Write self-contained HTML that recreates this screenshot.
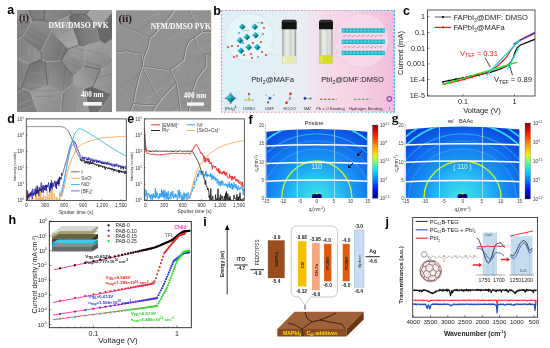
<!DOCTYPE html>
<html><head><meta charset="utf-8"><style>
html,body{margin:0;padding:0;background:#fff;width:550px;height:348px;overflow:hidden}
svg{display:block}
</style></head><body>
<svg width="550" height="348" viewBox="0 0 550 348">
<filter id="semblur" x="-5%" y="-5%" width="110%" height="110%"><feGaussianBlur stdDeviation="0.5"/></filter>
<clipPath id="c1"><rect x="17" y="10" width="94.3" height="101.8"/></clipPath>
<g clip-path="url(#c1)"><g filter="url(#semblur)">
<rect x="14.0" y="7.0" width="100.3" height="107.8" fill="rgb(134,134,134)" stroke="none" stroke-width="1" />
<linearGradient id="c1g0" gradientTransform="rotate(85 .5 .5)"><stop offset="0" stop-color="rgb(172,172,172)"/><stop offset="1" stop-color="rgb(144,144,144)"/></linearGradient>
<polygon points="33.3,20.0 -275.8,-696.3 -848.0,-124.1 31.9,20.9" fill="url(#c1g0)" stroke="rgb(100,100,100)" stroke-width="0.8" />
<line x1="-848.0" y1="-124.1" x2="31.9" y2="20.9" stroke="rgb(190,190,190)" stroke-width="0.9" opacity="0.8"/>
<line x1="31.9" y1="20.9" x2="33.3" y2="20.0" stroke="rgb(190,190,190)" stroke-width="0.9" opacity="0.8"/>
<clipPath id="c1k0"><polygon points="33.3,20.0 -275.8,-696.3 -848.0,-124.1 31.9,20.9"/></clipPath><g clip-path="url(#c1k0)">
<line x1="37.3" y1="1.7" x2="38.4" y2="17.5" stroke="rgb(180,180,180)" stroke-width="0.7" opacity="0.45"/>
<line x1="33.2" y1="0.0" x2="34.5" y2="19.7" stroke="rgb(180,180,180)" stroke-width="0.7" opacity="0.45"/>
<line x1="29.4" y1="3.3" x2="30.3" y2="17.0" stroke="rgb(100,100,100)" stroke-width="0.7" opacity="0.45"/>
<line x1="25.5" y1="3.5" x2="26.4" y2="17.3" stroke="rgb(100,100,100)" stroke-width="0.7" opacity="0.45"/>
<line x1="17.5" y1="3.8" x2="18.5" y2="18.0" stroke="rgb(180,180,180)" stroke-width="0.7" opacity="0.45"/>
<line x1="13.4" y1="2.5" x2="14.6" y2="19.9" stroke="rgb(180,180,180)" stroke-width="0.7" opacity="0.45"/>
<line x1="9.3" y1="0.4" x2="10.8" y2="22.5" stroke="rgb(180,180,180)" stroke-width="0.7" opacity="0.45"/>
<line x1="-2.3" y1="6.2" x2="-1.5" y2="18.3" stroke="rgb(100,100,100)" stroke-width="0.7" opacity="0.45"/>
</g>
<linearGradient id="c1g1" gradientTransform="rotate(107 .5 .5)"><stop offset="0" stop-color="rgb(149,149,149)"/><stop offset="1" stop-color="rgb(121,121,121)"/></linearGradient>
<polygon points="33.3,20.0 -275.8,-696.3 -19.5,-959.8 53.5,-81.7 44.0,20.4" fill="url(#c1g1)" stroke="rgb(100,100,100)" stroke-width="0.8" />
<line x1="-19.5" y1="-959.8" x2="53.5" y2="-81.7" stroke="rgb(190,190,190)" stroke-width="0.9" opacity="0.8"/>
<clipPath id="c1k1"><polygon points="33.3,20.0 -275.8,-696.3 -19.5,-959.8 53.5,-81.7 44.0,20.4"/></clipPath><g clip-path="url(#c1k1)">
<line x1="51.8" y1="6.0" x2="46.3" y2="14.4" stroke="rgb(100,100,100)" stroke-width="0.7" opacity="0.45"/>
<line x1="48.8" y1="-0.4" x2="39.2" y2="14.3" stroke="rgb(180,180,180)" stroke-width="0.7" opacity="0.45"/>
<line x1="40.9" y1="-10.2" x2="27.1" y2="11.2" stroke="rgb(180,180,180)" stroke-width="0.7" opacity="0.45"/>
<line x1="29.5" y1="-14.5" x2="18.5" y2="2.5" stroke="rgb(180,180,180)" stroke-width="0.7" opacity="0.45"/>
</g>
<linearGradient id="c1g2" gradientTransform="rotate(65 .5 .5)"><stop offset="0" stop-color="rgb(156,156,156)"/><stop offset="1" stop-color="rgb(128,128,128)"/></linearGradient>
<polygon points="50.8,24.0 44.0,20.4 53.5,-81.7 71.0,14.2 69.4,16.0" fill="url(#c1g2)" stroke="rgb(100,100,100)" stroke-width="0.8" />
<line x1="69.4" y1="16.0" x2="50.8" y2="24.0" stroke="rgb(190,190,190)" stroke-width="0.9" opacity="0.8"/>
<clipPath id="c1k2"><polygon points="50.8,24.0 44.0,20.4 53.5,-81.7 71.0,14.2 69.4,16.0"/></clipPath><g clip-path="url(#c1k2)">
<line x1="71.9" y1="17.4" x2="53.9" y2="26.5" stroke="rgb(100,100,100)" stroke-width="0.7" opacity="0.45"/>
<line x1="71.7" y1="13.0" x2="50.5" y2="23.8" stroke="rgb(100,100,100)" stroke-width="0.7" opacity="0.45"/>
<line x1="56.4" y1="-6.2" x2="44.0" y2="0.1" stroke="rgb(180,180,180)" stroke-width="0.7" opacity="0.45"/>
<line x1="60.6" y1="-12.8" x2="36.2" y2="-0.5" stroke="rgb(100,100,100)" stroke-width="0.7" opacity="0.45"/>
<line x1="55.0" y1="-14.5" x2="38.2" y2="-5.9" stroke="rgb(180,180,180)" stroke-width="0.7" opacity="0.45"/>
</g>
<linearGradient id="c1g3" gradientTransform="rotate(19 .5 .5)"><stop offset="0" stop-color="rgb(140,140,140)"/><stop offset="1" stop-color="rgb(112,112,112)"/></linearGradient>
<polygon points="71.0,14.2 53.5,-81.7 -19.5,-959.8 17.0,-999.1 529.2,-515.5 86.0,14.3" fill="url(#c1g3)" stroke="rgb(100,100,100)" stroke-width="0.8" />
<line x1="53.5" y1="-81.7" x2="-19.5" y2="-959.8" stroke="rgb(190,190,190)" stroke-width="0.9" opacity="0.8"/>
<clipPath id="c1k3"><polygon points="71.0,14.2 53.5,-81.7 -19.5,-959.8 17.0,-999.1 529.2,-515.5 86.0,14.3"/></clipPath><g clip-path="url(#c1k3)">
<line x1="104.7" y1="-6.5" x2="101.7" y2="10.8" stroke="rgb(180,180,180)" stroke-width="0.7" opacity="0.45"/>
<line x1="100.6" y1="-6.4" x2="97.8" y2="9.3" stroke="rgb(100,100,100)" stroke-width="0.7" opacity="0.45"/>
<line x1="93.1" y1="-11.2" x2="89.2" y2="11.3" stroke="rgb(180,180,180)" stroke-width="0.7" opacity="0.45"/>
<line x1="80.3" y1="-9.4" x2="77.8" y2="5.3" stroke="rgb(180,180,180)" stroke-width="0.7" opacity="0.45"/>
<line x1="72.6" y1="-12.8" x2="69.3" y2="5.9" stroke="rgb(180,180,180)" stroke-width="0.7" opacity="0.45"/>
<line x1="68.9" y1="-15.4" x2="65.0" y2="7.1" stroke="rgb(180,180,180)" stroke-width="0.7" opacity="0.45"/>
</g>
<linearGradient id="c1g4" gradientTransform="rotate(303 .5 .5)"><stop offset="0" stop-color="rgb(162,162,162)"/><stop offset="1" stop-color="rgb(134,134,134)"/></linearGradient>
<polygon points="98.0,28.3 86.0,14.3 529.2,-515.5 559.6,-487.8" fill="url(#c1g4)" stroke="rgb(100,100,100)" stroke-width="0.8" />
<line x1="559.6" y1="-487.8" x2="98.0" y2="28.3" stroke="rgb(190,190,190)" stroke-width="0.9" opacity="0.8"/>
<clipPath id="c1k4"><polygon points="98.0,28.3 86.0,14.3 529.2,-515.5 559.6,-487.8"/></clipPath><g clip-path="url(#c1k4)">
<line x1="116.7" y1="2.9" x2="117.8" y2="23.3" stroke="rgb(180,180,180)" stroke-width="0.7" opacity="0.45"/>
<line x1="112.2" y1="5.0" x2="113.2" y2="21.8" stroke="rgb(180,180,180)" stroke-width="0.7" opacity="0.45"/>
<line x1="103.3" y1="8.2" x2="104.0" y2="19.6" stroke="rgb(180,180,180)" stroke-width="0.7" opacity="0.45"/>
<line x1="98.5" y1="3.5" x2="99.7" y2="24.8" stroke="rgb(180,180,180)" stroke-width="0.7" opacity="0.45"/>
<line x1="85.3" y1="9.4" x2="85.9" y2="20.4" stroke="rgb(180,180,180)" stroke-width="0.7" opacity="0.45"/>
</g>
<linearGradient id="c1g5" gradientTransform="rotate(122 .5 .5)"><stop offset="0" stop-color="rgb(141,141,141)"/><stop offset="1" stop-color="rgb(113,113,113)"/></linearGradient>
<polygon points="22.5,37.3 -3.4,48.3 -928.5,66.7 -984.4,10.0 -848.0,-124.1 31.9,20.9" fill="url(#c1g5)" stroke="rgb(100,100,100)" stroke-width="0.8" />
<line x1="22.5" y1="37.3" x2="-3.4" y2="48.3" stroke="rgb(190,190,190)" stroke-width="0.9" opacity="0.8"/>
<line x1="-984.4" y1="10.0" x2="-848.0" y2="-124.1" stroke="rgb(190,190,190)" stroke-width="0.9" opacity="0.8"/>
<line x1="-848.0" y1="-124.1" x2="31.9" y2="20.9" stroke="rgb(190,190,190)" stroke-width="0.9" opacity="0.8"/>
<clipPath id="c1k5"><polygon points="22.5,37.3 -3.4,48.3 -928.5,66.7 -984.4,10.0 -848.0,-124.1 31.9,20.9"/></clipPath><g clip-path="url(#c1k5)">
<line x1="24.5" y1="36.8" x2="16.0" y2="40.0" stroke="rgb(100,100,100)" stroke-width="0.7" opacity="0.45"/>
<line x1="28.8" y1="28.2" x2="7.0" y2="36.4" stroke="rgb(180,180,180)" stroke-width="0.7" opacity="0.45"/>
<line x1="19.4" y1="24.8" x2="11.8" y2="27.7" stroke="rgb(180,180,180)" stroke-width="0.7" opacity="0.45"/>
<line x1="18.7" y1="4.2" x2="-1.3" y2="11.8" stroke="rgb(180,180,180)" stroke-width="0.7" opacity="0.45"/>
</g>
<linearGradient id="c1g6" gradientTransform="rotate(95 .5 .5)"><stop offset="0" stop-color="rgb(142,142,142)"/><stop offset="1" stop-color="rgb(114,114,114)"/></linearGradient>
<polygon points="51.3,30.7 40.8,51.8 22.5,37.3 31.9,20.9 33.3,20.0 44.0,20.4 50.8,24.0" fill="url(#c1g6)" stroke="rgb(100,100,100)" stroke-width="0.8" />
<line x1="40.8" y1="51.8" x2="22.5" y2="37.3" stroke="rgb(190,190,190)" stroke-width="0.9" opacity="0.8"/>
<line x1="22.5" y1="37.3" x2="31.9" y2="20.9" stroke="rgb(190,190,190)" stroke-width="0.9" opacity="0.8"/>
<clipPath id="c1k6"><polygon points="51.3,30.7 40.8,51.8 22.5,37.3 31.9,20.9 33.3,20.0 44.0,20.4 50.8,24.0"/></clipPath><g clip-path="url(#c1k6)">
<line x1="33.6" y1="13.5" x2="57.6" y2="26.6" stroke="rgb(180,180,180)" stroke-width="0.7" opacity="0.45"/>
<line x1="30.2" y1="28.1" x2="47.0" y2="37.4" stroke="rgb(100,100,100)" stroke-width="0.7" opacity="0.45"/>
<line x1="26.8" y1="31.8" x2="45.8" y2="42.2" stroke="rgb(100,100,100)" stroke-width="0.7" opacity="0.45"/>
<line x1="24.6" y1="36.1" x2="43.3" y2="46.4" stroke="rgb(180,180,180)" stroke-width="0.7" opacity="0.45"/>
<line x1="18.9" y1="44.0" x2="39.7" y2="55.4" stroke="rgb(100,100,100)" stroke-width="0.7" opacity="0.45"/>
<line x1="18.8" y1="49.4" x2="35.2" y2="58.4" stroke="rgb(180,180,180)" stroke-width="0.7" opacity="0.45"/>
</g>
<linearGradient id="c1g7" gradientTransform="rotate(230 .5 .5)"><stop offset="0" stop-color="rgb(167,167,167)"/><stop offset="1" stop-color="rgb(139,139,139)"/></linearGradient>
<polygon points="68.3,48.9 51.3,30.7 50.8,24.0 69.4,16.0 79.6,44.9" fill="url(#c1g7)" stroke="rgb(100,100,100)" stroke-width="0.8" />
<line x1="51.3" y1="30.7" x2="50.8" y2="24.0" stroke="rgb(190,190,190)" stroke-width="0.9" opacity="0.8"/>
<line x1="50.8" y1="24.0" x2="69.4" y2="16.0" stroke="rgb(190,190,190)" stroke-width="0.9" opacity="0.8"/>
<line x1="79.6" y1="44.9" x2="68.3" y2="48.9" stroke="rgb(190,190,190)" stroke-width="0.9" opacity="0.8"/>
<clipPath id="c1k7"><polygon points="68.3,48.9 51.3,30.7 50.8,24.0 69.4,16.0 79.6,44.9"/></clipPath><g clip-path="url(#c1k7)">
<line x1="80.2" y1="51.7" x2="70.8" y2="55.9" stroke="rgb(180,180,180)" stroke-width="0.7" opacity="0.45"/>
<line x1="79.1" y1="45.4" x2="66.9" y2="50.9" stroke="rgb(180,180,180)" stroke-width="0.7" opacity="0.45"/>
<line x1="76.1" y1="33.4" x2="59.9" y2="40.6" stroke="rgb(180,180,180)" stroke-width="0.7" opacity="0.45"/>
<line x1="69.3" y1="29.7" x2="61.8" y2="33.1" stroke="rgb(100,100,100)" stroke-width="0.7" opacity="0.45"/>
<line x1="70.7" y1="22.4" x2="55.4" y2="29.2" stroke="rgb(180,180,180)" stroke-width="0.7" opacity="0.45"/>
<line x1="72.3" y1="14.9" x2="48.8" y2="25.4" stroke="rgb(180,180,180)" stroke-width="0.7" opacity="0.45"/>
</g>
<linearGradient id="c1g8" gradientTransform="rotate(195 .5 .5)"><stop offset="0" stop-color="rgb(135,135,135)"/><stop offset="1" stop-color="rgb(107,107,107)"/></linearGradient>
<polygon points="84.6,46.1 101.1,41.1 98.0,28.3 86.0,14.3 71.0,14.2 69.4,16.0 79.6,44.9" fill="url(#c1g8)" stroke="rgb(100,100,100)" stroke-width="0.8" />
<line x1="84.6" y1="46.1" x2="101.1" y2="41.1" stroke="rgb(190,190,190)" stroke-width="0.9" opacity="0.8"/>
<line x1="71.0" y1="14.2" x2="69.4" y2="16.0" stroke="rgb(190,190,190)" stroke-width="0.9" opacity="0.8"/>
<clipPath id="c1k8"><polygon points="84.6,46.1 101.1,41.1 98.0,28.3 86.0,14.3 71.0,14.2 69.4,16.0 79.6,44.9"/></clipPath><g clip-path="url(#c1k8)">
<line x1="88.2" y1="8.7" x2="101.9" y2="18.7" stroke="rgb(100,100,100)" stroke-width="0.7" opacity="0.45"/>
<line x1="86.2" y1="13.1" x2="98.3" y2="22.0" stroke="rgb(100,100,100)" stroke-width="0.7" opacity="0.45"/>
<line x1="80.6" y1="14.9" x2="98.3" y2="27.8" stroke="rgb(180,180,180)" stroke-width="0.7" opacity="0.45"/>
<line x1="79.9" y1="20.3" x2="93.4" y2="30.1" stroke="rgb(180,180,180)" stroke-width="0.7" opacity="0.45"/>
<line x1="79.4" y1="25.8" x2="88.3" y2="32.3" stroke="rgb(180,180,180)" stroke-width="0.7" opacity="0.45"/>
<line x1="73.2" y1="33.0" x2="83.4" y2="40.5" stroke="rgb(100,100,100)" stroke-width="0.7" opacity="0.45"/>
</g>
<linearGradient id="c1g9" gradientTransform="rotate(175 .5 .5)"><stop offset="0" stop-color="rgb(133,133,133)"/><stop offset="1" stop-color="rgb(105,105,105)"/></linearGradient>
<polygon points="101.1,41.1 98.0,28.3 559.6,-487.8 713.2,-350.5 105.8,43.5" fill="url(#c1g9)" stroke="rgb(100,100,100)" stroke-width="0.8" />
<line x1="98.0" y1="28.3" x2="559.6" y2="-487.8" stroke="rgb(190,190,190)" stroke-width="0.9" opacity="0.8"/>
<clipPath id="c1k9"><polygon points="101.1,41.1 98.0,28.3 559.6,-487.8 713.2,-350.5 105.8,43.5"/></clipPath><g clip-path="url(#c1k9)">
<line x1="131.3" y1="33.6" x2="115.7" y2="44.8" stroke="rgb(100,100,100)" stroke-width="0.7" opacity="0.45"/>
<line x1="126.9" y1="21.5" x2="105.6" y2="36.7" stroke="rgb(100,100,100)" stroke-width="0.7" opacity="0.45"/>
<line x1="113.3" y1="15.8" x2="104.6" y2="22.1" stroke="rgb(180,180,180)" stroke-width="0.7" opacity="0.45"/>
<line x1="109.2" y1="3.5" x2="94.2" y2="14.2" stroke="rgb(100,100,100)" stroke-width="0.7" opacity="0.45"/>
</g>
<linearGradient id="c1g10" gradientTransform="rotate(184 .5 .5)"><stop offset="0" stop-color="rgb(146,146,146)"/><stop offset="1" stop-color="rgb(118,118,118)"/></linearGradient>
<polygon points="40.8,51.8 41.7,59.4 29.8,64.4 -3.4,48.3 22.5,37.3" fill="url(#c1g10)" stroke="rgb(100,100,100)" stroke-width="0.8" />
<line x1="29.8" y1="64.4" x2="-3.4" y2="48.3" stroke="rgb(190,190,190)" stroke-width="0.9" opacity="0.8"/>
<line x1="-3.4" y1="48.3" x2="22.5" y2="37.3" stroke="rgb(190,190,190)" stroke-width="0.9" opacity="0.8"/>
<clipPath id="c1k10"><polygon points="40.8,51.8 41.7,59.4 29.8,64.4 -3.4,48.3 22.5,37.3"/></clipPath><g clip-path="url(#c1k10)">
<line x1="45.6" y1="38.6" x2="46.1" y2="61.2" stroke="rgb(100,100,100)" stroke-width="0.7" opacity="0.45"/>
<line x1="40.3" y1="44.2" x2="40.5" y2="55.9" stroke="rgb(180,180,180)" stroke-width="0.7" opacity="0.45"/>
<line x1="34.7" y1="39.2" x2="35.2" y2="61.1" stroke="rgb(180,180,180)" stroke-width="0.7" opacity="0.45"/>
<line x1="29.4" y1="45.8" x2="29.6" y2="54.7" stroke="rgb(180,180,180)" stroke-width="0.7" opacity="0.45"/>
<line x1="12.8" y1="37.2" x2="13.3" y2="64.0" stroke="rgb(180,180,180)" stroke-width="0.7" opacity="0.45"/>
</g>
<linearGradient id="c1g11" gradientTransform="rotate(16 .5 .5)"><stop offset="0" stop-color="rgb(139,139,139)"/><stop offset="1" stop-color="rgb(111,111,111)"/></linearGradient>
<polygon points="60.9,60.9 45.3,61.5 41.7,59.4 40.8,51.8 51.3,30.7 68.3,48.9" fill="url(#c1g11)" stroke="rgb(100,100,100)" stroke-width="0.8" />
<line x1="45.3" y1="61.5" x2="41.7" y2="59.4" stroke="rgb(190,190,190)" stroke-width="0.9" opacity="0.8"/>
<line x1="40.8" y1="51.8" x2="51.3" y2="30.7" stroke="rgb(190,190,190)" stroke-width="0.9" opacity="0.8"/>
<line x1="51.3" y1="30.7" x2="68.3" y2="48.9" stroke="rgb(190,190,190)" stroke-width="0.9" opacity="0.8"/>
<clipPath id="c1k11"><polygon points="60.9,60.9 45.3,61.5 41.7,59.4 40.8,51.8 51.3,30.7 68.3,48.9"/></clipPath><g clip-path="url(#c1k11)">
<line x1="67.4" y1="38.9" x2="57.7" y2="61.6" stroke="rgb(180,180,180)" stroke-width="0.7" opacity="0.45"/>
<line x1="43.3" y1="35.0" x2="38.3" y2="46.9" stroke="rgb(180,180,180)" stroke-width="0.7" opacity="0.45"/>
</g>
<linearGradient id="c1g12" gradientTransform="rotate(93 .5 .5)"><stop offset="0" stop-color="rgb(156,156,156)"/><stop offset="1" stop-color="rgb(128,128,128)"/></linearGradient>
<polygon points="73.1,76.6 60.9,60.9 68.3,48.9 79.6,44.9 84.6,46.1 84.1,66.4" fill="url(#c1g12)" stroke="rgb(100,100,100)" stroke-width="0.8" />
<line x1="84.6" y1="46.1" x2="84.1" y2="66.4" stroke="rgb(190,190,190)" stroke-width="0.9" opacity="0.8"/>
<line x1="84.1" y1="66.4" x2="73.1" y2="76.6" stroke="rgb(190,190,190)" stroke-width="0.9" opacity="0.8"/>
<clipPath id="c1k12"><polygon points="73.1,76.6 60.9,60.9 68.3,48.9 79.6,44.9 84.6,46.1 84.1,66.4"/></clipPath><g clip-path="url(#c1k12)">
<line x1="77.0" y1="38.8" x2="89.9" y2="44.0" stroke="rgb(100,100,100)" stroke-width="0.7" opacity="0.45"/>
<line x1="75.7" y1="47.4" x2="84.7" y2="51.1" stroke="rgb(100,100,100)" stroke-width="0.7" opacity="0.45"/>
<line x1="69.4" y1="53.9" x2="84.7" y2="60.2" stroke="rgb(180,180,180)" stroke-width="0.7" opacity="0.45"/>
<line x1="71.1" y1="59.2" x2="79.8" y2="62.7" stroke="rgb(100,100,100)" stroke-width="0.7" opacity="0.45"/>
<line x1="66.3" y1="61.8" x2="81.4" y2="68.0" stroke="rgb(100,100,100)" stroke-width="0.7" opacity="0.45"/>
<line x1="63.1" y1="65.1" x2="81.4" y2="72.5" stroke="rgb(180,180,180)" stroke-width="0.7" opacity="0.45"/>
<line x1="60.7" y1="73.2" x2="77.4" y2="80.1" stroke="rgb(100,100,100)" stroke-width="0.7" opacity="0.45"/>
</g>
<linearGradient id="c1g13" gradientTransform="rotate(65 .5 .5)"><stop offset="0" stop-color="rgb(162,162,162)"/><stop offset="1" stop-color="rgb(134,134,134)"/></linearGradient>
<polygon points="84.1,66.4 100.6,69.4 113.6,62.7 105.8,43.5 101.1,41.1 84.6,46.1" fill="url(#c1g13)" stroke="rgb(100,100,100)" stroke-width="0.8" />
<line x1="100.6" y1="69.4" x2="113.6" y2="62.7" stroke="rgb(190,190,190)" stroke-width="0.9" opacity="0.8"/>
<line x1="113.6" y1="62.7" x2="105.8" y2="43.5" stroke="rgb(190,190,190)" stroke-width="0.9" opacity="0.8"/>
<line x1="101.1" y1="41.1" x2="84.6" y2="46.1" stroke="rgb(190,190,190)" stroke-width="0.9" opacity="0.8"/>
<line x1="84.6" y1="46.1" x2="84.1" y2="66.4" stroke="rgb(190,190,190)" stroke-width="0.9" opacity="0.8"/>
<clipPath id="c1k13"><polygon points="84.1,66.4 100.6,69.4 113.6,62.7 105.8,43.5 101.1,41.1 84.6,46.1"/></clipPath><g clip-path="url(#c1k13)">
<line x1="87.4" y1="50.3" x2="102.3" y2="54.5" stroke="rgb(100,100,100)" stroke-width="0.7" opacity="0.45"/>
<line x1="81.4" y1="60.8" x2="102.0" y2="66.6" stroke="rgb(100,100,100)" stroke-width="0.7" opacity="0.45"/>
<line x1="76.8" y1="65.7" x2="103.4" y2="73.1" stroke="rgb(180,180,180)" stroke-width="0.7" opacity="0.45"/>
<line x1="83.9" y1="73.8" x2="93.1" y2="76.3" stroke="rgb(180,180,180)" stroke-width="0.7" opacity="0.45"/>
</g>
<linearGradient id="c1g14" gradientTransform="rotate(264 .5 .5)"><stop offset="0" stop-color="rgb(164,164,164)"/><stop offset="1" stop-color="rgb(136,136,136)"/></linearGradient>
<polygon points="113.6,62.7 143.2,82.7 879.6,244.0 1133.0,10.0 713.2,-350.5 105.8,43.5" fill="url(#c1g14)" stroke="rgb(100,100,100)" stroke-width="0.8" />
<line x1="879.6" y1="244.0" x2="1133.0" y2="10.0" stroke="rgb(190,190,190)" stroke-width="0.9" opacity="0.8"/>
<line x1="1133.0" y1="10.0" x2="713.2" y2="-350.5" stroke="rgb(190,190,190)" stroke-width="0.9" opacity="0.8"/>
<line x1="713.2" y1="-350.5" x2="105.8" y2="43.5" stroke="rgb(190,190,190)" stroke-width="0.9" opacity="0.8"/>
<line x1="105.8" y1="43.5" x2="113.6" y2="62.7" stroke="rgb(190,190,190)" stroke-width="0.9" opacity="0.8"/>
<clipPath id="c1k14"><polygon points="113.6,62.7 143.2,82.7 879.6,244.0 1133.0,10.0 713.2,-350.5 105.8,43.5"/></clipPath><g clip-path="url(#c1k14)">
<line x1="127.9" y1="35.4" x2="137.9" y2="46.5" stroke="rgb(180,180,180)" stroke-width="0.7" opacity="0.45"/>
<line x1="124.3" y1="40.4" x2="132.6" y2="49.6" stroke="rgb(100,100,100)" stroke-width="0.7" opacity="0.45"/>
<line x1="114.5" y1="47.4" x2="124.5" y2="58.5" stroke="rgb(180,180,180)" stroke-width="0.7" opacity="0.45"/>
<line x1="106.9" y1="48.0" x2="123.2" y2="66.0" stroke="rgb(100,100,100)" stroke-width="0.7" opacity="0.45"/>
</g>
<linearGradient id="c1g15" gradientTransform="rotate(23 .5 .5)"><stop offset="0" stop-color="rgb(154,154,154)"/><stop offset="1" stop-color="rgb(126,126,126)"/></linearGradient>
<polygon points="29.8,64.4 -3.4,48.3 -928.5,66.7 -752.7,253.6 21.8,88.1" fill="url(#c1g15)" stroke="rgb(100,100,100)" stroke-width="0.8" />
<line x1="29.8" y1="64.4" x2="-3.4" y2="48.3" stroke="rgb(190,190,190)" stroke-width="0.9" opacity="0.8"/>
<line x1="-3.4" y1="48.3" x2="-928.5" y2="66.7" stroke="rgb(190,190,190)" stroke-width="0.9" opacity="0.8"/>
<line x1="-752.7" y1="253.6" x2="21.8" y2="88.1" stroke="rgb(190,190,190)" stroke-width="0.9" opacity="0.8"/>
<clipPath id="c1k15"><polygon points="29.8,64.4 -3.4,48.3 -928.5,66.7 -752.7,253.6 21.8,88.1"/></clipPath><g clip-path="url(#c1k15)">
<line x1="26.7" y1="60.1" x2="29.2" y2="76.3" stroke="rgb(180,180,180)" stroke-width="0.7" opacity="0.45"/>
<line x1="18.6" y1="61.7" x2="21.0" y2="77.2" stroke="rgb(100,100,100)" stroke-width="0.7" opacity="0.45"/>
<line x1="14.2" y1="60.5" x2="17.2" y2="79.7" stroke="rgb(180,180,180)" stroke-width="0.7" opacity="0.45"/>
<line x1="9.6" y1="57.9" x2="13.6" y2="83.6" stroke="rgb(180,180,180)" stroke-width="0.7" opacity="0.45"/>
<line x1="6.4" y1="63.7" x2="8.8" y2="79.1" stroke="rgb(180,180,180)" stroke-width="0.7" opacity="0.45"/>
</g>
<linearGradient id="c1g16" gradientTransform="rotate(245 .5 .5)"><stop offset="0" stop-color="rgb(140,140,140)"/><stop offset="1" stop-color="rgb(112,112,112)"/></linearGradient>
<polygon points="47.6,85.7 45.3,61.5 41.7,59.4 29.8,64.4 21.8,88.1 30.3,91.7" fill="url(#c1g16)" stroke="rgb(100,100,100)" stroke-width="0.8" />
<line x1="45.3" y1="61.5" x2="41.7" y2="59.4" stroke="rgb(190,190,190)" stroke-width="0.9" opacity="0.8"/>
<line x1="21.8" y1="88.1" x2="30.3" y2="91.7" stroke="rgb(190,190,190)" stroke-width="0.9" opacity="0.8"/>
<clipPath id="c1k16"><polygon points="47.6,85.7 45.3,61.5 41.7,59.4 29.8,64.4 21.8,88.1 30.3,91.7"/></clipPath><g clip-path="url(#c1k16)">
<line x1="34.2" y1="56.5" x2="44.8" y2="57.8" stroke="rgb(180,180,180)" stroke-width="0.7" opacity="0.45"/>
<line x1="29.2" y1="60.0" x2="48.8" y2="62.4" stroke="rgb(100,100,100)" stroke-width="0.7" opacity="0.45"/>
<line x1="31.6" y1="72.5" x2="43.4" y2="74.0" stroke="rgb(180,180,180)" stroke-width="0.7" opacity="0.45"/>
<line x1="26.6" y1="84.2" x2="45.5" y2="86.5" stroke="rgb(180,180,180)" stroke-width="0.7" opacity="0.45"/>
<line x1="28.8" y1="88.6" x2="42.3" y2="90.2" stroke="rgb(100,100,100)" stroke-width="0.7" opacity="0.45"/>
<line x1="26.1" y1="92.3" x2="43.9" y2="94.5" stroke="rgb(180,180,180)" stroke-width="0.7" opacity="0.45"/>
</g>
<linearGradient id="c1g17" gradientTransform="rotate(315 .5 .5)"><stop offset="0" stop-color="rgb(146,146,146)"/><stop offset="1" stop-color="rgb(118,118,118)"/></linearGradient>
<polygon points="62.0,92.7 47.6,85.7 45.3,61.5 60.9,60.9 73.1,76.6 73.1,83.8" fill="url(#c1g17)" stroke="rgb(100,100,100)" stroke-width="0.8" />
<line x1="45.3" y1="61.5" x2="60.9" y2="60.9" stroke="rgb(190,190,190)" stroke-width="0.9" opacity="0.8"/>
<line x1="73.1" y1="83.8" x2="62.0" y2="92.7" stroke="rgb(190,190,190)" stroke-width="0.9" opacity="0.8"/>
<clipPath id="c1k17"><polygon points="62.0,92.7 47.6,85.7 45.3,61.5 60.9,60.9 73.1,76.6 73.1,83.8"/></clipPath><g clip-path="url(#c1k17)">
<line x1="73.0" y1="66.5" x2="71.4" y2="86.4" stroke="rgb(180,180,180)" stroke-width="0.7" opacity="0.45"/>
<line x1="65.3" y1="62.5" x2="63.2" y2="89.2" stroke="rgb(100,100,100)" stroke-width="0.7" opacity="0.45"/>
<line x1="48.8" y1="69.4" x2="48.0" y2="79.7" stroke="rgb(100,100,100)" stroke-width="0.7" opacity="0.45"/>
</g>
<linearGradient id="c1g18" gradientTransform="rotate(337 .5 .5)"><stop offset="0" stop-color="rgb(163,163,163)"/><stop offset="1" stop-color="rgb(135,135,135)"/></linearGradient>
<polygon points="85.0,89.1 73.1,83.8 73.1,76.6 84.1,66.4 100.6,69.4 92.8,86.7" fill="url(#c1g18)" stroke="rgb(100,100,100)" stroke-width="0.8" />
<line x1="73.1" y1="83.8" x2="73.1" y2="76.6" stroke="rgb(190,190,190)" stroke-width="0.9" opacity="0.8"/>
<line x1="73.1" y1="76.6" x2="84.1" y2="66.4" stroke="rgb(190,190,190)" stroke-width="0.9" opacity="0.8"/>
<line x1="92.8" y1="86.7" x2="85.0" y2="89.1" stroke="rgb(190,190,190)" stroke-width="0.9" opacity="0.8"/>
<clipPath id="c1k18"><polygon points="85.0,89.1 73.1,83.8 73.1,76.6 84.1,66.4 100.6,69.4 92.8,86.7"/></clipPath><g clip-path="url(#c1k18)">
<line x1="103.2" y1="82.2" x2="94.2" y2="89.5" stroke="rgb(180,180,180)" stroke-width="0.7" opacity="0.45"/>
<line x1="104.2" y1="73.5" x2="85.5" y2="88.7" stroke="rgb(180,180,180)" stroke-width="0.7" opacity="0.45"/>
<line x1="86.9" y1="64.0" x2="79.7" y2="69.9" stroke="rgb(180,180,180)" stroke-width="0.7" opacity="0.45"/>
<line x1="83.6" y1="58.9" x2="75.3" y2="65.6" stroke="rgb(180,180,180)" stroke-width="0.7" opacity="0.45"/>
</g>
<linearGradient id="c1g19" gradientTransform="rotate(1 .5 .5)"><stop offset="0" stop-color="rgb(154,154,154)"/><stop offset="1" stop-color="rgb(126,126,126)"/></linearGradient>
<polygon points="111.8,93.8 143.2,82.7 113.6,62.7 100.6,69.4 92.8,86.7" fill="url(#c1g19)" stroke="rgb(100,100,100)" stroke-width="0.8" />
<line x1="143.2" y1="82.7" x2="113.6" y2="62.7" stroke="rgb(190,190,190)" stroke-width="0.9" opacity="0.8"/>
<line x1="113.6" y1="62.7" x2="100.6" y2="69.4" stroke="rgb(190,190,190)" stroke-width="0.9" opacity="0.8"/>
<clipPath id="c1k19"><polygon points="111.8,93.8 143.2,82.7 113.6,62.7 100.6,69.4 92.8,86.7"/></clipPath><g clip-path="url(#c1k19)">
<line x1="118.0" y1="98.4" x2="97.6" y2="103.0" stroke="rgb(180,180,180)" stroke-width="0.7" opacity="0.45"/>
<line x1="114.9" y1="80.0" x2="92.5" y2="85.1" stroke="rgb(180,180,180)" stroke-width="0.7" opacity="0.45"/>
<line x1="112.5" y1="74.2" x2="92.2" y2="78.8" stroke="rgb(100,100,100)" stroke-width="0.7" opacity="0.45"/>
<line x1="113.2" y1="67.7" x2="88.7" y2="73.3" stroke="rgb(180,180,180)" stroke-width="0.7" opacity="0.45"/>
<line x1="108.4" y1="62.4" x2="90.7" y2="66.5" stroke="rgb(180,180,180)" stroke-width="0.7" opacity="0.45"/>
</g>
<linearGradient id="c1g20" gradientTransform="rotate(233 .5 .5)"><stop offset="0" stop-color="rgb(143,143,143)"/><stop offset="1" stop-color="rgb(115,115,115)"/></linearGradient>
<polygon points="55.9,160.4 30.3,91.7 21.8,88.1 -752.7,253.6 17.0,1111.9 45.2,1080.9 64.9,264.5" fill="url(#c1g20)" stroke="rgb(100,100,100)" stroke-width="0.8" />
<line x1="55.9" y1="160.4" x2="30.3" y2="91.7" stroke="rgb(190,190,190)" stroke-width="0.9" opacity="0.8"/>
<line x1="30.3" y1="91.7" x2="21.8" y2="88.1" stroke="rgb(190,190,190)" stroke-width="0.9" opacity="0.8"/>
<line x1="-752.7" y1="253.6" x2="17.0" y2="1111.9" stroke="rgb(190,190,190)" stroke-width="0.9" opacity="0.8"/>
<line x1="17.0" y1="1111.9" x2="45.2" y2="1080.9" stroke="rgb(190,190,190)" stroke-width="0.9" opacity="0.8"/>
<line x1="45.2" y1="1080.9" x2="64.9" y2="264.5" stroke="rgb(190,190,190)" stroke-width="0.9" opacity="0.8"/>
<clipPath id="c1k20"><polygon points="55.9,160.4 30.3,91.7 21.8,88.1 -752.7,253.6 17.0,1111.9 45.2,1080.9 64.9,264.5"/></clipPath><g clip-path="url(#c1k20)">
<line x1="36.0" y1="123.5" x2="27.6" y2="127.0" stroke="rgb(100,100,100)" stroke-width="0.7" opacity="0.45"/>
<line x1="39.6" y1="115.6" x2="19.5" y2="123.9" stroke="rgb(180,180,180)" stroke-width="0.7" opacity="0.45"/>
<line x1="37.5" y1="103.5" x2="12.4" y2="113.8" stroke="rgb(180,180,180)" stroke-width="0.7" opacity="0.45"/>
<line x1="32.4" y1="99.1" x2="12.9" y2="107.1" stroke="rgb(180,180,180)" stroke-width="0.7" opacity="0.45"/>
<line x1="24.4" y1="89.4" x2="11.8" y2="94.6" stroke="rgb(180,180,180)" stroke-width="0.7" opacity="0.45"/>
</g>
<linearGradient id="c1g21" gradientTransform="rotate(59 .5 .5)"><stop offset="0" stop-color="rgb(157,157,157)"/><stop offset="1" stop-color="rgb(129,129,129)"/></linearGradient>
<polygon points="62.0,92.7 47.6,85.7 30.3,91.7 55.9,160.4" fill="url(#c1g21)" stroke="rgb(100,100,100)" stroke-width="0.8" />
<line x1="62.0" y1="92.7" x2="47.6" y2="85.7" stroke="rgb(190,190,190)" stroke-width="0.9" opacity="0.8"/>
<line x1="47.6" y1="85.7" x2="30.3" y2="91.7" stroke="rgb(190,190,190)" stroke-width="0.9" opacity="0.8"/>
<line x1="30.3" y1="91.7" x2="55.9" y2="160.4" stroke="rgb(190,190,190)" stroke-width="0.9" opacity="0.8"/>
<line x1="55.9" y1="160.4" x2="62.0" y2="92.7" stroke="rgb(190,190,190)" stroke-width="0.9" opacity="0.8"/>
<clipPath id="c1k21"><polygon points="62.0,92.7 47.6,85.7 30.3,91.7 55.9,160.4"/></clipPath><g clip-path="url(#c1k21)">
<line x1="53.3" y1="96.2" x2="36.1" y2="96.6" stroke="rgb(100,100,100)" stroke-width="0.7" opacity="0.45"/>
<line x1="57.0" y1="90.4" x2="32.0" y2="91.1" stroke="rgb(100,100,100)" stroke-width="0.7" opacity="0.45"/>
<line x1="54.1" y1="79.1" x2="34.4" y2="79.6" stroke="rgb(180,180,180)" stroke-width="0.7" opacity="0.45"/>
</g>
<linearGradient id="c1g22" gradientTransform="rotate(169 .5 .5)"><stop offset="0" stop-color="rgb(156,156,156)"/><stop offset="1" stop-color="rgb(128,128,128)"/></linearGradient>
<polygon points="92.4,121.9 64.9,264.5 55.9,160.4 62.0,92.7 73.1,83.8 85.0,89.1" fill="url(#c1g22)" stroke="rgb(100,100,100)" stroke-width="0.8" />
<line x1="92.4" y1="121.9" x2="64.9" y2="264.5" stroke="rgb(190,190,190)" stroke-width="0.9" opacity="0.8"/>
<line x1="55.9" y1="160.4" x2="62.0" y2="92.7" stroke="rgb(190,190,190)" stroke-width="0.9" opacity="0.8"/>
<line x1="62.0" y1="92.7" x2="73.1" y2="83.8" stroke="rgb(190,190,190)" stroke-width="0.9" opacity="0.8"/>
<line x1="73.1" y1="83.8" x2="85.0" y2="89.1" stroke="rgb(190,190,190)" stroke-width="0.9" opacity="0.8"/>
<line x1="85.0" y1="89.1" x2="92.4" y2="121.9" stroke="rgb(190,190,190)" stroke-width="0.9" opacity="0.8"/>
<clipPath id="c1k22"><polygon points="92.4,121.9 64.9,264.5 55.9,160.4 62.0,92.7 73.1,83.8 85.0,89.1"/></clipPath><g clip-path="url(#c1k22)">
<line x1="98.3" y1="99.9" x2="97.0" y2="109.5" stroke="rgb(180,180,180)" stroke-width="0.7" opacity="0.45"/>
<line x1="91.4" y1="92.6" x2="88.5" y2="114.7" stroke="rgb(180,180,180)" stroke-width="0.7" opacity="0.45"/>
<line x1="86.9" y1="97.1" x2="85.3" y2="109.3" stroke="rgb(180,180,180)" stroke-width="0.7" opacity="0.45"/>
<line x1="79.7" y1="92.6" x2="77.2" y2="111.8" stroke="rgb(180,180,180)" stroke-width="0.7" opacity="0.45"/>
<line x1="64.0" y1="93.2" x2="62.1" y2="107.2" stroke="rgb(100,100,100)" stroke-width="0.7" opacity="0.45"/>
<line x1="59.8" y1="95.6" x2="58.7" y2="103.8" stroke="rgb(180,180,180)" stroke-width="0.7" opacity="0.45"/>
</g>
<linearGradient id="c1g23" gradientTransform="rotate(241 .5 .5)"><stop offset="0" stop-color="rgb(126,126,126)"/><stop offset="1" stop-color="rgb(98,98,98)"/></linearGradient>
<polygon points="92.4,121.9 85.0,89.1 92.8,86.7 111.8,93.8" fill="url(#c1g23)" stroke="rgb(100,100,100)" stroke-width="0.8" />
<line x1="92.8" y1="86.7" x2="111.8" y2="93.8" stroke="rgb(190,190,190)" stroke-width="0.9" opacity="0.8"/>
<clipPath id="c1k23"><polygon points="92.4,121.9 85.0,89.1 92.8,86.7 111.8,93.8"/></clipPath><g clip-path="url(#c1k23)">
<line x1="91.4" y1="95.3" x2="103.1" y2="96.0" stroke="rgb(100,100,100)" stroke-width="0.7" opacity="0.45"/>
<line x1="89.6" y1="101.2" x2="104.2" y2="102.0" stroke="rgb(100,100,100)" stroke-width="0.7" opacity="0.45"/>
</g>
<linearGradient id="c1g24" gradientTransform="rotate(74 .5 .5)"><stop offset="0" stop-color="rgb(133,133,133)"/><stop offset="1" stop-color="rgb(105,105,105)"/></linearGradient>
<polygon points="92.4,121.9 64.9,264.5 45.2,1080.9 879.6,244.0 143.2,82.7 111.8,93.8" fill="url(#c1g24)" stroke="rgb(100,100,100)" stroke-width="0.8" />
<line x1="92.4" y1="121.9" x2="64.9" y2="264.5" stroke="rgb(190,190,190)" stroke-width="0.9" opacity="0.8"/>
<line x1="64.9" y1="264.5" x2="45.2" y2="1080.9" stroke="rgb(190,190,190)" stroke-width="0.9" opacity="0.8"/>
<line x1="879.6" y1="244.0" x2="143.2" y2="82.7" stroke="rgb(190,190,190)" stroke-width="0.9" opacity="0.8"/>
<line x1="111.8" y1="93.8" x2="92.4" y2="121.9" stroke="rgb(190,190,190)" stroke-width="0.9" opacity="0.8"/>
<clipPath id="c1k24"><polygon points="92.4,121.9 64.9,264.5 45.2,1080.9 879.6,244.0 143.2,82.7 111.8,93.8"/></clipPath><g clip-path="url(#c1k24)">
<line x1="132.4" y1="117.7" x2="123.4" y2="127.3" stroke="rgb(180,180,180)" stroke-width="0.7" opacity="0.45"/>
<line x1="129.2" y1="113.7" x2="119.2" y2="124.5" stroke="rgb(180,180,180)" stroke-width="0.7" opacity="0.45"/>
<line x1="121.7" y1="99.5" x2="104.5" y2="118.1" stroke="rgb(100,100,100)" stroke-width="0.7" opacity="0.45"/>
<line x1="110.6" y1="96.7" x2="100.9" y2="107.3" stroke="rgb(100,100,100)" stroke-width="0.7" opacity="0.45"/>
</g>
</g></g>
<clipPath id="c2"><rect x="116" y="10.2" width="95.2" height="101.3"/></clipPath><g clip-path="url(#c2)"><g filter="url(#semblur)">
<rect x="113.0" y="7.0" width="101.0" height="108.0" fill="rgb(146,146,146)" stroke="none" stroke-width="1" />
<path d="M186.7,76.6 Q192.2,69.8 193.7,67.0" fill="none" stroke="rgb(118,118,118)" stroke-width="0.7" opacity="0.5"/>
<path d="M194.9,59.3 Q211.2,51.2 223.5,47.1" fill="none" stroke="rgb(118,118,118)" stroke-width="0.7" opacity="0.5"/>
<path d="M132.0,85.3 Q136.7,76.6 137.4,71.8" fill="none" stroke="rgb(118,118,118)" stroke-width="0.7" opacity="0.5"/>
<path d="M168.6,39.6 Q184.4,30.6 196.2,25.6" fill="none" stroke="rgb(178,178,178)" stroke-width="0.7" opacity="0.5"/>
<path d="M154.1,80.1 Q159.9,74.9 161.8,73.7" fill="none" stroke="rgb(178,178,178)" stroke-width="0.7" opacity="0.5"/>
<path d="M154.4,94.9 Q162.9,85.6 167.3,80.4" fill="none" stroke="rgb(178,178,178)" stroke-width="0.7" opacity="0.5"/>
<path d="M184.5,37.6 Q192.5,27.1 196.6,20.6" fill="none" stroke="rgb(178,178,178)" stroke-width="0.7" opacity="0.5"/>
<path d="M141.6,36.0 Q154.5,28.7 163.3,25.4" fill="none" stroke="rgb(178,178,178)" stroke-width="0.7" opacity="0.5"/>
<path d="M111.9,41.2 Q119.4,27.6 122.8,18.1" fill="none" stroke="rgb(178,178,178)" stroke-width="0.7" opacity="0.5"/>
<path d="M143.9,99.5 Q156.2,91.4 164.4,87.3" fill="none" stroke="rgb(178,178,178)" stroke-width="0.7" opacity="0.5"/>
<path d="M173.9,113.9 Q179.3,107.2 180.8,104.5" fill="none" stroke="rgb(178,178,178)" stroke-width="0.7" opacity="0.5"/>
<path d="M141.2,105.4 Q148.1,101.8 151.0,102.2" fill="none" stroke="rgb(178,178,178)" stroke-width="0.7" opacity="0.5"/>
<path d="M139.7,108.9 Q150.2,98.0 156.7,91.1" fill="none" stroke="rgb(178,178,178)" stroke-width="0.7" opacity="0.5"/>
<path d="M124.0,58.9 Q134.6,46.8 141.2,38.7" fill="none" stroke="rgb(178,178,178)" stroke-width="0.7" opacity="0.5"/>
<path d="M136.5,33.2 Q144.6,26.3 148.6,23.4" fill="none" stroke="rgb(118,118,118)" stroke-width="0.7" opacity="0.5"/>
<path d="M188.3,97.5 Q202.8,90.0 213.4,86.6" fill="none" stroke="rgb(178,178,178)" stroke-width="0.7" opacity="0.5"/>
<path d="M117.1,89.3 Q130.8,79.5 140.6,73.6" fill="none" stroke="rgb(118,118,118)" stroke-width="0.7" opacity="0.5"/>
<path d="M170.7,84.0 Q178.8,69.3 183.0,58.5" fill="none" stroke="rgb(178,178,178)" stroke-width="0.7" opacity="0.5"/>
<path d="M197.3,61.8 Q211.5,52.0 221.8,46.2" fill="none" stroke="rgb(118,118,118)" stroke-width="0.7" opacity="0.5"/>
<path d="M181.8,85.9 Q191.4,81.4 197.1,81.0" fill="none" stroke="rgb(118,118,118)" stroke-width="0.7" opacity="0.5"/>
<path d="M207.4,43.8 Q212.8,36.6 214.3,33.4" fill="none" stroke="rgb(118,118,118)" stroke-width="0.7" opacity="0.5"/>
<path d="M139.8,22.9 Q151.9,15.9 160.0,12.9" fill="none" stroke="rgb(178,178,178)" stroke-width="0.7" opacity="0.5"/>
<path d="M175.2,52.3 Q183.3,43.5 187.4,38.8" fill="none" stroke="rgb(118,118,118)" stroke-width="0.7" opacity="0.5"/>
<path d="M112.8,74.2 Q118.6,68.1 120.4,65.9" fill="none" stroke="rgb(118,118,118)" stroke-width="0.7" opacity="0.5"/>
<path d="M167.6,111.3 Q178.3,104.9 184.9,102.6" fill="none" stroke="rgb(118,118,118)" stroke-width="0.7" opacity="0.5"/>
<path d="M195.0,87.5 Q207.7,77.9 216.5,72.3" fill="none" stroke="rgb(178,178,178)" stroke-width="0.7" opacity="0.5"/>
<path d="M164.6,83.7 Q168.8,77.1 168.9,74.5" fill="none" stroke="rgb(118,118,118)" stroke-width="0.7" opacity="0.5"/>
<path d="M193.1,53.7 Q204.9,46.2 212.7,42.7" fill="none" stroke="rgb(178,178,178)" stroke-width="0.7" opacity="0.5"/>
<polyline points="116.8,52.4 127.7,51.5 142.3,54.2 142.9,66.6" fill="none" stroke="rgb(192,192,192)" stroke-width="1.1" stroke-linejoin="round" />
<polyline points="116.0,51.8 126.9,50.9 141.5,53.6 142.1,66.0" fill="none" stroke="rgb(100,100,100)" stroke-width="0.75" stroke-linejoin="round" />
<polyline points="120.4,25.1 138.6,32.4 150.4,37.9 148.6,47.0 144.1,58.6 142.9,66.6" fill="none" stroke="rgb(192,192,192)" stroke-width="1.1" stroke-linejoin="round" />
<polyline points="119.6,24.5 137.8,31.8 149.6,37.3 147.8,46.4 143.3,58.0 142.1,66.0" fill="none" stroke="rgb(100,100,100)" stroke-width="0.75" stroke-linejoin="round" />
<polyline points="150.4,37.9 153.2,36.1 169.5,17.9 174.8,10.6" fill="none" stroke="rgb(192,192,192)" stroke-width="1.1" stroke-linejoin="round" />
<polyline points="149.6,37.3 152.4,35.5 168.7,17.3 174.0,10.0" fill="none" stroke="rgb(100,100,100)" stroke-width="0.75" stroke-linejoin="round" />
<polyline points="189.5,41.5 195.0,37.9 202.3,32.4 216.8,32.4" fill="none" stroke="rgb(192,192,192)" stroke-width="1.1" stroke-linejoin="round" />
<polyline points="188.7,40.9 194.2,37.3 201.5,31.8 216.0,31.8" fill="none" stroke="rgb(100,100,100)" stroke-width="0.75" stroke-linejoin="round" />
<polyline points="189.5,41.5 185.9,50.6 184.1,60.6 170.9,70.6" fill="none" stroke="rgb(192,192,192)" stroke-width="1.1" stroke-linejoin="round" />
<polyline points="188.7,40.9 185.1,50.0 183.3,60.0 170.1,70.0" fill="none" stroke="rgb(100,100,100)" stroke-width="0.75" stroke-linejoin="round" />
<polyline points="195.0,37.9 198.6,47.0 205.9,54.2 216.8,57.9" fill="none" stroke="rgb(192,192,192)" stroke-width="1.1" stroke-linejoin="round" />
<polyline points="194.2,37.3 197.8,46.4 205.1,53.6 216.0,57.3" fill="none" stroke="rgb(100,100,100)" stroke-width="0.75" stroke-linejoin="round" />
<polyline points="202.3,32.4 193.2,17.9 189.5,10.6" fill="none" stroke="rgb(192,192,192)" stroke-width="1.1" stroke-linejoin="round" />
<polyline points="201.5,31.8 192.4,17.3 188.7,10.0" fill="none" stroke="rgb(100,100,100)" stroke-width="0.75" stroke-linejoin="round" />
<polyline points="142.9,66.6 170.9,70.6" fill="none" stroke="rgb(192,192,192)" stroke-width="1.1" stroke-linejoin="round" />
<polyline points="142.1,66.0 170.1,70.0" fill="none" stroke="rgb(100,100,100)" stroke-width="0.75" stroke-linejoin="round" />
<polyline points="142.9,66.6 139.2,78.5 136.2,90.5 134.0,103.9 130.2,112.6" fill="none" stroke="rgb(192,192,192)" stroke-width="1.1" stroke-linejoin="round" />
<polyline points="142.1,66.0 138.4,77.9 135.4,89.9 133.2,103.3 129.4,112.0" fill="none" stroke="rgb(100,100,100)" stroke-width="0.75" stroke-linejoin="round" />
<polyline points="143.7,69.6 157.1,94.9 161.6,99.4 176.8,83.0 170.9,70.6" fill="none" stroke="rgb(192,192,192)" stroke-width="1.1" stroke-linejoin="round" />
<polyline points="142.9,69.0 156.3,94.3 160.8,98.8 176.0,82.4 170.1,70.0" fill="none" stroke="rgb(100,100,100)" stroke-width="0.75" stroke-linejoin="round" />
<polyline points="176.8,83.0 178.8,95.6 181.2,112.6" fill="none" stroke="rgb(192,192,192)" stroke-width="1.1" stroke-linejoin="round" />
<polyline points="176.0,82.4 178.0,95.0 180.4,112.0" fill="none" stroke="rgb(100,100,100)" stroke-width="0.75" stroke-linejoin="round" />
<polyline points="205.9,54.2 206.6,66.6 197.6,78.5 193.1,90.5 191.7,99.4 188.8,112.6" fill="none" stroke="rgb(192,192,192)" stroke-width="1.1" stroke-linejoin="round" />
<polyline points="205.1,53.6 205.8,66.0 196.8,77.9 192.3,89.9 190.9,98.8 188.0,112.0" fill="none" stroke="rgb(100,100,100)" stroke-width="0.75" stroke-linejoin="round" />
<polyline points="116.8,86.0 125.8,96.4 134.0,103.9 143.7,105.4 157.1,105.4 161.6,99.4" fill="none" stroke="rgb(192,192,192)" stroke-width="1.1" stroke-linejoin="round" />
<polyline points="116.0,85.4 125.0,95.8 133.2,103.3 142.9,104.8 156.3,104.8 160.8,98.8" fill="none" stroke="rgb(100,100,100)" stroke-width="0.75" stroke-linejoin="round" />
<polyline points="157.1,105.4 152.6,112.6" fill="none" stroke="rgb(192,192,192)" stroke-width="1.1" stroke-linejoin="round" />
<polyline points="156.3,104.8 151.8,112.0" fill="none" stroke="rgb(100,100,100)" stroke-width="0.75" stroke-linejoin="round" />
</g></g>
<text x="7.3" y="14.4" font-size="12.5" fill="#000" text-anchor="start" font-weight="bold" font-family='"Liberation Sans", sans-serif' >a</text>
<text x="19.0" y="20.8" font-size="10.5" fill="#2a1818" text-anchor="start" font-weight="bold" font-family='"Liberation Serif", serif' >(i)</text>
<text x="108.6" y="28.3" font-size="7.6" fill="#fff" text-anchor="end" font-weight="bold" font-family='"Liberation Serif", serif' >DMF/DMSO PVK</text>
<text x="92.3" y="96.6" font-size="7.2" fill="#fff" text-anchor="middle" font-weight="bold" font-family='"Liberation Serif", serif' >400 nm</text>
<rect x="83.2" y="102.0" width="18.7" height="3.7" fill="#f4f4f4" stroke="none" stroke-width="1" />
<text x="118.4" y="22.2" font-size="11.2" fill="#2a1818" text-anchor="start" font-weight="bold" font-family='"Liberation Serif", serif' >(ii)</text>
<text x="210.8" y="28.9" font-size="7.6" fill="#fff" text-anchor="end" font-weight="bold" font-family='"Liberation Serif", serif' >NFM/DMSO PVK</text>
<text x="195.0" y="98.3" font-size="7.2" fill="#fff" text-anchor="middle" font-weight="bold" font-family='"Liberation Serif", serif' >400 nm</text>
<rect x="187.0" y="102.4" width="17.0" height="3.4" fill="#f4f4f4" stroke="none" stroke-width="1" />
<defs><linearGradient id="gb" x1="221" x2="394.5" y1="0" y2="0" gradientUnits="userSpaceOnUse"><stop offset="0" stop-color="#dcf0f8"/><stop offset="0.3" stop-color="#e2f0f6"/><stop offset="0.47" stop-color="#eaecf3"/><stop offset="0.6" stop-color="#f4dcea"/><stop offset="0.8" stop-color="#f6d0e4"/><stop offset="1" stop-color="#f2bcda"/></linearGradient><linearGradient id="gbb" x1="221" x2="394.5" y1="0" y2="0" gradientUnits="userSpaceOnUse"><stop offset="0" stop-color="#e890c8"/><stop offset="0.55" stop-color="#e8a0c8"/><stop offset="0.7" stop-color="#88c8e0"/><stop offset="1" stop-color="#30c0e8"/></linearGradient></defs>
<rect x="221.0" y="10.0" width="173.5" height="102.0" fill="url(#gb)" stroke="none" stroke-width="1" />
<path d="M221.5,10.5 H394.3 V112.2 H221.5 Z" fill="none" stroke="url(#gbb)" stroke-width="1.1" stroke-dasharray="2,1.6"/>
<path d="M221.5,10.5 V112.2" fill="none" stroke="#e890c8" stroke-width="1.1" stroke-dasharray="2,1.6"/>
<path d="M394.3,10.5 V112.2" fill="none" stroke="#30c0e8" stroke-width="1.1" stroke-dasharray="2,1.6"/>
<text x="213.3" y="14.5" font-size="12.5" fill="#000" text-anchor="start" font-weight="bold" font-family='"Liberation Sans", sans-serif' >b</text>
<path d="M271.25,47.5 A24,24 0 1 0 267.9,52.8 L279,56 Z" fill="#e6f5fa" stroke="#c5dde5" stroke-width="0.5"/>
<path d="M337.0,51.8 A27,27 0 1 1 340.8,57.8 L333,57 Z" fill="#f6d8ea" stroke="#e2c4d4" stroke-width="0.5"/>
<defs><linearGradient id="glass" x1="0" x2="1" y1="0" y2="0"><stop offset="0" stop-color="#9a9c98"/><stop offset="0.15" stop-color="#d4d6d2"/><stop offset="0.35" stop-color="#eceee8"/><stop offset="0.6" stop-color="#d2d4d0"/><stop offset="0.82" stop-color="#e2e4e0"/><stop offset="1" stop-color="#8a8c88"/></linearGradient></defs>
<rect x="282.2" y="28.5" width="14.0" height="35.2" fill="url(#glass)" stroke="none" stroke-width="1" rx="1.2"/>
<rect x="282.2" y="56.0" width="14.0" height="7.7" fill="#e6eab4" stroke="none" stroke-width="1" rx="1.2"/>
<rect x="283.2" y="57.0" width="2.0" height="5.7" fill="#ffffff" stroke="none" stroke-width="1" opacity="0.35"/>
<path d="M281.7,29.2 V22.5 Q281.7,19.8 284.2,19.8 H294.2 Q296.7,19.8 296.7,22.5 V29.2 Z" fill="#141414"/>
<rect x="282.7" y="20.6" width="13.0" height="1.3" fill="#404040" stroke="none" stroke-width="1" />
<rect x="319.5" y="28.5" width="13.0" height="35.2" fill="url(#glass)" stroke="none" stroke-width="1" rx="1.2"/>
<rect x="319.5" y="55.1" width="13.0" height="8.6" fill="#d4de22" stroke="none" stroke-width="1" rx="1.2"/>
<rect x="320.5" y="56.1" width="2.0" height="6.6" fill="#ffffff" stroke="none" stroke-width="1" opacity="0.35"/>
<path d="M319,29.2 V22.5 Q319,19.8 321.5,19.8 H330.5 Q333,19.8 333,22.5 V29.2 Z" fill="#141414"/>
<rect x="320.0" y="20.6" width="12.0" height="1.3" fill="#404040" stroke="none" stroke-width="1" />
<text x="272.6" y="81.7" font-size="7.7" fill="#222" text-anchor="middle" font-weight="normal" font-family='"Liberation Sans", sans-serif' >PbI<tspan font-size="5.2" dy="2">2</tspan><tspan dy="-2">@MAFa</tspan></text>
<text x="352.5" y="81.7" font-size="7.5" fill="#222" text-anchor="middle" font-weight="normal" font-family='"Liberation Sans", sans-serif' >PbI<tspan font-size="5.2" dy="2">2</tspan><tspan dy="-2">@DMF:DMSO</tspan></text>
<polygon points="242.3,23.4 245.6,26.7 242.3,30.0 239.0,26.7" fill="#1898a8" stroke="none" stroke-width="1" />
<polygon points="242.3,23.4 242.3,26.7 239.0,26.7" fill="#38c8d8" stroke="none" stroke-width="1" />
<polygon points="242.3,26.7 245.6,26.7 242.3,30.0" fill="#0c7080" stroke="none" stroke-width="1" />
<polygon points="254.8,23.4 258.1,26.7 254.8,30.0 251.5,26.7" fill="#1898a8" stroke="none" stroke-width="1" />
<polygon points="254.8,23.4 254.8,26.7 251.5,26.7" fill="#38c8d8" stroke="none" stroke-width="1" />
<polygon points="254.8,26.7 258.1,26.7 254.8,30.0" fill="#0c7080" stroke="none" stroke-width="1" />
<polygon points="247.0,33.7 250.3,37.0 247.0,40.3 243.7,37.0" fill="#1898a8" stroke="none" stroke-width="1" />
<polygon points="247.0,33.7 247.0,37.0 243.7,37.0" fill="#38c8d8" stroke="none" stroke-width="1" />
<polygon points="247.0,37.0 250.3,37.0 247.0,40.3" fill="#0c7080" stroke="none" stroke-width="1" />
<polygon points="255.6,32.0 258.9,35.3 255.6,38.6 252.3,35.3" fill="#1898a8" stroke="none" stroke-width="1" />
<polygon points="255.6,32.0 255.6,35.3 252.3,35.3" fill="#38c8d8" stroke="none" stroke-width="1" />
<polygon points="255.6,35.3 258.9,35.3 255.6,38.6" fill="#0c7080" stroke="none" stroke-width="1" />
<polygon points="240.1,37.1 243.4,40.4 240.1,43.7 236.8,40.4" fill="#1898a8" stroke="none" stroke-width="1" />
<polygon points="240.1,37.1 240.1,40.4 236.8,40.4" fill="#38c8d8" stroke="none" stroke-width="1" />
<polygon points="240.1,40.4 243.4,40.4 240.1,43.7" fill="#0c7080" stroke="none" stroke-width="1" />
<polygon points="248.7,44.0 252.0,47.3 248.7,50.6 245.4,47.3" fill="#1898a8" stroke="none" stroke-width="1" />
<polygon points="248.7,44.0 248.7,47.3 245.4,47.3" fill="#38c8d8" stroke="none" stroke-width="1" />
<polygon points="248.7,47.3 252.0,47.3 248.7,50.6" fill="#0c7080" stroke="none" stroke-width="1" />
<polygon points="257.3,44.0 260.6,47.3 257.3,50.6 254.0,47.3" fill="#1898a8" stroke="none" stroke-width="1" />
<polygon points="257.3,44.0 257.3,47.3 254.0,47.3" fill="#38c8d8" stroke="none" stroke-width="1" />
<polygon points="257.3,47.3 260.6,47.3 257.3,50.6" fill="#0c7080" stroke="none" stroke-width="1" />
<polygon points="241.0,47.5 244.3,50.8 241.0,54.1 237.7,50.8" fill="#1898a8" stroke="none" stroke-width="1" />
<polygon points="241.0,47.5 241.0,50.8 237.7,50.8" fill="#38c8d8" stroke="none" stroke-width="1" />
<polygon points="241.0,50.8 244.3,50.8 241.0,54.1" fill="#0c7080" stroke="none" stroke-width="1" />
<line x1="243.0" y1="31.0" x2="249.0" y2="30.0" stroke="#40a040" stroke-width="0.7" stroke-dasharray="1,0.8"/>
<line x1="257.0" y1="23.0" x2="263.0" y2="22.0" stroke="#40a040" stroke-width="0.7" stroke-dasharray="1,0.8"/>
<line x1="260.0" y1="38.0" x2="263.0" y2="33.0" stroke="#40a040" stroke-width="0.7" stroke-dasharray="1,0.8"/>
<circle cx="228" cy="47" r="0.9" fill="#e82020"/>
<circle cx="232" cy="46" r="0.9" fill="#e82020"/>
<circle cx="234" cy="57" r="0.9" fill="#e82020"/>
<circle cx="237" cy="56" r="0.9" fill="#e82020"/>
<circle cx="252" cy="58" r="0.9" fill="#e82020"/>
<circle cx="251" cy="54" r="0.9" fill="#e82020"/>
<circle cx="262" cy="52" r="0.9" fill="#e82020"/>
<circle cx="266" cy="55" r="0.9" fill="#e82020"/>
<circle cx="262" cy="23" r="0.9" fill="#e82020"/>
<circle cx="264" cy="28" r="0.9" fill="#e82020"/>
<circle cx="253" cy="43" r="0.9" fill="#e82020"/>
<circle cx="238" cy="46" r="0.9" fill="#e82020"/>
<circle cx="244" cy="55" r="0.9" fill="#e82020"/>
<circle cx="261" cy="42" r="0.9" fill="#e82020"/>
<circle cx="239" cy="33" r="0.8" fill="#3050b0"/>
<circle cx="263" cy="34" r="0.8" fill="#3050b0"/>
<circle cx="243" cy="43" r="0.8" fill="#3050b0"/>
<circle cx="258" cy="57" r="0.8" fill="#3050b0"/>
<rect x="341.7" y="28.4" width="43.1" height="4.3" fill="#20a8b8" stroke="none" stroke-width="1" />
<polygon points="343.5,28.4 345.3,30.5 343.5,32.6 341.7,30.5" fill="#48d0e0" stroke="none" stroke-width="1" />
<polygon points="347.1,28.4 348.9,30.5 347.1,32.6 345.3,30.5" fill="#48d0e0" stroke="none" stroke-width="1" />
<polygon points="350.7,28.4 352.5,30.5 350.7,32.6 348.9,30.5" fill="#48d0e0" stroke="none" stroke-width="1" />
<polygon points="354.3,28.4 356.1,30.5 354.3,32.6 352.5,30.5" fill="#48d0e0" stroke="none" stroke-width="1" />
<polygon points="357.9,28.4 359.7,30.5 357.9,32.6 356.1,30.5" fill="#48d0e0" stroke="none" stroke-width="1" />
<polygon points="361.5,28.4 363.3,30.5 361.5,32.6 359.7,30.5" fill="#48d0e0" stroke="none" stroke-width="1" />
<polygon points="365.1,28.4 366.9,30.5 365.1,32.6 363.3,30.5" fill="#48d0e0" stroke="none" stroke-width="1" />
<polygon points="368.7,28.4 370.5,30.5 368.7,32.6 366.9,30.5" fill="#48d0e0" stroke="none" stroke-width="1" />
<polygon points="372.3,28.4 374.1,30.5 372.3,32.6 370.5,30.5" fill="#48d0e0" stroke="none" stroke-width="1" />
<polygon points="375.9,28.4 377.7,30.5 375.9,32.6 374.1,30.5" fill="#48d0e0" stroke="none" stroke-width="1" />
<polygon points="379.5,28.4 381.3,30.5 379.5,32.6 377.7,30.5" fill="#48d0e0" stroke="none" stroke-width="1" />
<polygon points="383.1,28.4 384.9,30.5 383.1,32.6 381.3,30.5" fill="#48d0e0" stroke="none" stroke-width="1" />
<rect x="341.7" y="39.6" width="43.1" height="4.3" fill="#20a8b8" stroke="none" stroke-width="1" />
<polygon points="343.5,39.6 345.3,41.7 343.5,43.8 341.7,41.7" fill="#48d0e0" stroke="none" stroke-width="1" />
<polygon points="347.1,39.6 348.9,41.7 347.1,43.8 345.3,41.7" fill="#48d0e0" stroke="none" stroke-width="1" />
<polygon points="350.7,39.6 352.5,41.7 350.7,43.8 348.9,41.7" fill="#48d0e0" stroke="none" stroke-width="1" />
<polygon points="354.3,39.6 356.1,41.7 354.3,43.8 352.5,41.7" fill="#48d0e0" stroke="none" stroke-width="1" />
<polygon points="357.9,39.6 359.7,41.7 357.9,43.8 356.1,41.7" fill="#48d0e0" stroke="none" stroke-width="1" />
<polygon points="361.5,39.6 363.3,41.7 361.5,43.8 359.7,41.7" fill="#48d0e0" stroke="none" stroke-width="1" />
<polygon points="365.1,39.6 366.9,41.7 365.1,43.8 363.3,41.7" fill="#48d0e0" stroke="none" stroke-width="1" />
<polygon points="368.7,39.6 370.5,41.7 368.7,43.8 366.9,41.7" fill="#48d0e0" stroke="none" stroke-width="1" />
<polygon points="372.3,39.6 374.1,41.7 372.3,43.8 370.5,41.7" fill="#48d0e0" stroke="none" stroke-width="1" />
<polygon points="375.9,39.6 377.7,41.7 375.9,43.8 374.1,41.7" fill="#48d0e0" stroke="none" stroke-width="1" />
<polygon points="379.5,39.6 381.3,41.7 379.5,43.8 377.7,41.7" fill="#48d0e0" stroke="none" stroke-width="1" />
<polygon points="383.1,39.6 384.9,41.7 383.1,43.8 381.3,41.7" fill="#48d0e0" stroke="none" stroke-width="1" />
<rect x="341.7" y="50.8" width="43.1" height="4.3" fill="#20a8b8" stroke="none" stroke-width="1" />
<polygon points="343.5,50.8 345.3,52.9 343.5,55.0 341.7,52.9" fill="#48d0e0" stroke="none" stroke-width="1" />
<polygon points="347.1,50.8 348.9,52.9 347.1,55.0 345.3,52.9" fill="#48d0e0" stroke="none" stroke-width="1" />
<polygon points="350.7,50.8 352.5,52.9 350.7,55.0 348.9,52.9" fill="#48d0e0" stroke="none" stroke-width="1" />
<polygon points="354.3,50.8 356.1,52.9 354.3,55.0 352.5,52.9" fill="#48d0e0" stroke="none" stroke-width="1" />
<polygon points="357.9,50.8 359.7,52.9 357.9,55.0 356.1,52.9" fill="#48d0e0" stroke="none" stroke-width="1" />
<polygon points="361.5,50.8 363.3,52.9 361.5,55.0 359.7,52.9" fill="#48d0e0" stroke="none" stroke-width="1" />
<polygon points="365.1,50.8 366.9,52.9 365.1,55.0 363.3,52.9" fill="#48d0e0" stroke="none" stroke-width="1" />
<polygon points="368.7,50.8 370.5,52.9 368.7,55.0 366.9,52.9" fill="#48d0e0" stroke="none" stroke-width="1" />
<polygon points="372.3,50.8 374.1,52.9 372.3,55.0 370.5,52.9" fill="#48d0e0" stroke="none" stroke-width="1" />
<polygon points="375.9,50.8 377.7,52.9 375.9,55.0 374.1,52.9" fill="#48d0e0" stroke="none" stroke-width="1" />
<polygon points="379.5,50.8 381.3,52.9 379.5,55.0 377.7,52.9" fill="#48d0e0" stroke="none" stroke-width="1" />
<polygon points="383.1,50.8 384.9,52.9 383.1,55.0 381.3,52.9" fill="#48d0e0" stroke="none" stroke-width="1" />
<circle cx="344.0" cy="36.2" r="0.7" fill="#e88070"/>
<circle cx="345.8" cy="35.400000000000006" r="0.6" fill="#a080c0"/>
<circle cx="348.5" cy="36.2" r="0.7" fill="#e88070"/>
<circle cx="350.3" cy="35.400000000000006" r="0.6" fill="#a080c0"/>
<circle cx="353.0" cy="36.2" r="0.7" fill="#e88070"/>
<circle cx="354.8" cy="35.400000000000006" r="0.6" fill="#a080c0"/>
<circle cx="357.5" cy="36.2" r="0.7" fill="#e88070"/>
<circle cx="359.3" cy="35.400000000000006" r="0.6" fill="#a080c0"/>
<circle cx="362.0" cy="36.2" r="0.7" fill="#e88070"/>
<circle cx="363.8" cy="35.400000000000006" r="0.6" fill="#a080c0"/>
<circle cx="366.5" cy="36.2" r="0.7" fill="#e88070"/>
<circle cx="368.3" cy="35.400000000000006" r="0.6" fill="#a080c0"/>
<circle cx="371.0" cy="36.2" r="0.7" fill="#e88070"/>
<circle cx="372.8" cy="35.400000000000006" r="0.6" fill="#a080c0"/>
<circle cx="375.5" cy="36.2" r="0.7" fill="#e88070"/>
<circle cx="377.3" cy="35.400000000000006" r="0.6" fill="#a080c0"/>
<circle cx="380.0" cy="36.2" r="0.7" fill="#e88070"/>
<circle cx="381.8" cy="35.400000000000006" r="0.6" fill="#a080c0"/>
<circle cx="344.0" cy="47.4" r="0.7" fill="#e88070"/>
<circle cx="345.8" cy="46.6" r="0.6" fill="#a080c0"/>
<circle cx="348.5" cy="47.4" r="0.7" fill="#e88070"/>
<circle cx="350.3" cy="46.6" r="0.6" fill="#a080c0"/>
<circle cx="353.0" cy="47.4" r="0.7" fill="#e88070"/>
<circle cx="354.8" cy="46.6" r="0.6" fill="#a080c0"/>
<circle cx="357.5" cy="47.4" r="0.7" fill="#e88070"/>
<circle cx="359.3" cy="46.6" r="0.6" fill="#a080c0"/>
<circle cx="362.0" cy="47.4" r="0.7" fill="#e88070"/>
<circle cx="363.8" cy="46.6" r="0.6" fill="#a080c0"/>
<circle cx="366.5" cy="47.4" r="0.7" fill="#e88070"/>
<circle cx="368.3" cy="46.6" r="0.6" fill="#a080c0"/>
<circle cx="371.0" cy="47.4" r="0.7" fill="#e88070"/>
<circle cx="372.8" cy="46.6" r="0.6" fill="#a080c0"/>
<circle cx="375.5" cy="47.4" r="0.7" fill="#e88070"/>
<circle cx="377.3" cy="46.6" r="0.6" fill="#a080c0"/>
<circle cx="380.0" cy="47.4" r="0.7" fill="#e88070"/>
<circle cx="381.8" cy="46.6" r="0.6" fill="#a080c0"/>
<polygon points="230.6,93.2 235.6,98.2 230.6,103.2 225.6,98.2" fill="#1898a8" stroke="none" stroke-width="1" />
<polygon points="230.6,93.2 230.6,98.2 225.6,98.2" fill="#38c8d8" stroke="none" stroke-width="1" />
<polygon points="230.6,98.2 235.6,98.2 230.6,103.2" fill="#0c7080" stroke="none" stroke-width="1" />
<circle cx="230.6" cy="93.2" r="0.9" fill="#e060c0"/>
<circle cx="235.6" cy="98.2" r="0.9" fill="#e060c0"/>
<circle cx="230.6" cy="103.2" r="0.9" fill="#e060c0"/>
<circle cx="225.6" cy="98.2" r="0.9" fill="#e060c0"/>
<text x="231.0" y="109.5" font-size="4.0" fill="#333" text-anchor="middle" font-weight="normal" font-family='"Liberation Sans", sans-serif' >[PbI<tspan font-size="2.8" dy="1">6</tspan><tspan dy="-1">]</tspan><tspan font-size="2.8" dy="-1.5">4-</tspan></text>
<line x1="245.0" y1="100.0" x2="253.0" y2="100.0" stroke="#aaa" stroke-width="0.6" />
<line x1="249.0" y1="99.0" x2="249.0" y2="94.0" stroke="#aaa" stroke-width="0.6" />
<circle cx="249" cy="99.2" r="1.5" fill="#e0c020"/><circle cx="249" cy="94" r="1.1" fill="#e02020"/><circle cx="245" cy="100" r="0.8" fill="#999"/><circle cx="253" cy="100" r="0.8" fill="#999"/>
<text x="249.3" y="109.5" font-size="4.0" fill="#333" text-anchor="middle" font-weight="normal" font-family='"Liberation Sans", sans-serif' >DMSO</text>
<line x1="266.0" y1="95.0" x2="270.0" y2="98.0" stroke="#aaa" stroke-width="0.6" />
<line x1="274.0" y1="95.0" x2="270.0" y2="98.0" stroke="#aaa" stroke-width="0.6" />
<line x1="270.0" y1="98.0" x2="268.0" y2="102.0" stroke="#aaa" stroke-width="0.6" />
<circle cx="270" cy="98.2" r="1.3" fill="#2040c0"/><circle cx="268" cy="102.5" r="1.1" fill="#e02020"/><circle cx="266" cy="95" r="0.7" fill="#999"/><circle cx="274" cy="95" r="0.7" fill="#999"/>
<text x="269.5" y="109.5" font-size="4.0" fill="#333" text-anchor="middle" font-weight="normal" font-family='"Liberation Sans", sans-serif' >DMF</text>
<line x1="290.0" y1="94.0" x2="290.0" y2="98.5" stroke="#aaa" stroke-width="0.6" />
<line x1="290.0" y1="98.5" x2="286.5" y2="102.5" stroke="#aaa" stroke-width="0.6" />
<circle cx="290" cy="98.5" r="1.2" fill="#999"/><circle cx="290.5" cy="93.8" r="1.3" fill="#e02020"/><circle cx="286.5" cy="102.8" r="1.3" fill="#e02020"/>
<text x="290.0" y="109.5" font-size="4.0" fill="#333" text-anchor="middle" font-weight="normal" font-family='"Liberation Sans", sans-serif' >HCOO<tspan font-size="2.8" dy="-1.5">-</tspan></text>
<line x1="305.0" y1="98.5" x2="311.0" y2="98.5" stroke="#aaa" stroke-width="0.8" />
<circle cx="305" cy="98.5" r="1.4" fill="#2040c0"/><circle cx="310.5" cy="98.5" r="1.2" fill="#888"/>
<text x="307.8" y="109.5" font-size="4.0" fill="#333" text-anchor="middle" font-weight="normal" font-family='"Liberation Sans", sans-serif' >MA<tspan font-size="2.8" dy="-1.5">+</tspan></text>
<line x1="320.0" y1="99.3" x2="336.6" y2="99.3" stroke="#ff2828" stroke-width="1.1" stroke-dasharray="2.4,1.6"/>
<text x="330.5" y="109.5" font-size="4.0" fill="#333" text-anchor="middle" font-weight="normal" font-family='"Liberation Sans", sans-serif' >Pb = O Bonding</text>
<line x1="354.1" y1="99.3" x2="370.7" y2="99.3" stroke="#30a040" stroke-width="1.1" stroke-dasharray="2.4,1.6"/>
<text x="365.8" y="109.5" font-size="4.0" fill="#333" text-anchor="middle" font-weight="normal" font-family='"Liberation Sans", sans-serif' >Hydrogen Bonding</text>
<circle cx="389.4" cy="98.8" r="2.2" fill="none" stroke="#9848c0" stroke-width="1.3"/>
<text x="389.2" y="109.5" font-size="4.0" fill="#333" text-anchor="middle" font-weight="normal" font-family='"Liberation Sans", sans-serif' >I</text>
<rect x="427.5" y="10.0" width="107.5" height="86.0" fill="none" stroke="#444" stroke-width="0.9" />
<text x="403.0" y="15.0" font-size="12.5" fill="#000" text-anchor="start" font-weight="bold" font-family='"Liberation Sans", sans-serif' >c</text>
<text x="425.0" y="19.3" font-size="7.2" fill="#222" text-anchor="end" font-weight="normal" font-family='"Liberation Sans", sans-serif' >1</text>
<line x1="427.5" y1="16.8" x2="429.5" y2="16.8" stroke="#444" stroke-width="0.7" />
<text x="425.0" y="35.0" font-size="7.2" fill="#222" text-anchor="end" font-weight="normal" font-family='"Liberation Sans", sans-serif' >0.1</text>
<line x1="427.5" y1="32.5" x2="429.5" y2="32.5" stroke="#444" stroke-width="0.7" />
<text x="425.0" y="50.7" font-size="7.2" fill="#222" text-anchor="end" font-weight="normal" font-family='"Liberation Sans", sans-serif' >0.01</text>
<line x1="427.5" y1="48.2" x2="429.5" y2="48.2" stroke="#444" stroke-width="0.7" />
<text x="425.0" y="66.4" font-size="7.2" fill="#222" text-anchor="end" font-weight="normal" font-family='"Liberation Sans", sans-serif' >0.001</text>
<line x1="427.5" y1="63.9" x2="429.5" y2="63.9" stroke="#444" stroke-width="0.7" />
<text x="425.0" y="82.1" font-size="7.2" fill="#222" text-anchor="end" font-weight="normal" font-family='"Liberation Sans", sans-serif' >1E-4</text>
<line x1="427.5" y1="79.6" x2="429.5" y2="79.6" stroke="#444" stroke-width="0.7" />
<text x="425.0" y="97.8" font-size="7.2" fill="#222" text-anchor="end" font-weight="normal" font-family='"Liberation Sans", sans-serif' >1E-5</text>
<line x1="427.5" y1="95.3" x2="429.5" y2="95.3" stroke="#444" stroke-width="0.7" />
<text x="463.0" y="104.0" font-size="7.2" fill="#222" text-anchor="middle" font-weight="normal" font-family='"Liberation Sans", sans-serif' >0.1</text>
<line x1="463.0" y1="96.0" x2="463.0" y2="94.0" stroke="#444" stroke-width="0.7" />
<text x="514.5" y="104.0" font-size="7.2" fill="#222" text-anchor="middle" font-weight="normal" font-family='"Liberation Sans", sans-serif' >1</text>
<line x1="514.5" y1="96.0" x2="514.5" y2="94.0" stroke="#444" stroke-width="0.7" />
<text x="482.0" y="113.0" font-size="7.6" fill="#222" text-anchor="middle" font-weight="normal" font-family='"Liberation Sans", sans-serif' >Voltage (V)</text>
<text x="0.0" y="0.0" font-size="7.6" fill="#222" text-anchor="middle" font-weight="normal" font-family='"Liberation Sans", sans-serif' transform="translate(403,53) rotate(-90)">Current (mA)</text>
<line x1="434.6" y1="17.0" x2="451.0" y2="17.0" stroke="#999" stroke-width="1.6" />
<circle cx="443" cy="17" r="1.1" fill="#000"/>
<text x="453.4" y="19.7" font-size="7.6" fill="#222" text-anchor="start" font-weight="normal" font-family='"Liberation Sans", sans-serif' >FAPbI<tspan font-size="5" dy="2">3</tspan><tspan dy="-2">@DMF: DMSO</tspan></text>
<line x1="434.6" y1="27.4" x2="451.0" y2="27.4" stroke="#e02020" stroke-width="1.2" />
<circle cx="443" cy="27.4" r="1.1" fill="#e02020"/>
<text x="453.4" y="30.1" font-size="7.6" fill="#222" text-anchor="start" font-weight="normal" font-family='"Liberation Sans", sans-serif' >FAPbI<tspan font-size="5" dy="2">3</tspan><tspan dy="-2">@MAFa</tspan></text>
<clipPath id="cc"><rect x="427.5" y="10" width="107.5" height="86"/></clipPath><g clip-path="url(#cc)">
<polyline points="442.5,81.9 450.1,80.3 460.2,78.3 470.2,76.7 480.3,74.3 490.4,72.3 498.4,69.6 504.0,67.5 508.0,65.2 511.0,62.0 513.5,57.0 515.5,51.0 517.5,47.5 520.5,45.0 524.6,43.3 536.0,38.8" fill="none" stroke="#111" stroke-width="1.3" stroke-linejoin="round" />
<polyline points="442.5,84.3 460.2,80.3 480.3,74.7 490.4,71.2 498.4,65.2 506.5,57.2 510.5,51.0 514.5,45.1 520.5,40.1 536.0,32.8" fill="none" stroke="#e82020" stroke-width="1.3" stroke-linejoin="round" />
<polyline points="513.5,44.3 520.5,39.7 536.0,32.0" fill="none" stroke="#3a30c0" stroke-width="1.2" stroke-linejoin="round" />
<rect x="442.2" y="81.0" width="1.6" height="1.6" fill="#000"/><rect x="444.2" y="83.4" width="1.6" height="1.6" fill="#e02020"/>
<rect x="448.2" y="79.8" width="1.6" height="1.6" fill="#000"/><rect x="450.2" y="82.0" width="1.6" height="1.6" fill="#e02020"/>
<rect x="455.2" y="78.4" width="1.6" height="1.6" fill="#000"/><rect x="457.2" y="80.4" width="1.6" height="1.6" fill="#e02020"/>
<rect x="462.2" y="76.9" width="1.6" height="1.6" fill="#000"/><rect x="464.2" y="78.7" width="1.6" height="1.6" fill="#e02020"/>
<rect x="469.2" y="75.5" width="1.6" height="1.6" fill="#000"/><rect x="471.2" y="76.8" width="1.6" height="1.6" fill="#e02020"/>
<rect x="476.2" y="74.2" width="1.6" height="1.6" fill="#000"/><rect x="478.2" y="74.8" width="1.6" height="1.6" fill="#e02020"/>
<line x1="442.5" y1="84.3" x2="517.5" y2="62.2" stroke="#30e030" stroke-width="1.4" />
<line x1="486.3" y1="75.3" x2="519.5" y2="40.0" stroke="#20d8e0" stroke-width="1.4" />
<line x1="507.5" y1="69.2" x2="518.5" y2="48.0" stroke="#20d8e0" stroke-width="1.2" />
</g>
<text x="460.0" y="55.5" font-size="7.6" fill="#f02020" text-anchor="start" font-weight="normal" font-family='"Liberation Sans", sans-serif' >V<tspan font-size="5" dy="1.5">TEF</tspan><tspan dy="-1.5"> = 0.31</tspan></text>
<text x="494.0" y="82.0" font-size="7.6" fill="#222" text-anchor="start" font-weight="normal" font-family='"Liberation Sans", sans-serif' >V<tspan font-size="5" dy="1.5">TEF</tspan><tspan dy="-1.5"> = 0.89</tspan></text>
<line x1="485.3" y1="58.2" x2="490.4" y2="67.2" stroke="#111" stroke-width="0.8" />
<line x1="512.5" y1="75.3" x2="509.5" y2="65.2" stroke="#111" stroke-width="0.8" />
<text x="7.2" y="122.6" font-size="12.5" fill="#000" text-anchor="start" font-weight="bold" font-family='"Liberation Sans", sans-serif' >d</text>
<text x="24.0" y="120.7" font-size="4.6" fill="#333" text-anchor="end" font-weight="normal" font-family='"Liberation Sans", sans-serif' >10<tspan font-size="2.8" dy="-1.8">5</tspan></text>
<line x1="26.3" y1="118.9" x2="27.8" y2="118.9" stroke="#333" stroke-width="0.5" />
<text x="24.0" y="137.0" font-size="4.6" fill="#333" text-anchor="end" font-weight="normal" font-family='"Liberation Sans", sans-serif' >10<tspan font-size="2.8" dy="-1.8">4</tspan></text>
<line x1="26.3" y1="135.2" x2="27.8" y2="135.2" stroke="#333" stroke-width="0.5" />
<text x="24.0" y="153.3" font-size="4.6" fill="#333" text-anchor="end" font-weight="normal" font-family='"Liberation Sans", sans-serif' >10<tspan font-size="2.8" dy="-1.8">3</tspan></text>
<line x1="26.3" y1="151.5" x2="27.8" y2="151.5" stroke="#333" stroke-width="0.5" />
<text x="24.0" y="169.6" font-size="4.6" fill="#333" text-anchor="end" font-weight="normal" font-family='"Liberation Sans", sans-serif' >10<tspan font-size="2.8" dy="-1.8">2</tspan></text>
<line x1="26.3" y1="167.8" x2="27.8" y2="167.8" stroke="#333" stroke-width="0.5" />
<text x="24.0" y="185.9" font-size="4.6" fill="#333" text-anchor="end" font-weight="normal" font-family='"Liberation Sans", sans-serif' >10<tspan font-size="2.8" dy="-1.8">1</tspan></text>
<line x1="26.3" y1="184.1" x2="27.8" y2="184.1" stroke="#333" stroke-width="0.5" />
<text x="24.0" y="202.2" font-size="4.6" fill="#333" text-anchor="end" font-weight="normal" font-family='"Liberation Sans", sans-serif' >10<tspan font-size="2.8" dy="-1.8">0</tspan></text>
<line x1="26.3" y1="200.4" x2="27.8" y2="200.4" stroke="#333" stroke-width="0.5" />
<text x="26.3" y="207.2" font-size="4.8" fill="#333" text-anchor="middle" font-weight="normal" font-family='"Liberation Sans", sans-serif' >0</text>
<line x1="26.3" y1="200.5" x2="26.3" y2="199.0" stroke="#333" stroke-width="0.5" />
<text x="45.2" y="207.2" font-size="4.8" fill="#333" text-anchor="middle" font-weight="normal" font-family='"Liberation Sans", sans-serif' >300</text>
<line x1="45.2" y1="200.5" x2="45.2" y2="199.0" stroke="#333" stroke-width="0.5" />
<text x="64.2" y="207.2" font-size="4.8" fill="#333" text-anchor="middle" font-weight="normal" font-family='"Liberation Sans", sans-serif' >600</text>
<line x1="64.2" y1="200.5" x2="64.2" y2="199.0" stroke="#333" stroke-width="0.5" />
<text x="83.1" y="207.2" font-size="4.8" fill="#333" text-anchor="middle" font-weight="normal" font-family='"Liberation Sans", sans-serif' >900</text>
<line x1="83.1" y1="200.5" x2="83.1" y2="199.0" stroke="#333" stroke-width="0.5" />
<text x="102.1" y="207.2" font-size="4.8" fill="#333" text-anchor="middle" font-weight="normal" font-family='"Liberation Sans", sans-serif' >1,200</text>
<line x1="102.1" y1="200.5" x2="102.1" y2="199.0" stroke="#333" stroke-width="0.5" />
<text x="121.0" y="207.2" font-size="4.8" fill="#333" text-anchor="middle" font-weight="normal" font-family='"Liberation Sans", sans-serif' >1,500</text>
<line x1="121.0" y1="200.5" x2="121.0" y2="199.0" stroke="#333" stroke-width="0.5" />
<text x="76.0" y="213.5" font-size="5" fill="#333" text-anchor="middle" font-weight="normal" font-family='"Liberation Sans", sans-serif' >Sputter time (s)</text>
<text x="0.0" y="0.0" font-size="3.9" fill="#333" text-anchor="middle" font-weight="normal" font-family='"Liberation Sans", sans-serif' transform="translate(15.6,166.5) rotate(-90)">Intensity (counts)</text>
<clipPath id="cd"><rect x="26.3" y="118.9" width="100" height="81.6"/></clipPath><g clip-path="url(#cd)">
<polyline points="27.0,200.5 27.4,191.4 27.8,200.5 27.9,200.5 28.3,191.4 28.7,200.5 28.8,200.5 29.2,196.8 29.6,200.5 29.7,200.5 30.1,199.4 30.5,200.5 30.6,200.5 31.0,200.5 31.4,200.5 31.5,200.5 31.9,198.4 32.3,200.5 32.4,200.5 32.8,198.2 33.2,200.5 33.3,200.5 33.7,200.5 34.1,200.5 34.2,200.5 34.6,200.5 35.0,200.5 35.1,200.5 35.5,186.5 35.9,200.5 36.0,200.5 36.4,194.5 36.8,200.5 36.9,200.5 37.3,199.7 37.7,200.5 37.8,200.5 38.2,197.9 38.6,200.5 38.7,200.5 39.1,187.2 39.5,200.5 39.6,200.5 40.0,189.2 40.4,200.5 40.5,200.5 40.9,190.5 41.3,200.5 41.4,200.5 41.8,198.3 42.2,200.5 42.3,200.5 42.7,197.1 43.1,200.5 43.2,200.5 43.6,194.1 44.0,200.5 44.1,200.5 44.5,200.4 44.9,200.5 45.0,200.5 45.4,196.2 45.8,200.5 45.9,200.5 46.3,199.5 46.7,200.5 46.8,200.5 47.2,189.7 47.6,200.5 47.7,200.5 48.1,200.4 48.5,200.5 48.6,200.5 49.0,194.0 49.4,200.5 49.5,200.5 49.9,189.9 50.3,200.5 50.4,200.5 50.8,199.8 51.2,200.5 51.3,200.5 51.7,189.3 52.1,200.5 52.2,200.5 52.6,189.8 53.0,200.5 53.1,200.5 53.5,200.5 53.9,200.5 54.0,200.5 54.4,193.5 54.8,200.5 54.9,200.5 55.3,200.5 55.7,200.5 55.8,200.5 56.2,197.0 56.6,200.5 56.7,200.5 57.1,197.8 57.5,200.5 57.6,200.5 58.0,199.9 58.4,200.5 58.5,200.5 58.9,199.0 59.3,200.5 59.4,200.5 59.8,191.4 60.2,200.5 60.3,200.5 60.7,199.1 61.1,200.5" fill="none" stroke="#f8a040" stroke-width="0.6" stroke-linejoin="round" />
<polyline points="26.5,197.5 26.7,195.5 26.9,195.7 27.2,190.3 27.4,200.5 27.6,199.3 27.8,195.4 28.0,198.1 28.3,196.7 28.5,194.4 28.7,198.2 28.9,194.7 29.1,194.5 29.4,193.2 29.6,196.3 29.8,194.7 30.0,196.3 30.2,193.1 30.5,194.9 30.7,192.1 30.9,196.5 31.1,194.7 31.3,194.9 31.6,195.0 31.8,191.2 32.0,195.7 32.2,198.9 32.4,189.1 32.7,188.8 32.9,189.2 33.1,195.2 33.3,193.2 33.5,195.5 33.8,194.5 34.0,193.0 34.2,193.1 34.4,191.7 34.6,194.3 34.9,189.0 35.1,190.7 35.3,192.3 35.5,196.2 35.7,189.4 36.0,188.4 36.2,189.6 36.4,193.5 36.6,190.2 36.8,194.1 37.1,185.7 37.3,193.4 37.5,193.0 37.7,186.5 37.9,190.4 38.2,193.1 38.4,190.1 38.6,192.4 38.8,195.9 39.0,190.4 39.3,188.9 39.5,187.5 39.7,191.1 39.9,188.8 40.1,188.8 40.4,188.9 40.6,190.8 40.8,186.3 41.0,185.0 41.2,182.6 41.5,192.0 41.7,189.0 41.9,192.6 42.1,188.6 42.3,186.6 42.6,189.7 42.8,188.2 43.0,185.1 43.2,186.0 43.4,192.8 43.7,189.0 43.9,189.1 44.1,187.2 44.3,186.1 44.5,190.1 44.8,187.5 45.0,185.7 45.2,187.3 45.4,185.2 45.6,187.9 45.9,190.3 46.1,185.1 46.3,190.9 46.5,185.4 46.7,187.5 47.0,184.8 47.2,186.4 47.4,187.0 47.6,185.7 47.8,184.9 48.1,184.9 48.3,184.4 48.5,182.4 48.7,185.7 48.9,187.4 49.2,188.6 49.4,187.9 49.6,192.5 49.8,186.9 50.0,184.8 50.3,190.8 50.5,183.1 50.7,188.3 50.9,183.2 51.1,186.5 51.4,180.4 51.6,187.7 51.8,184.9 52.0,182.7 52.2,189.5 52.5,187.1 52.7,185.1 52.9,183.0 53.1,184.7 53.3,184.3 53.6,186.5 53.8,186.7 54.0,182.8 54.2,183.0 54.4,183.0 54.7,180.7 54.9,182.6 55.1,183.8 55.3,185.8 55.5,187.4 55.8,181.7 56.0,185.2 56.2,182.5 56.4,189.0 56.6,183.4 56.9,184.7 57.1,180.9 57.3,181.2 57.5,183.7 57.7,182.1 58.0,183.9 58.2,178.6 58.4,184.0 58.6,179.6 58.8,186.0 59.1,180.4 59.3,183.6 59.5,176.7 59.7,181.1 59.9,177.3 60.2,178.0 60.4,178.9 60.6,177.6 60.8,178.8 61.0,179.6 61.3,179.0 61.5,176.7 61.7,173.0 61.9,174.0 62.1,175.5 62.4,174.1 62.6,174.2 62.8,173.1 63.0,172.4 63.2,171.9 63.5,171.1 63.7,170.2 63.9,169.0 64.1,168.7 64.3,167.9 64.6,166.8 64.8,166.6 65.0,165.7 65.2,164.1 65.4,164.0 65.7,162.8 65.9,162.8 66.1,161.9 66.3,160.5 66.5,159.7 66.8,159.2 67.0,158.3 67.2,158.0 67.4,156.9 67.6,155.8 67.9,155.2 68.1,153.6 68.3,153.5 68.5,152.8 68.7,151.7 69.0,150.7 69.2,150.2 69.4,149.8 69.6,148.5 69.8,147.3 70.1,147.3 70.3,145.8 70.5,146.0 70.7,145.1 70.9,145.1 71.2,144.0 71.4,144.2 71.6,143.4 71.8,142.2 72.0,141.6 72.3,141.6 72.5,141.6 72.7,140.7 72.9,140.2 73.1,140.1 73.4,140.7 73.6,140.9 73.8,141.2 74.0,141.1 74.2,142.0 74.5,142.4 74.7,141.8 74.9,143.2 75.1,143.0 75.3,143.0 75.6,142.8 75.8,143.9 76.0,144.2 76.2,144.5 76.4,144.8 76.7,146.3 76.9,146.4 77.1,147.1 77.3,148.8 77.5,149.2 77.8,149.5 78.0,149.8 78.2,150.7 78.4,150.5 78.6,151.9 78.9,152.3 79.1,152.8 79.3,153.4 79.5,154.6 79.7,155.2 80.0,155.8 80.2,156.7 80.4,156.9 80.6,157.3 80.8,157.2 81.1,157.7 81.3,158.1 81.5,157.9 81.7,158.1 81.9,157.6 82.2,157.7 82.4,157.5 82.6,157.1 82.8,159.7 83.0,158.9 83.3,157.7 83.5,157.7 83.7,158.3 83.9,157.3 84.1,158.8 84.4,157.5 84.6,158.3 84.8,157.8 85.0,158.3 85.2,157.7 85.5,157.5 85.7,158.1 85.9,158.3 86.1,158.7 86.3,159.0 86.6,160.2 86.8,159.7 87.0,158.9 87.2,159.7 87.4,158.7 87.7,160.4 87.9,159.8 88.1,158.3 88.3,160.0 88.5,160.1 88.8,157.4 89.0,159.0 89.2,159.2 89.4,158.1 89.6,158.8 89.9,159.0 90.1,160.2 90.3,160.1 90.5,162.0 90.7,159.6 91.0,160.9 91.2,160.1 91.4,160.3 91.6,159.2 91.8,158.7 92.1,159.6 92.3,160.9 92.5,161.6 92.7,160.9 92.9,160.8 93.2,159.8 93.4,161.8 93.6,161.7 93.8,160.2 94.0,160.6 94.3,159.9 94.5,162.0 94.7,161.2 94.9,160.8 95.1,161.2 95.4,161.3 95.6,160.7 95.8,160.1 96.0,160.1 96.2,159.8 96.5,161.6 96.7,163.0 96.9,160.0 97.1,161.5 97.3,161.7 97.6,160.7 97.8,161.7 98.0,160.7 98.2,162.6 98.4,161.2 98.7,161.8 98.9,162.3 99.1,161.5 99.3,160.4 99.5,161.5 99.8,162.6 100.0,161.9 100.2,162.2 100.4,161.2 100.6,162.3 100.9,162.8 101.1,162.3 101.3,163.8 101.5,162.2 101.7,161.6 102.0,161.2 102.2,163.4 102.4,162.5 102.6,163.4 102.8,163.0 103.1,164.0 103.3,163.8 103.5,162.5 103.7,163.1 103.9,163.8 104.2,162.0 104.4,164.2 104.6,164.0 104.8,163.9 105.0,163.0 105.3,163.4 105.5,162.4 105.7,163.3 105.9,162.9 106.1,163.5 106.4,163.1 106.6,163.7 106.8,164.5 107.0,162.6 107.2,164.4 107.5,162.1 107.7,162.0 107.9,163.7 108.1,163.9 108.3,164.3 108.6,162.6 108.8,164.0 109.0,164.2 109.2,165.1 109.4,164.1 109.7,164.6 109.9,163.5 110.1,164.2 110.3,164.0 110.5,165.0 110.8,163.7 111.0,163.8 111.2,165.0 111.4,166.0 111.6,165.0 111.9,164.9 112.1,164.5 112.3,165.7 112.5,165.3 112.7,166.3 113.0,165.2 113.2,164.2 113.4,164.6 113.6,164.3 113.8,164.2 114.1,166.2 114.3,165.9 114.5,164.3 114.7,166.8 114.9,165.6 115.2,164.7 115.4,165.8 115.6,165.5 115.8,165.0 116.0,164.1 116.3,165.7 116.5,166.0 116.7,163.7 116.9,166.3 117.1,166.4 117.4,165.6 117.6,166.1 117.8,165.8 118.0,165.4 118.2,165.9 118.5,167.3 118.7,165.1 118.9,166.5 119.1,166.5 119.3,165.8 119.6,166.1 119.8,165.4 120.0,165.9 120.2,166.6 120.4,166.9 120.7,166.0 120.9,169.2 121.1,166.4 121.3,167.0 121.5,166.7 121.8,166.6 122.0,168.1 122.2,166.7 122.4,168.2 122.6,168.1 122.9,166.4 123.1,168.1 123.3,166.8 123.5,169.6 123.7,167.1 124.0,166.7 124.2,166.0 124.4,166.5 124.6,167.2 124.8,166.9 125.1,166.7 125.3,167.2 125.5,167.7 125.7,169.0 125.9,166.6 126.2,167.5" fill="none" stroke="#1a1a90" stroke-width="0.7" stroke-linejoin="round" />
<polyline points="60.0,195.7 61.0,192.9 62.0,189.3 63.0,185.0 64.0,180.0 65.0,175.0 66.0,170.0 67.0,165.1 68.0,160.2 69.0,155.4 70.0,151.3 71.0,148.1 72.0,145.6 73.0,144.3 74.0,143.9 75.0,144.7 76.0,146.4 77.0,148.5 78.0,150.5 79.0,152.4 80.0,154.0 81.0,155.2 82.0,156.2 83.0,156.8 84.0,157.0 85.0,157.2 86.0,157.5 87.0,157.7 88.0,158.0 89.0,158.2 90.0,158.5 91.0,158.8 92.0,159.0 93.0,159.2 94.0,159.5 95.0,159.7 96.0,160.0 97.0,160.2 98.0,160.5 99.0,160.7 100.0,161.0 101.0,161.2 102.0,161.5 103.0,161.7 104.0,161.9 105.0,162.1 106.0,162.4 107.0,162.6 108.0,162.8 109.0,163.1 110.0,163.3 111.0,163.5 112.0,163.7 113.0,164.0 114.0,164.2 115.0,164.4 116.0,164.7 117.0,164.9 118.0,165.1 119.0,165.3 120.0,165.6 121.0,165.8 122.0,166.0 123.0,166.2 124.0,166.4 125.0,166.6 126.0,166.7" fill="none" stroke="#7a70d8" stroke-width="0.7" stroke-linejoin="round" />
<polyline points="26.3,126.6 27.3,126.6 28.3,126.6 29.3,126.6 30.3,126.6 31.3,126.6 32.3,126.6 33.3,126.6 34.3,126.6 35.3,126.6 36.3,126.6 37.3,126.6 38.3,126.6 39.3,126.6 40.3,126.6 41.3,126.6 42.3,126.6 43.3,126.6 44.3,126.6 45.3,126.6 46.3,126.6 47.3,126.6 48.3,126.6 49.3,126.6 50.3,126.6 51.3,126.6 52.3,126.6 53.3,126.6 54.3,126.6 55.3,126.6 56.3,126.6 57.3,126.6 58.3,126.6 59.3,126.6 60.3,126.7 61.3,126.8 62.3,127.0 63.3,127.2 64.3,127.6 65.3,128.1 66.3,128.8 67.3,129.9 68.3,131.3 69.3,133.0 70.3,135.0 71.3,137.4 72.3,140.0 73.3,143.0 74.3,145.9 75.3,148.6 76.3,151.1 77.3,153.3 78.3,155.3 79.3,156.9 80.3,158.0 81.3,159.0 82.3,159.7 83.3,160.4 84.3,160.8 85.3,161.2 86.3,161.5 87.3,161.7 88.3,162.0 89.3,162.2 90.3,162.5 91.3,162.8 92.3,163.1 93.3,163.4 94.3,163.7 95.3,164.0 96.3,164.3 97.3,164.6 98.3,165.0 99.3,165.3 100.3,165.6 101.3,165.9 102.3,166.2 103.3,166.6 104.3,166.9 105.3,167.2 106.3,167.5 107.3,167.8 108.3,168.0 109.3,168.3 110.3,168.5 111.3,168.8 112.3,169.0 113.3,169.2 114.3,169.4 115.3,169.6 116.3,169.8 117.3,170.1 118.3,170.3 119.3,170.5 120.3,170.7 121.3,170.9 122.3,171.1 123.3,171.4 124.3,171.5 125.3,171.7 126.3,171.8" fill="none" stroke="#707070" stroke-width="0.9" stroke-linejoin="round" />
<polyline points="80.0,159.4 80.4,160.3 80.8,158.9 81.2,160.9 81.6,161.4 82.0,160.2 82.4,161.0 82.8,161.0 83.2,160.6 83.6,160.3 84.0,159.5 84.4,162.4 84.8,161.3 85.2,163.5 85.6,162.3 86.0,161.9 86.4,161.3 86.8,163.1 87.2,161.7 87.6,163.4 88.0,162.0 88.4,162.6 88.8,161.3 89.2,164.5 89.6,162.7 90.0,162.6 90.4,163.6 90.8,162.4 91.2,163.8 91.6,162.4 92.0,163.9 92.4,162.7 92.8,162.2 93.2,163.3 93.6,162.8 94.0,164.5 94.4,164.2 94.8,164.7 95.2,164.5 95.6,164.3 96.0,164.7 96.4,165.7 96.8,164.8 97.2,164.5 97.6,164.5 98.0,165.2 98.4,164.9 98.8,167.1 99.2,164.8 99.6,165.0 100.0,165.8 100.4,166.6 100.8,166.0 101.2,165.6 101.6,165.9 102.0,166.4 102.4,167.5 102.8,166.1 103.2,167.0 103.6,166.7 104.0,167.5 104.4,167.7 104.8,166.4 105.2,169.6 105.6,167.9 106.0,167.5 106.4,167.3 106.8,168.0 107.2,168.3 107.6,168.9 108.0,168.5 108.4,169.0 108.8,167.4 109.2,168.2 109.6,168.1 110.0,169.1 110.4,169.4 110.8,168.0 111.2,169.1 111.6,169.9 112.0,170.1 112.4,168.6 112.8,170.0 113.2,169.9 113.6,169.4 114.0,171.4 114.4,169.0 114.8,169.8 115.2,170.5 115.6,170.4 116.0,170.1 116.4,171.5 116.8,171.6 117.2,171.3 117.6,171.4 118.0,170.7 118.4,169.9 118.8,172.6 119.2,170.2 119.6,172.8 120.0,171.0 120.4,171.4 120.8,171.2 121.2,172.2 121.6,171.1 122.0,173.0 122.4,172.1 122.8,171.9 123.2,171.4 123.6,172.1 124.0,172.0 124.4,173.6 124.8,172.9 125.2,171.0 125.6,173.6 126.0,170.5" fill="none" stroke="#111" stroke-width="0.8" stroke-linejoin="round" />
<polyline points="61.5,197.1 62.5,194.1 63.5,190.3 64.5,186.0 65.5,181.1 66.5,176.4 67.5,172.0 68.5,168.0 69.5,164.7 70.5,161.9 71.5,159.4 72.5,157.1 73.5,155.0 74.5,153.1 75.5,151.4 76.5,149.9 77.5,148.5 78.5,147.3 79.5,146.2 80.5,145.4 81.5,144.7 82.5,144.1 83.5,143.5 84.5,143.0 85.5,142.6 86.5,142.2 87.5,141.8 88.5,141.4 89.5,141.1 90.5,140.8 91.5,140.5 92.5,140.2 93.5,140.0 94.5,139.7 95.5,139.5 96.5,139.3 97.5,139.0 98.5,138.8 99.5,138.5 100.5,138.3 101.5,138.1 102.5,138.0 103.5,137.8 104.5,137.7 105.5,137.6 106.5,137.5 107.5,137.5 108.5,137.4 109.5,137.3 110.5,137.3 111.5,137.2 112.5,137.1 113.5,137.1 114.5,137.0 115.5,136.9 116.5,136.9 117.5,136.8 118.5,136.7 119.5,136.7 120.5,136.6 121.5,136.5 122.5,136.5 123.5,136.4 124.5,136.4 125.5,136.3" fill="none" stroke="#f8a040" stroke-width="0.9" stroke-linejoin="round" />
<polyline points="60.8,196.5 61.8,193.2 62.8,189.0 63.8,183.9 64.8,178.1 65.8,172.2 66.8,166.2 67.8,160.6 68.8,155.4 69.8,150.6 70.8,146.2 71.8,142.3 72.8,139.0 73.8,136.2 74.8,133.8 75.8,131.9 76.8,130.5 77.8,129.6 78.8,129.1 79.8,128.8 80.8,128.9 81.8,129.2 82.8,129.7 83.8,130.2 84.8,130.8 85.8,131.4 86.8,132.0 87.8,132.6 88.8,133.2 89.8,133.9 90.8,134.5 91.8,135.1 92.8,135.7 93.8,136.3 94.8,136.9 95.8,137.5 96.8,138.1 97.8,138.7 98.8,139.3 99.8,140.0 100.8,140.6 101.8,141.3 102.8,142.0 103.8,142.7 104.8,143.4 105.8,144.1 106.8,144.8 107.8,145.4 108.8,146.1 109.8,146.8 110.8,147.4 111.8,148.0 112.8,148.6 113.8,149.2 114.8,149.8 115.8,150.3 116.8,150.9 117.8,151.5 118.8,152.1 119.8,152.7 120.8,153.2 121.8,153.8 122.8,154.4 123.8,154.9 124.8,155.3 125.8,155.6" fill="none" stroke="#38b8f0" stroke-width="1.0" stroke-linejoin="round" />
</g>
<rect x="26.3" y="118.9" width="100.0" height="81.6" fill="none" stroke="#333" stroke-width="0.8" />
<line x1="71.0" y1="171.8" x2="79.7" y2="171.8" stroke="#606060" stroke-width="0.9" />
<text x="81.3" y="173.5" font-size="4.8" fill="#333" text-anchor="start" font-weight="normal" font-family='"Liberation Sans", sans-serif' >I<tspan font-size="2.8" dy="-1.8">-</tspan></text>
<line x1="71.0" y1="178.2" x2="79.7" y2="178.2" stroke="#f8a040" stroke-width="0.9" />
<text x="81.3" y="179.8" font-size="4.8" fill="#333" text-anchor="start" font-weight="normal" font-family='"Liberation Sans", sans-serif' >SnO<tspan font-size="2.8" dy="-1.8">-</tspan></text>
<line x1="71.0" y1="184.5" x2="79.7" y2="184.5" stroke="#38b8f0" stroke-width="0.9" />
<text x="81.3" y="186.2" font-size="4.8" fill="#333" text-anchor="start" font-weight="normal" font-family='"Liberation Sans", sans-serif' >NiO<tspan font-size="2.8" dy="-1.8">-</tspan></text>
<line x1="71.0" y1="190.9" x2="79.7" y2="190.9" stroke="#6a5fd0" stroke-width="0.9" />
<text x="81.3" y="192.6" font-size="4.8" fill="#333" text-anchor="start" font-weight="normal" font-family='"Liberation Sans", sans-serif' >[BF<tspan font-size="2.8" dy="1.5">4</tspan><tspan dy="-1.5">]</tspan><tspan font-size="2.8" dy="-1.8">-</tspan></text>
<text x="127.2" y="122.6" font-size="12.5" fill="#000" text-anchor="start" font-weight="bold" font-family='"Liberation Sans", sans-serif' >e</text>
<text x="142.0" y="120.7" font-size="4.6" fill="#333" text-anchor="end" font-weight="normal" font-family='"Liberation Sans", sans-serif' >10<tspan font-size="2.8" dy="-1.8">5</tspan></text>
<line x1="144.3" y1="118.9" x2="145.8" y2="118.9" stroke="#333" stroke-width="0.5" />
<text x="142.0" y="137.0" font-size="4.6" fill="#333" text-anchor="end" font-weight="normal" font-family='"Liberation Sans", sans-serif' >10<tspan font-size="2.8" dy="-1.8">4</tspan></text>
<line x1="144.3" y1="135.2" x2="145.8" y2="135.2" stroke="#333" stroke-width="0.5" />
<text x="142.0" y="153.3" font-size="4.6" fill="#333" text-anchor="end" font-weight="normal" font-family='"Liberation Sans", sans-serif' >10<tspan font-size="2.8" dy="-1.8">3</tspan></text>
<line x1="144.3" y1="151.5" x2="145.8" y2="151.5" stroke="#333" stroke-width="0.5" />
<text x="142.0" y="169.6" font-size="4.6" fill="#333" text-anchor="end" font-weight="normal" font-family='"Liberation Sans", sans-serif' >10<tspan font-size="2.8" dy="-1.8">2</tspan></text>
<line x1="144.3" y1="167.8" x2="145.8" y2="167.8" stroke="#333" stroke-width="0.5" />
<text x="142.0" y="185.9" font-size="4.6" fill="#333" text-anchor="end" font-weight="normal" font-family='"Liberation Sans", sans-serif' >10<tspan font-size="2.8" dy="-1.8">1</tspan></text>
<line x1="144.3" y1="184.1" x2="145.8" y2="184.1" stroke="#333" stroke-width="0.5" />
<text x="142.0" y="202.2" font-size="4.6" fill="#333" text-anchor="end" font-weight="normal" font-family='"Liberation Sans", sans-serif' >10<tspan font-size="2.8" dy="-1.8">0</tspan></text>
<line x1="144.3" y1="200.4" x2="145.8" y2="200.4" stroke="#333" stroke-width="0.5" />
<text x="145.3" y="207.2" font-size="4.8" fill="#333" text-anchor="middle" font-weight="normal" font-family='"Liberation Sans", sans-serif' >0</text>
<line x1="145.3" y1="200.5" x2="145.3" y2="199.0" stroke="#333" stroke-width="0.5" />
<text x="164.1" y="207.2" font-size="4.8" fill="#333" text-anchor="middle" font-weight="normal" font-family='"Liberation Sans", sans-serif' >300</text>
<line x1="164.1" y1="200.5" x2="164.1" y2="199.0" stroke="#333" stroke-width="0.5" />
<text x="182.8" y="207.2" font-size="4.8" fill="#333" text-anchor="middle" font-weight="normal" font-family='"Liberation Sans", sans-serif' >600</text>
<line x1="182.8" y1="200.5" x2="182.8" y2="199.0" stroke="#333" stroke-width="0.5" />
<text x="201.6" y="207.2" font-size="4.8" fill="#333" text-anchor="middle" font-weight="normal" font-family='"Liberation Sans", sans-serif' >900</text>
<line x1="201.6" y1="200.5" x2="201.6" y2="199.0" stroke="#333" stroke-width="0.5" />
<text x="220.3" y="207.2" font-size="4.8" fill="#333" text-anchor="middle" font-weight="normal" font-family='"Liberation Sans", sans-serif' >1,200</text>
<line x1="220.3" y1="200.5" x2="220.3" y2="199.0" stroke="#333" stroke-width="0.5" />
<text x="239.1" y="207.2" font-size="4.8" fill="#333" text-anchor="middle" font-weight="normal" font-family='"Liberation Sans", sans-serif' >1,500</text>
<line x1="239.1" y1="200.5" x2="239.1" y2="199.0" stroke="#333" stroke-width="0.5" />
<text x="194.6" y="212.8" font-size="5" fill="#333" text-anchor="middle" font-weight="normal" font-family='"Liberation Sans", sans-serif' >Sputter time (s)</text>
<text x="0.0" y="0.0" font-size="3.9" fill="#333" text-anchor="middle" font-weight="normal" font-family='"Liberation Sans", sans-serif' transform="translate(133.4,166.5) rotate(-90)">Intensity (counts)</text>
<clipPath id="ce"><rect x="144.3" y="118.9" width="100" height="81.6"/></clipPath><g clip-path="url(#ce)">
<polyline points="144.5,200.5 144.8,188.9 145.1,196.6 145.4,194.0 145.7,194.3 146.0,194.9 146.3,190.2 146.6,194.9 146.9,193.3 147.2,200.5 147.5,196.1 147.8,194.6 148.1,194.8 148.4,193.8 148.7,192.8 149.0,194.5 149.3,196.8 149.6,194.9 149.9,198.0 150.2,195.0 150.5,195.6 150.8,199.5 151.1,196.9 151.4,194.2 151.7,195.0 152.0,196.9 152.3,200.5 152.6,194.8 152.9,194.9 153.2,198.1 153.5,193.2 153.8,194.7 154.1,197.8 154.4,197.0 154.7,195.7 155.0,197.2 155.3,188.1 155.6,198.2 155.9,193.0 156.2,191.2 156.5,196.2 156.8,197.3 157.1,194.3 157.4,192.7 157.7,195.6 158.0,195.4 158.3,199.2 158.6,197.4 158.9,196.0 159.2,198.4 159.5,195.0 159.8,193.1 160.1,197.0 160.4,197.0 160.7,194.9 161.0,193.5 161.3,196.1 161.6,189.0 161.9,197.3 162.2,196.8 162.5,191.2 162.8,195.7 163.1,193.0 163.4,197.5 163.7,190.2 164.0,193.1 164.3,197.3 164.6,198.5 164.9,189.9 165.2,194.2 165.5,196.4 165.8,193.9 166.1,199.6 166.4,192.4 166.7,196.4 167.0,192.8 167.3,199.2 167.6,195.4 167.9,194.5 168.2,191.0 168.5,199.9 168.8,197.5 169.1,197.5 169.4,198.5 169.7,196.4 170.0,193.8 170.3,193.4 170.6,193.4 170.9,199.1 171.2,191.7 171.5,193.9 171.8,194.7 172.1,196.1 172.4,197.0 172.7,192.3 173.0,191.0 173.3,195.5 173.6,198.7 173.9,197.5 174.2,196.1 174.5,194.7 174.8,196.3 175.1,194.9 175.4,197.6 175.7,193.4 176.0,195.8 176.3,195.2 176.6,196.9 176.9,196.1 177.2,200.5 177.5,199.4 177.8,199.4 178.1,190.2 178.4,194.6 178.7,193.9 179.0,196.9 179.3,189.6 179.6,198.6 179.9,198.3 180.2,192.1 180.5,193.0 180.8,193.4 181.1,195.6 181.4,197.2 181.7,200.5 182.0,195.0 182.3,197.5 182.6,195.9 182.9,200.1 183.2,197.4 183.5,199.1 183.8,192.7 184.1,195.0 184.4,193.4 184.7,199.4 185.0,197.2 185.3,194.7 185.6,194.3 185.9,196.8 186.2,193.7 186.5,193.1 186.8,196.8 187.1,200.5 187.4,194.9 187.7,194.1 188.0,192.5 188.3,192.4 188.6,197.6 188.9,198.8 189.2,197.0 189.5,198.2 189.8,198.1 190.1,197.9 190.4,193.9 190.7,194.8 191.0,194.9 191.3,192.3 191.6,191.8 191.9,190.2 192.2,190.1 192.5,191.2 192.8,187.9 193.1,187.4 193.4,188.3 193.7,187.2 194.0,188.2 194.3,180.6 194.6,185.0 194.9,181.7 195.2,182.0 195.5,182.4 195.8,182.0 196.1,181.1 196.4,178.6 196.7,180.4 197.0,176.2 197.3,175.6 197.6,176.4 197.9,173.1 198.2,177.2 198.5,174.3 198.8,175.5 199.1,171.0 199.4,170.5 199.7,171.7 200.0,172.8 200.3,170.6 200.6,172.5 200.9,171.9 201.2,175.0 201.5,171.1 201.8,174.3 202.1,171.4 202.4,171.0 202.7,171.6 203.0,170.9 203.3,173.4 203.6,175.2 203.9,173.7 204.2,174.7 204.5,176.7 204.8,174.4 205.1,174.4 205.4,173.7 205.7,171.5 206.0,175.9 206.3,171.5 206.6,176.0 206.9,175.0 207.2,177.2 207.5,175.2 207.8,174.0 208.1,176.3 208.4,174.8 208.7,175.6 209.0,176.2 209.3,176.1 209.6,176.1 209.9,175.1 210.2,176.4 210.5,173.1 210.8,176.8 211.1,175.1 211.4,179.4 211.7,179.9 212.0,174.2 212.3,178.2 212.6,177.8 212.9,176.3 213.2,179.3 213.5,177.7 213.8,175.5 214.1,178.4 214.4,178.7 214.7,179.4 215.0,177.1 215.3,180.6 215.6,181.0 215.9,177.8 216.2,178.8 216.5,180.0 216.8,179.3 217.1,183.6 217.4,181.0 217.7,179.0 218.0,179.5 218.3,181.0 218.6,185.4 218.9,181.1 219.2,181.8 219.5,182.7 219.8,181.8 220.1,186.1 220.4,181.2 220.7,183.6 221.0,182.6 221.3,183.5 221.6,180.4 221.9,185.8 222.2,182.5 222.5,182.9 222.8,181.2 223.1,181.7 223.4,184.1 223.7,185.0 224.0,184.7 224.3,185.6 224.6,184.8 224.9,183.7 225.2,185.2 225.5,184.9 225.8,183.7 226.1,185.3 226.4,186.4 226.7,184.6 227.0,183.7 227.3,185.7 227.6,187.9 227.9,184.2 228.2,184.5 228.5,184.6 228.8,187.1 229.1,181.7 229.4,185.8 229.7,187.3 230.0,183.8 230.3,188.1 230.6,186.5 230.9,184.6 231.2,186.1 231.5,183.0 231.8,184.9 232.1,189.3 232.4,184.5 232.7,189.5 233.0,186.1 233.3,188.2 233.6,186.6 233.9,182.5 234.2,185.6 234.5,187.1 234.8,184.8 235.1,184.5 235.4,187.7 235.7,186.0 236.0,184.2 236.3,186.1 236.6,189.0 236.9,186.7 237.2,189.3 237.5,190.5 237.8,187.9 238.1,185.9 238.4,185.7 238.7,188.1 239.0,189.8 239.3,188.8 239.6,189.4 239.9,187.8 240.2,189.2 240.5,187.9 240.8,188.3 241.1,186.6 241.4,186.2 241.7,188.3 242.0,187.2 242.3,187.6 242.6,190.6 242.9,189.3 243.2,194.9 243.5,191.4 243.8,188.7 244.1,191.3" fill="none" stroke="#2a9af0" stroke-width="0.8" stroke-linejoin="round" />
<polyline points="144.4,133.8 144.8,139.8 145.2,146.1 145.6,150.2 146.0,149.7 146.4,150.2 146.8,150.2 147.2,150.5 147.6,150.2 148.0,150.7 148.4,150.8 148.8,151.3 149.2,151.1 149.6,151.2 150.0,150.8 150.4,151.8 150.8,150.7 151.2,151.5 151.6,151.1 152.0,151.0 152.4,151.0 152.8,151.0 153.2,151.3 153.6,151.2 154.0,151.6 154.4,150.7 154.8,151.2 155.2,151.0 155.6,151.4 156.0,150.7 156.4,151.1 156.8,151.3 157.2,150.8 157.6,151.4 158.0,151.2 158.4,151.5 158.8,151.4 159.2,151.0 159.6,151.0 160.0,151.1 160.4,151.4 160.8,151.4 161.2,151.0 161.6,151.0 162.0,151.0 162.4,151.1 162.8,151.1 163.2,151.2 163.6,151.7 164.0,151.1 164.4,151.1 164.8,151.3 165.2,151.0 165.6,151.1 166.0,151.2 166.4,151.4 166.8,150.9 167.2,151.5 167.6,151.1 168.0,151.2 168.4,151.4 168.8,151.4 169.2,151.5 169.6,151.2 170.0,151.2 170.4,151.3 170.8,151.0 171.2,151.5 171.6,151.0 172.0,150.9 172.4,151.7 172.8,151.2 173.2,150.9 173.6,151.7 174.0,151.1 174.4,151.5 174.8,151.0 175.2,151.1 175.6,150.8 176.0,150.7 176.4,151.0 176.8,151.2 177.2,151.4 177.6,151.8 178.0,150.9 178.4,151.5 178.8,151.0 179.2,151.2 179.6,150.8 180.0,150.8 180.4,151.0 180.8,150.9 181.2,151.2 181.6,151.0 182.0,151.5 182.4,151.2 182.8,151.2 183.2,151.5 183.6,151.3 184.0,151.2 184.4,151.2 184.8,151.2 185.2,151.5 185.6,151.4 186.0,151.3 186.4,151.4 186.8,151.1 187.2,151.3 187.6,150.8 188.0,151.5 188.4,151.2 188.8,151.2 189.2,151.3 189.6,151.2 190.0,151.1 190.4,151.5 190.8,151.2 191.2,151.0 191.6,151.3 192.0,150.8 192.4,151.6 192.8,151.9 193.2,152.6 193.6,153.9 194.0,154.5 194.4,154.7 194.8,155.6 195.2,156.4 195.6,157.2 196.0,157.5 196.4,158.2 196.8,159.2 197.2,159.7 197.6,160.5 198.0,161.5 198.4,162.2 198.8,163.4 199.2,164.0 199.6,165.7 200.0,167.2 200.4,167.7 200.8,169.3 201.2,170.4 201.6,171.2 202.0,172.3 202.4,173.4 202.8,174.3 203.2,175.6 203.6,176.9 204.0,178.2 204.4,179.5 204.8,180.3 205.2,184.5 205.6,180.1 206.0,183.4 206.4,186.5 206.8,186.3 207.2,187.2 207.6,189.8 208.0,188.1 208.4,189.2 208.8,192.2 209.2,197.7 209.6,195.4 210.0,200.5 210.4,199.4 210.8,188.6 211.2,197.5 211.6,200.5 212.0,199.0 212.4,197.5 212.8,195.9 213.2,200.5 213.6,200.5 214.0,200.5 214.4,200.5 214.8,200.5 215.2,200.5 215.6,194.7 216.0,200.5 216.4,199.6 216.8,198.6 217.2,200.5 217.6,199.1 218.0,188.7 218.4,200.5 218.8,200.5 219.2,198.6 219.6,197.7 220.0,199.8 220.4,194.5 220.8,200.1 221.2,198.2 221.6,197.8 222.0,195.8 222.4,196.6 222.8,200.5 223.2,200.5 223.6,200.5 224.0,198.8 224.4,195.9 224.8,200.5 225.2,200.5 225.6,193.3 226.0,200.5 226.4,191.4 226.8,197.8 227.2,200.3 227.6,194.2 228.0,193.7 228.4,199.6 228.8,200.5 229.2,197.3 229.6,200.5 230.0,196.3 230.4,200.5 230.8,199.4 231.2,199.8 231.6,200.5 232.0,200.1 232.4,200.5 232.8,200.5 233.2,200.5 233.6,198.4 234.0,194.9 234.4,196.4 234.8,199.0 235.2,198.6 235.6,198.8 236.0,199.0 236.4,200.5 236.8,194.3 237.2,195.4 237.6,200.5 238.0,200.5 238.4,197.1 238.8,200.5 239.2,196.6 239.6,198.1 240.0,192.6 240.4,200.5 240.8,199.0 241.2,200.5 241.6,200.5 242.0,199.3 242.4,199.6 242.8,200.5 243.2,198.5 243.6,198.5 244.0,199.3" fill="none" stroke="#111" stroke-width="0.8" stroke-linejoin="round" />
<polyline points="144.4,128.3 144.8,134.7 145.2,139.6 145.6,145.5 146.0,148.1 146.4,150.4 146.8,152.4 147.2,153.8 147.6,153.5 148.0,153.6 148.4,153.6 148.8,153.3 149.2,153.4 149.6,153.8 150.0,153.6 150.4,154.2 150.8,154.3 151.2,154.5 151.6,154.0 152.0,154.5 152.4,153.9 152.8,154.0 153.2,154.3 153.6,154.5 154.0,154.0 154.4,154.0 154.8,154.7 155.2,154.4 155.6,155.1 156.0,154.9 156.4,154.9 156.8,154.9 157.2,155.2 157.6,154.9 158.0,155.3 158.4,154.8 158.8,154.8 159.2,154.6 159.6,155.0 160.0,154.8 160.4,154.5 160.8,155.3 161.2,154.5 161.6,154.6 162.0,154.7 162.4,155.1 162.8,154.5 163.2,154.7 163.6,154.5 164.0,154.0 164.4,154.6 164.8,154.6 165.2,154.2 165.6,154.2 166.0,153.8 166.4,153.7 166.8,154.0 167.2,154.3 167.6,153.9 168.0,154.1 168.4,154.3 168.8,154.0 169.2,154.1 169.6,154.3 170.0,153.5 170.4,154.0 170.8,153.2 171.2,153.8 171.6,153.7 172.0,153.5 172.4,153.3 172.8,153.5 173.2,153.4 173.6,153.5 174.0,153.2 174.4,153.6 174.8,153.1 175.2,153.2 175.6,153.2 176.0,153.7 176.4,152.9 176.8,153.2 177.2,153.7 177.6,153.2 178.0,153.0 178.4,153.5 178.8,153.3 179.2,153.7 179.6,153.2 180.0,153.5 180.4,153.7 180.8,153.8 181.2,153.2 181.6,153.9 182.0,153.3 182.4,153.1 182.8,153.3 183.2,153.6 183.6,153.5 184.0,153.7 184.4,153.8 184.8,153.7 185.2,153.6 185.6,154.2 186.0,153.0 186.4,153.2 186.8,153.5 187.2,153.3 187.6,153.0 188.0,153.5 188.4,153.5 188.8,153.0 189.2,154.0 189.6,154.2 190.0,153.9 190.4,152.7 190.8,152.3 191.2,151.4 191.6,151.1 192.0,150.3 192.4,150.0 192.8,149.2 193.2,149.0 193.6,148.3 194.0,147.8 194.4,146.4 194.8,145.7 195.2,145.8 195.6,144.9 196.0,144.6 196.4,144.3 196.8,144.9 197.2,145.9 197.6,146.5 198.0,147.2 198.4,147.5 198.8,149.0 199.2,149.2 199.6,150.2 200.0,151.1 200.4,153.2 200.8,152.2 201.2,153.0 201.6,153.6 202.0,153.1 202.4,154.0 202.8,155.3 203.2,156.1 203.6,155.5 204.0,161.2 204.4,156.6 204.8,157.9 205.2,162.4 205.6,158.0 206.0,160.5 206.4,160.7 206.8,159.7 207.2,158.2 207.6,158.3 208.0,161.0 208.4,162.0 208.8,158.4 209.2,162.2 209.6,161.3 210.0,164.0 210.4,163.3 210.8,162.1 211.2,163.0 211.6,164.1 212.0,166.3 212.4,169.2 212.8,165.5 213.2,165.5 213.6,166.7 214.0,166.0 214.4,167.4 214.8,167.3 215.2,167.1 215.6,166.2 216.0,168.0 216.4,169.4 216.8,168.5 217.2,171.0 217.6,170.5 218.0,169.2 218.4,172.4 218.8,168.4 219.2,172.2 219.6,173.5 220.0,170.6 220.4,171.1 220.8,172.9 221.2,173.9 221.6,172.6 222.0,172.6 222.4,173.8 222.8,173.1 223.2,171.1 223.6,172.9 224.0,173.4 224.4,171.4 224.8,174.5 225.2,173.1 225.6,175.5 226.0,172.4 226.4,173.5 226.8,172.9 227.2,177.3 227.6,177.5 228.0,178.1 228.4,178.3 228.8,177.7 229.2,177.9 229.6,174.3 230.0,177.6 230.4,176.6 230.8,177.1 231.2,175.9 231.6,180.0 232.0,178.5 232.4,176.3 232.8,179.5 233.2,178.8 233.6,177.6 234.0,178.9 234.4,178.4 234.8,176.3 235.2,177.7 235.6,180.9 236.0,180.9 236.4,180.9 236.8,179.0 237.2,180.1 237.6,181.3 238.0,182.4 238.4,180.3 238.8,180.2 239.2,183.7 239.6,182.4 240.0,181.9 240.4,181.6 240.8,181.9 241.2,185.5 241.6,184.8 242.0,182.9 242.4,181.9 242.8,186.5 243.2,186.6 243.6,186.2 244.0,185.9" fill="none" stroke="#ee2020" stroke-width="0.9" stroke-linejoin="round" />
<polyline points="188.5,197.8 189.5,195.7 190.5,193.0 191.5,189.7 192.5,185.8 193.5,182.1 194.5,178.6 195.5,175.5 196.5,172.7 197.5,170.2 198.5,168.0 199.5,166.2 200.5,164.7 201.5,163.2 202.5,161.8 203.5,160.4 204.5,159.1 205.5,158.0 206.5,156.9 207.5,155.9 208.5,154.9 209.5,154.0 210.5,153.2 211.5,152.4 212.5,151.6 213.5,150.9 214.5,150.2 215.5,149.5 216.5,148.9 217.5,148.4 218.5,147.8 219.5,147.3 220.5,146.8 221.5,146.4 222.5,146.0 223.5,145.6 224.5,145.2 225.5,144.9 226.5,144.5 227.5,144.2 228.5,143.9 229.5,143.6 230.5,143.4 231.5,143.1 232.5,142.9 233.5,142.6 234.5,142.4 235.5,142.2 236.5,142.0 237.5,141.8 238.5,141.6 239.5,141.3 240.5,141.1 241.5,140.9 242.5,140.8 243.5,140.7" fill="none" stroke="#f8a040" stroke-width="0.9" stroke-linejoin="round" />
</g>
<rect x="144.3" y="118.9" width="100.0" height="81.6" fill="none" stroke="#333" stroke-width="0.8" />
<line x1="151.0" y1="124.8" x2="160.0" y2="124.8" stroke="#ee2020" stroke-width="0.9" />
<text x="162.0" y="126.5" font-size="4.8" fill="#333" text-anchor="start" font-weight="normal" font-family='"Liberation Sans", sans-serif' >[EMIM]<tspan font-size="2.8" dy="-1.8">+</tspan></text>
<line x1="151.0" y1="130.5" x2="160.0" y2="130.5" stroke="#111" stroke-width="0.9" />
<text x="162.0" y="132.2" font-size="4.8" fill="#333" text-anchor="start" font-weight="normal" font-family='"Liberation Sans", sans-serif' >Pb<tspan font-size="2.8" dy="-1.8">+</tspan></text>
<line x1="186.8" y1="124.8" x2="195.3" y2="124.8" stroke="#2a9af0" stroke-width="0.9" />
<text x="197.3" y="126.5" font-size="4.8" fill="#333" text-anchor="start" font-weight="normal" font-family='"Liberation Sans", sans-serif' >Ni<tspan font-size="2.8" dy="-1.8">+</tspan></text>
<line x1="186.8" y1="130.5" x2="195.3" y2="130.5" stroke="#f8a040" stroke-width="0.9" />
<text x="197.3" y="132.2" font-size="4.8" fill="#333" text-anchor="start" font-weight="normal" font-family='"Liberation Sans", sans-serif' >[SnO+Cs]<tspan font-size="2.8" dy="-1.8">+</tspan></text>
<text x="248.6" y="124.2" font-size="12.5" fill="#000" text-anchor="start" font-weight="bold" font-family='"Liberation Sans", sans-serif' >f</text>
<defs><clipPath id="gf"><path d="M266.2,197.9 L266.2,131.8 Q316.85,126.19999999999999 367.5,131.8 L367.5,197.9 Z"/></clipPath><radialGradient id="gfg" cx="316.8" cy="197.9" r="95" gradientUnits="userSpaceOnUse"><stop offset="0" stop-color="#60e8c8"/><stop offset="0.08" stop-color="#38d8e8"/><stop offset="0.25" stop-color="#26bcf4"/><stop offset="0.4" stop-color="#1898f4"/><stop offset="0.56" stop-color="#1478f0"/><stop offset="0.72" stop-color="#0c5ce8"/><stop offset="0.84" stop-color="#0842dc"/><stop offset="1" stop-color="#0530d0"/></radialGradient></defs>
<line x1="265.4" y1="124.9" x2="265.4" y2="197.9" stroke="#888" stroke-width="0.4" />
<g clip-path="url(#gf)">
<rect x="266.2" y="124.0" width="101.3" height="73.9" fill="url(#gfg)" stroke="none" stroke-width="1" />
<ellipse cx="316.8" cy="197.9" rx="53.9" ry="49.0" fill="none" stroke="#40b8f8" stroke-width="0.8" opacity="0.7"/>
<ellipse cx="316.8" cy="197.9" rx="61.6" ry="57.0" fill="none" stroke="#40b0f8" stroke-width="0.8" opacity="0.6"/>
<ellipse cx="316.8" cy="197.9" rx="70.4" ry="64.0" fill="none" stroke="#38c0f8" stroke-width="1.0" opacity="0.8"/>
<ellipse cx="316.8" cy="197.9" rx="79.5" ry="75.0" fill="none" stroke="#30e8f4" stroke-width="1.6" opacity="1.0"/>
<ellipse cx="316.8" cy="197.9" rx="85.3" ry="82.0" fill="none" stroke="#30e0f0" stroke-width="1.5" opacity="0.95"/>
<ellipse cx="316.8" cy="197.9" rx="35" ry="37" fill="none" stroke="#c0f030" stroke-width="1.5"/>
<path d="M266.2,145.89999999999998 Q316.8,143.5 367.5,145.89999999999998" fill="none" stroke="#ffffff" stroke-width="1.5"/>
<path d="M266.2,163.6 Q316.8,161.20000000000002 367.5,163.6" fill="none" stroke="#ffffff" stroke-width="1.5"/>
<path d="M266.2,181.2 Q316.8,178.8 367.5,181.2" fill="none" stroke="#ffffff" stroke-width="1.5"/>
<line x1="297.3" y1="124.0" x2="297.3" y2="197.9" stroke="#e8f4ff" stroke-width="0.8" opacity="0.8"/>
<line x1="334.6" y1="124.0" x2="334.6" y2="197.9" stroke="#e8f4ff" stroke-width="0.8" opacity="0.8"/>
<rect x="311.8" y="194.1" width="10" height="4.5" rx="2" fill="#0a0a70"/>
<circle cx="316.8" cy="193.6" r="0.9" fill="#e8f040"/>
</g>
<text x="316.8" y="168.9" font-size="6.5" fill="#e8f8ff" text-anchor="middle" font-weight="normal" font-family='"Liberation Sans", sans-serif' >110</text>
<text x="314.1" y="124.5" font-size="5.6" fill="#222" text-anchor="middle" font-weight="normal" font-family='"Liberation Sans", sans-serif' >Pristine</text>
<text x="264.0" y="127.2" font-size="4.6" fill="#444" text-anchor="end" font-weight="normal" font-family='"Liberation Sans", sans-serif' >20</text>
<line x1="265.0" y1="124.9" x2="266.2" y2="124.9" stroke="#777" stroke-width="0.4" />
<text x="264.0" y="145.4" font-size="4.6" fill="#444" text-anchor="end" font-weight="normal" font-family='"Liberation Sans", sans-serif' >15</text>
<line x1="265.0" y1="143.1" x2="266.2" y2="143.1" stroke="#777" stroke-width="0.4" />
<text x="264.0" y="163.6" font-size="4.6" fill="#444" text-anchor="end" font-weight="normal" font-family='"Liberation Sans", sans-serif' >10</text>
<line x1="265.0" y1="161.3" x2="266.2" y2="161.3" stroke="#777" stroke-width="0.4" />
<text x="264.0" y="181.9" font-size="4.6" fill="#444" text-anchor="end" font-weight="normal" font-family='"Liberation Sans", sans-serif' >5</text>
<line x1="265.0" y1="179.6" x2="266.2" y2="179.6" stroke="#777" stroke-width="0.4" />
<text x="264.0" y="200.2" font-size="4.6" fill="#444" text-anchor="end" font-weight="normal" font-family='"Liberation Sans", sans-serif' >0</text>
<line x1="265.0" y1="197.9" x2="266.2" y2="197.9" stroke="#777" stroke-width="0.4" />
<text x="266.2" y="203.4" font-size="4.6" fill="#333" text-anchor="middle" font-weight="normal" font-family='"Liberation Sans", sans-serif' >-15</text>
<text x="283.1" y="203.4" font-size="4.6" fill="#333" text-anchor="middle" font-weight="normal" font-family='"Liberation Sans", sans-serif' >-10</text>
<text x="300.0" y="203.4" font-size="4.6" fill="#333" text-anchor="middle" font-weight="normal" font-family='"Liberation Sans", sans-serif' >-5</text>
<text x="316.9" y="203.4" font-size="4.6" fill="#333" text-anchor="middle" font-weight="normal" font-family='"Liberation Sans", sans-serif' >0</text>
<text x="333.7" y="203.4" font-size="4.6" fill="#333" text-anchor="middle" font-weight="normal" font-family='"Liberation Sans", sans-serif' >5</text>
<text x="350.6" y="203.4" font-size="4.6" fill="#333" text-anchor="middle" font-weight="normal" font-family='"Liberation Sans", sans-serif' >10</text>
<text x="367.5" y="203.4" font-size="4.6" fill="#333" text-anchor="middle" font-weight="normal" font-family='"Liberation Sans", sans-serif' >15</text>
<text x="316.8" y="210.9" font-size="4.8" fill="#333" text-anchor="middle" font-weight="normal" font-family='"Liberation Sans", sans-serif' >q<tspan font-size="3" dy="1">r</tspan><tspan dy="-1">(nm</tspan><tspan font-size="3" dy="-1.5">-1</tspan><tspan dy="1.5">)</tspan></text>
<text x="0.0" y="0.0" font-size="4.8" fill="#333" text-anchor="middle" font-weight="normal" font-family='"Liberation Sans", sans-serif' transform="translate(258.0,163.4) rotate(-90)">q<tspan font-size="3" dy="1">z</tspan><tspan dy="-1">(nm</tspan><tspan font-size="3" dy="-1.5">-1</tspan><tspan dy="1.5">)</tspan></text>
<line x1="362.0" y1="151.0" x2="358.0" y2="155.0" stroke="#000" stroke-width="0.9" />
<polygon points="357.0,156.0 357.2,152.8 360.2,155.8" fill="#000" stroke="none" stroke-width="1" />
<line x1="353.0" y1="163.0" x2="349.0" y2="167.0" stroke="#000" stroke-width="0.9" />
<polygon points="348.0,168.0 348.2,164.8 351.2,167.8" fill="#000" stroke="none" stroke-width="1" />
<defs><linearGradient id="cbf" x1="0" x2="0" y1="0" y2="1"><stop offset="0" stop-color="#800000"/><stop offset="0.12" stop-color="#ff1000"/><stop offset="0.3" stop-color="#ffa000"/><stop offset="0.42" stop-color="#f0f000"/><stop offset="0.5" stop-color="#80ff70"/><stop offset="0.62" stop-color="#00e0ff"/><stop offset="0.75" stop-color="#0080ff"/><stop offset="0.88" stop-color="#0010ff"/><stop offset="1" stop-color="#000080"/></linearGradient></defs>
<rect x="372.5" y="125.0" width="5.5" height="73.3" fill="url(#cbf)" stroke="#666" stroke-width="0.3" />
<text x="380.0" y="126.5" font-size="4.6" fill="#333" text-anchor="start" font-weight="normal" font-family='"Liberation Sans", sans-serif' >10<tspan font-size="3" dy="-2">4.5</tspan></text>
<text x="380.0" y="144.8" font-size="4.6" fill="#333" text-anchor="start" font-weight="normal" font-family='"Liberation Sans", sans-serif' >10<tspan font-size="3" dy="-2">4</tspan></text>
<text x="380.0" y="163.2" font-size="4.6" fill="#333" text-anchor="start" font-weight="normal" font-family='"Liberation Sans", sans-serif' >10<tspan font-size="3" dy="-2">3.5</tspan></text>
<text x="380.0" y="181.5" font-size="4.6" fill="#333" text-anchor="start" font-weight="normal" font-family='"Liberation Sans", sans-serif' >10<tspan font-size="3" dy="-2">3</tspan></text>
<text x="380.0" y="199.8" font-size="4.6" fill="#333" text-anchor="start" font-weight="normal" font-family='"Liberation Sans", sans-serif' >10<tspan font-size="3" dy="-2">2.5</tspan></text>
<text x="391.8" y="122.2" font-size="13.5" fill="#000" text-anchor="start" font-weight="bold" font-family='"Liberation Serif", serif' >g</text>
<defs><clipPath id="gg"><path d="M405.9,197.9 L405.9,129.4 Q462.75,123.6 519.6,129.4 L519.6,197.9 Z"/></clipPath><radialGradient id="ggg" cx="462.5" cy="197.9" r="95" gradientUnits="userSpaceOnUse"><stop offset="0" stop-color="#60e8c8"/><stop offset="0.08" stop-color="#38d8e8"/><stop offset="0.25" stop-color="#26bcf4"/><stop offset="0.4" stop-color="#1898f4"/><stop offset="0.56" stop-color="#1478f0"/><stop offset="0.72" stop-color="#0c5ce8"/><stop offset="0.84" stop-color="#0842dc"/><stop offset="1" stop-color="#0530d0"/></radialGradient></defs>
<line x1="405.1" y1="124.9" x2="405.1" y2="197.9" stroke="#888" stroke-width="0.4" />
<g clip-path="url(#gg)">
<rect x="405.9" y="121.5" width="113.7" height="76.4" fill="url(#ggg)" stroke="none" stroke-width="1" />
<ellipse cx="462.5" cy="197.9" rx="53.9" ry="49.0" fill="none" stroke="#40b8f8" stroke-width="0.8" opacity="0.7"/>
<ellipse cx="462.5" cy="197.9" rx="61.6" ry="57.0" fill="none" stroke="#40b0f8" stroke-width="0.8" opacity="0.6"/>
<ellipse cx="462.5" cy="197.9" rx="70.4" ry="64.0" fill="none" stroke="#38c0f8" stroke-width="1.0" opacity="0.8"/>
<ellipse cx="462.5" cy="197.9" rx="79.5" ry="75.0" fill="none" stroke="#30e8f4" stroke-width="1.6" opacity="1.0"/>
<ellipse cx="462.5" cy="197.9" rx="85.3" ry="82.0" fill="none" stroke="#30e0f0" stroke-width="1.5" opacity="0.95"/>
<ellipse cx="462.5" cy="197.9" rx="38.5" ry="37" fill="none" stroke="#c0f030" stroke-width="1.5"/>
<path d="M405.9,144.89999999999998 Q462.5,142.5 519.6,144.89999999999998" fill="none" stroke="#ffffff" stroke-width="1.5"/>
<path d="M405.9,162.2 Q462.5,159.8 519.6,162.2" fill="none" stroke="#ffffff" stroke-width="1.5"/>
<path d="M405.9,181.7 Q462.5,179.3 519.6,181.7" fill="none" stroke="#ffffff" stroke-width="1.5"/>
<line x1="439.5" y1="121.5" x2="439.5" y2="197.9" stroke="#e8f4ff" stroke-width="0.8" opacity="0.8"/>
<line x1="482.6" y1="121.5" x2="482.6" y2="197.9" stroke="#e8f4ff" stroke-width="0.8" opacity="0.8"/>
<rect x="457.5" y="194.1" width="10" height="4.5" rx="2" fill="#0a0a70"/>
<circle cx="462.5" cy="193.6" r="0.9" fill="#e8f040"/>
</g>
<text x="462.5" y="168.9" font-size="6.5" fill="#e8f8ff" text-anchor="middle" font-weight="normal" font-family='"Liberation Sans", sans-serif' >( 110 )</text>
<text x="460.5" y="123.2" font-size="5.6" fill="#222" text-anchor="middle" font-weight="normal" font-family='"Liberation Sans", sans-serif' >w/  BAAc</text>
<text x="403.7" y="127.2" font-size="4.6" fill="#444" text-anchor="end" font-weight="normal" font-family='"Liberation Sans", sans-serif' >20</text>
<line x1="404.7" y1="124.9" x2="405.9" y2="124.9" stroke="#777" stroke-width="0.4" />
<text x="403.7" y="145.4" font-size="4.6" fill="#444" text-anchor="end" font-weight="normal" font-family='"Liberation Sans", sans-serif' >15</text>
<line x1="404.7" y1="143.1" x2="405.9" y2="143.1" stroke="#777" stroke-width="0.4" />
<text x="403.7" y="163.6" font-size="4.6" fill="#444" text-anchor="end" font-weight="normal" font-family='"Liberation Sans", sans-serif' >10</text>
<line x1="404.7" y1="161.3" x2="405.9" y2="161.3" stroke="#777" stroke-width="0.4" />
<text x="403.7" y="181.9" font-size="4.6" fill="#444" text-anchor="end" font-weight="normal" font-family='"Liberation Sans", sans-serif' >5</text>
<line x1="404.7" y1="179.6" x2="405.9" y2="179.6" stroke="#777" stroke-width="0.4" />
<text x="403.7" y="200.2" font-size="4.6" fill="#444" text-anchor="end" font-weight="normal" font-family='"Liberation Sans", sans-serif' >0</text>
<line x1="404.7" y1="197.9" x2="405.9" y2="197.9" stroke="#777" stroke-width="0.4" />
<text x="405.9" y="203.4" font-size="4.6" fill="#333" text-anchor="middle" font-weight="normal" font-family='"Liberation Sans", sans-serif' >-15</text>
<text x="424.8" y="203.4" font-size="4.6" fill="#333" text-anchor="middle" font-weight="normal" font-family='"Liberation Sans", sans-serif' >-10</text>
<text x="443.8" y="203.4" font-size="4.6" fill="#333" text-anchor="middle" font-weight="normal" font-family='"Liberation Sans", sans-serif' >-5</text>
<text x="462.8" y="203.4" font-size="4.6" fill="#333" text-anchor="middle" font-weight="normal" font-family='"Liberation Sans", sans-serif' >0</text>
<text x="481.7" y="203.4" font-size="4.6" fill="#333" text-anchor="middle" font-weight="normal" font-family='"Liberation Sans", sans-serif' >5</text>
<text x="500.7" y="203.4" font-size="4.6" fill="#333" text-anchor="middle" font-weight="normal" font-family='"Liberation Sans", sans-serif' >10</text>
<text x="519.6" y="203.4" font-size="4.6" fill="#333" text-anchor="middle" font-weight="normal" font-family='"Liberation Sans", sans-serif' >15</text>
<text x="462.5" y="210.9" font-size="4.8" fill="#333" text-anchor="middle" font-weight="normal" font-family='"Liberation Sans", sans-serif' >q<tspan font-size="3" dy="1">r</tspan><tspan dy="-1">(nm</tspan><tspan font-size="3" dy="-1.5">-1</tspan><tspan dy="1.5">)</tspan></text>
<text x="0.0" y="0.0" font-size="4.8" fill="#333" text-anchor="middle" font-weight="normal" font-family='"Liberation Sans", sans-serif' transform="translate(397.7,163.4) rotate(-90)">q<tspan font-size="3" dy="1">z</tspan><tspan dy="-1">(nm</tspan><tspan font-size="3" dy="-1.5">-1</tspan><tspan dy="1.5">)</tspan></text>
<defs><linearGradient id="cbg" x1="0" x2="0" y1="0" y2="1"><stop offset="0" stop-color="#800000"/><stop offset="0.12" stop-color="#ff1000"/><stop offset="0.3" stop-color="#ffa000"/><stop offset="0.42" stop-color="#f0f000"/><stop offset="0.5" stop-color="#80ff70"/><stop offset="0.62" stop-color="#00e0ff"/><stop offset="0.75" stop-color="#0080ff"/><stop offset="0.88" stop-color="#0010ff"/><stop offset="1" stop-color="#000080"/></linearGradient></defs>
<rect x="525.0" y="123.0" width="5.5" height="76.0" fill="url(#cbg)" stroke="#666" stroke-width="0.3" />
<text x="533.0" y="124.5" font-size="4.6" fill="#333" text-anchor="start" font-weight="normal" font-family='"Liberation Sans", sans-serif' >10<tspan font-size="3" dy="-2">4.5</tspan></text>
<text x="533.0" y="143.5" font-size="4.6" fill="#333" text-anchor="start" font-weight="normal" font-family='"Liberation Sans", sans-serif' >10<tspan font-size="3" dy="-2">4</tspan></text>
<text x="533.0" y="162.5" font-size="4.6" fill="#333" text-anchor="start" font-weight="normal" font-family='"Liberation Sans", sans-serif' >10<tspan font-size="3" dy="-2">3.5</tspan></text>
<text x="533.0" y="181.5" font-size="4.6" fill="#333" text-anchor="start" font-weight="normal" font-family='"Liberation Sans", sans-serif' >10<tspan font-size="3" dy="-2">3</tspan></text>
<text x="533.0" y="200.5" font-size="4.6" fill="#333" text-anchor="start" font-weight="normal" font-family='"Liberation Sans", sans-serif' >10<tspan font-size="3" dy="-2">2.5</tspan></text>
<text x="8.6" y="224.4" font-size="12.5" fill="#000" text-anchor="start" font-weight="bold" font-family='"Liberation Sans", sans-serif' >h</text>
<text x="47.0" y="222.9" font-size="5.5" fill="#222" text-anchor="end" font-weight="normal" font-family='"Liberation Sans", sans-serif' >10<tspan font-size="3.4" dy="-2.2">2</tspan></text>
<line x1="49.3" y1="221.0" x2="51.3" y2="221.0" stroke="#222" stroke-width="0.6" />
<text x="47.0" y="237.7" font-size="5.5" fill="#222" text-anchor="end" font-weight="normal" font-family='"Liberation Sans", sans-serif' >10<tspan font-size="3.4" dy="-2.2">1</tspan></text>
<line x1="49.3" y1="235.8" x2="51.3" y2="235.8" stroke="#222" stroke-width="0.6" />
<text x="47.0" y="252.5" font-size="5.5" fill="#222" text-anchor="end" font-weight="normal" font-family='"Liberation Sans", sans-serif' >10<tspan font-size="3.4" dy="-2.2">0</tspan></text>
<line x1="49.3" y1="250.6" x2="51.3" y2="250.6" stroke="#222" stroke-width="0.6" />
<text x="47.0" y="267.3" font-size="5.5" fill="#222" text-anchor="end" font-weight="normal" font-family='"Liberation Sans", sans-serif' >10<tspan font-size="3.4" dy="-2.2">-1</tspan></text>
<line x1="49.3" y1="265.4" x2="51.3" y2="265.4" stroke="#222" stroke-width="0.6" />
<text x="47.0" y="282.1" font-size="5.5" fill="#222" text-anchor="end" font-weight="normal" font-family='"Liberation Sans", sans-serif' >10<tspan font-size="3.4" dy="-2.2">-2</tspan></text>
<line x1="49.3" y1="280.2" x2="51.3" y2="280.2" stroke="#222" stroke-width="0.6" />
<text x="47.0" y="296.9" font-size="5.5" fill="#222" text-anchor="end" font-weight="normal" font-family='"Liberation Sans", sans-serif' >10<tspan font-size="3.4" dy="-2.2">-3</tspan></text>
<line x1="49.3" y1="295.0" x2="51.3" y2="295.0" stroke="#222" stroke-width="0.6" />
<text x="47.0" y="311.7" font-size="5.5" fill="#222" text-anchor="end" font-weight="normal" font-family='"Liberation Sans", sans-serif' >10<tspan font-size="3.4" dy="-2.2">-4</tspan></text>
<line x1="49.3" y1="309.8" x2="51.3" y2="309.8" stroke="#222" stroke-width="0.6" />
<text x="47.0" y="326.5" font-size="5.5" fill="#222" text-anchor="end" font-weight="normal" font-family='"Liberation Sans", sans-serif' >10<tspan font-size="3.4" dy="-2.2">-5</tspan></text>
<line x1="49.3" y1="324.6" x2="51.3" y2="324.6" stroke="#222" stroke-width="0.6" />
<text x="93.4" y="336.0" font-size="7" fill="#222" text-anchor="middle" font-weight="normal" font-family='"Liberation Sans", sans-serif' >0.1</text>
<line x1="93.4" y1="327.7" x2="93.4" y2="325.5" stroke="#222" stroke-width="0.6" />
<text x="177.0" y="336.0" font-size="7" fill="#222" text-anchor="middle" font-weight="normal" font-family='"Liberation Sans", sans-serif' >1</text>
<line x1="177.0" y1="327.7" x2="177.0" y2="325.5" stroke="#222" stroke-width="0.6" />
<line x1="60.1" y1="327.7" x2="60.1" y2="326.5" stroke="#222" stroke-width="0.5" />
<line x1="68.2" y1="327.7" x2="68.2" y2="326.5" stroke="#222" stroke-width="0.5" />
<line x1="74.9" y1="327.7" x2="74.9" y2="326.5" stroke="#222" stroke-width="0.5" />
<line x1="80.5" y1="327.7" x2="80.5" y2="326.5" stroke="#222" stroke-width="0.5" />
<line x1="85.3" y1="327.7" x2="85.3" y2="326.5" stroke="#222" stroke-width="0.5" />
<line x1="89.6" y1="327.7" x2="89.6" y2="326.5" stroke="#222" stroke-width="0.5" />
<line x1="118.6" y1="327.7" x2="118.6" y2="326.5" stroke="#222" stroke-width="0.5" />
<line x1="133.3" y1="327.7" x2="133.3" y2="326.5" stroke="#222" stroke-width="0.5" />
<line x1="143.7" y1="327.7" x2="143.7" y2="326.5" stroke="#222" stroke-width="0.5" />
<line x1="151.8" y1="327.7" x2="151.8" y2="326.5" stroke="#222" stroke-width="0.5" />
<line x1="158.5" y1="327.7" x2="158.5" y2="326.5" stroke="#222" stroke-width="0.5" />
<line x1="164.1" y1="327.7" x2="164.1" y2="326.5" stroke="#222" stroke-width="0.5" />
<line x1="168.9" y1="327.7" x2="168.9" y2="326.5" stroke="#222" stroke-width="0.5" />
<line x1="173.2" y1="327.7" x2="173.2" y2="326.5" stroke="#222" stroke-width="0.5" />
<text x="118.0" y="342.5" font-size="8" fill="#222" text-anchor="middle" font-weight="normal" font-family='"Liberation Sans", sans-serif' >Voltage (V)</text>
<text x="0.0" y="0.0" font-size="6.9" fill="#222" text-anchor="middle" font-weight="normal" font-family='"Liberation Sans", sans-serif' transform="translate(37.2,274.5) rotate(-90)">Current density (mA cm<tspan font-size="4.2" dy="-2.7">-2</tspan><tspan dy="2.7">)</tspan></text>
<clipPath id="ch"><rect x="49.3" y="221.5" width="142" height="106.2"/></clipPath><g clip-path="url(#ch)">
<polygon points="52.0,233.0 62.0,226.0 98.0,226.0 88.0,233.0" fill="#d8d8d8" stroke="none" stroke-width="1" />
<polygon points="52.0,233.0 88.0,233.0 88.0,236.0 52.0,236.0" fill="#b8b8b8" stroke="none" stroke-width="1" />
<polygon points="88.0,233.0 98.0,226.0 98.0,229.0 88.0,236.0" fill="#a0a0a0" stroke="none" stroke-width="1" />
<polygon points="52.0,236.0 60.0,231.0 98.0,231.0 90.0,236.0" fill="#a8a070" stroke="none" stroke-width="1" />
<polygon points="52.0,236.0 90.0,236.0 90.0,238.5 52.0,238.5" fill="#8a8050" stroke="none" stroke-width="1" />
<polygon points="52.0,238.5 59.0,234.0 98.0,234.0 91.0,238.5" fill="#6a6540" stroke="none" stroke-width="1" />
<polygon points="52.0,238.5 91.0,238.5 91.0,243.0 52.0,243.0" fill="#4a4530" stroke="none" stroke-width="1" />
<polygon points="91.0,238.5 98.0,234.0 98.0,238.5 91.0,243.0" fill="#3a3520" stroke="none" stroke-width="1" />
<text x="62.0" y="241.8" font-size="3" fill="#eee" text-anchor="start" font-weight="normal" font-family='"Liberation Sans", sans-serif' >perovskite</text>
<polygon points="52.0,243.0 58.0,239.5 98.0,239.5 92.0,243.0" fill="#40c8f0" stroke="none" stroke-width="1" />
<polygon points="52.0,243.0 92.0,243.0 92.0,246.5 52.0,246.5" fill="#20a8e0" stroke="none" stroke-width="1" />
<polygon points="92.0,243.0 98.0,239.5 98.0,243.0 92.0,246.5" fill="#1890c0" stroke="none" stroke-width="1" />
<polygon points="52.0,246.5 58.0,243.0 98.0,243.0 92.0,246.5" fill="#909090" stroke="none" stroke-width="1" />
<polygon points="52.0,246.5 92.0,246.5 92.0,251.5 52.0,251.5" fill="#6a6a6a" stroke="none" stroke-width="1" />
<polygon points="92.0,246.5 98.0,243.0 98.0,248.0 92.0,251.5" fill="#555" stroke="none" stroke-width="1" />
<line x1="54.0" y1="269.7" x2="152.0" y2="249.1" stroke="#ff40a0" stroke-width="1.0" />
<line x1="53.0" y1="302.5" x2="155.0" y2="283.5" stroke="#ff40a0" stroke-width="1.0" />
<line x1="53.0" y1="315.0" x2="158.0" y2="298.6" stroke="#ff40a0" stroke-width="1.0" />
<line x1="53.0" y1="319.7" x2="158.0" y2="306.0" stroke="#ff40a0" stroke-width="1.0" />
<rect x="59.2" y="267.4" width="1.9" height="1.9" fill="#000"/><rect x="73.9" y="264.2" width="1.9" height="1.9" fill="#000"/><rect x="84.3" y="261.9" width="1.9" height="1.9" fill="#000"/><rect x="92.5" y="260.1" width="1.9" height="1.9" fill="#000"/><rect x="99.1" y="258.7" width="1.9" height="1.9" fill="#000"/><rect x="104.7" y="257.4" width="1.9" height="1.9" fill="#000"/><rect x="109.5" y="256.4" width="1.9" height="1.9" fill="#000"/><rect x="113.8" y="255.4" width="1.9" height="1.9" fill="#000"/><rect x="117.6" y="254.6" width="1.9" height="1.9" fill="#000"/><rect x="121.1" y="253.8" width="1.9" height="1.9" fill="#000"/><rect x="124.2" y="253.2" width="1.9" height="1.9" fill="#000"/><rect x="127.1" y="252.5" width="1.9" height="1.9" fill="#000"/><rect x="129.8" y="251.9" width="1.9" height="1.9" fill="#000"/><rect x="132.3" y="251.4" width="1.9" height="1.9" fill="#000"/><rect x="134.7" y="250.9" width="1.9" height="1.9" fill="#000"/><rect x="136.9" y="250.4" width="1.9" height="1.9" fill="#000"/><rect x="139.0" y="249.9" width="1.9" height="1.9" fill="#000"/><rect x="140.9" y="249.5" width="1.9" height="1.9" fill="#000"/><rect x="142.8" y="249.1" width="1.9" height="1.9" fill="#000"/><rect x="144.6" y="248.7" width="1.9" height="1.9" fill="#000"/><rect x="146.2" y="248.3" width="1.9" height="1.9" fill="#000"/><rect x="147.9" y="247.9" width="1.9" height="1.9" fill="#000"/><rect x="149.4" y="247.6" width="1.9" height="1.9" fill="#000"/><rect x="150.9" y="247.3" width="1.9" height="1.9" fill="#000"/><rect x="152.3" y="246.9" width="1.9" height="1.9" fill="#000"/><rect x="153.7" y="246.6" width="1.9" height="1.9" fill="#000"/><rect x="155.0" y="246.1" width="1.9" height="1.9" fill="#000"/><rect x="156.3" y="245.6" width="1.9" height="1.9" fill="#000"/><rect x="157.5" y="245.1" width="1.9" height="1.9" fill="#000"/><rect x="158.7" y="244.6" width="1.9" height="1.9" fill="#000"/><rect x="159.8" y="244.1" width="1.9" height="1.9" fill="#000"/><rect x="161.0" y="243.6" width="1.9" height="1.9" fill="#000"/><rect x="162.0" y="243.2" width="1.9" height="1.9" fill="#000"/><rect x="163.1" y="242.7" width="1.9" height="1.9" fill="#000"/><rect x="164.1" y="242.3" width="1.9" height="1.9" fill="#000"/><rect x="165.1" y="241.8" width="1.9" height="1.9" fill="#000"/><rect x="166.1" y="241.4" width="1.9" height="1.9" fill="#000"/><rect x="167.0" y="241.0" width="1.9" height="1.9" fill="#000"/><rect x="167.9" y="240.6" width="1.9" height="1.9" fill="#000"/><rect x="168.8" y="240.2" width="1.9" height="1.9" fill="#000"/><rect x="169.7" y="239.8" width="1.9" height="1.9" fill="#000"/><rect x="170.6" y="239.5" width="1.9" height="1.9" fill="#000"/><rect x="171.4" y="239.1" width="1.9" height="1.9" fill="#000"/><rect x="172.2" y="238.4" width="1.9" height="1.9" fill="#000"/><rect x="173.0" y="237.7" width="1.9" height="1.9" fill="#000"/><rect x="173.8" y="237.0" width="1.9" height="1.9" fill="#000"/><rect x="174.6" y="236.3" width="1.9" height="1.9" fill="#000"/><rect x="175.3" y="235.6" width="1.9" height="1.9" fill="#000"/><rect x="176.1" y="235.0" width="1.9" height="1.9" fill="#000"/><rect x="176.8" y="234.3" width="1.9" height="1.9" fill="#000"/><rect x="177.5" y="233.8" width="1.9" height="1.9" fill="#000"/><rect x="178.2" y="233.3" width="1.9" height="1.9" fill="#000"/><rect x="178.8" y="232.9" width="1.9" height="1.9" fill="#000"/><rect x="179.5" y="232.4" width="1.9" height="1.9" fill="#000"/><rect x="180.2" y="232.0" width="1.9" height="1.9" fill="#000"/><rect x="180.8" y="231.6" width="1.9" height="1.9" fill="#000"/><rect x="181.4" y="231.2" width="1.9" height="1.9" fill="#000"/><rect x="182.1" y="230.8" width="1.9" height="1.9" fill="#000"/><rect x="182.7" y="230.7" width="1.9" height="1.9" fill="#000"/><rect x="183.3" y="230.6" width="1.9" height="1.9" fill="#000"/><rect x="183.9" y="230.5" width="1.9" height="1.9" fill="#000"/><rect x="184.4" y="230.4" width="1.9" height="1.9" fill="#000"/><rect x="185.0" y="230.3" width="1.9" height="1.9" fill="#000"/><rect x="185.6" y="230.2" width="1.9" height="1.9" fill="#000"/><rect x="186.1" y="230.2" width="1.9" height="1.9" fill="#000"/><rect x="186.7" y="230.1" width="1.9" height="1.9" fill="#000"/><rect x="187.2" y="230.0" width="1.9" height="1.9" fill="#000"/><rect x="187.7" y="229.9" width="1.9" height="1.9" fill="#000"/><rect x="188.3" y="229.8" width="1.9" height="1.9" fill="#000"/>
<polyline points="141.6,250.3 142.6,250.2 143.6,250.0 144.6,249.8 145.6,249.6 146.6,249.4 147.6,249.2 148.6,248.9 149.6,248.7 150.6,248.5 151.6,248.3 152.6,248.0 153.6,247.8 154.6,247.5 155.6,247.1 156.6,246.8 157.6,246.4 158.6,246.0 159.6,245.6 160.6,245.1 161.6,244.7 162.6,244.3 163.6,243.9 164.6,243.4 165.6,243.0 166.6,242.6 167.6,242.1 168.6,241.7 169.6,241.3 170.6,240.7 171.6,240.2 172.6,239.5 173.6,238.8 174.6,238.0 175.6,237.2 176.6,236.4 177.6,235.5 178.6,234.8 179.6,234.0 180.6,233.4 181.6,232.8 182.6,232.4 183.6,232.0 184.6,231.6 185.6,231.4 186.6,231.2 187.6,231.0 188.6,230.9 189.6,230.8 190.6,230.7" fill="none" stroke="#000" stroke-width="1.3" stroke-linejoin="round" />
<rect x="59.2" y="299.8" width="1.8" height="1.8" fill="#f02020"/><rect x="74.0" y="297.0" width="1.8" height="1.8" fill="#f02020"/><rect x="84.4" y="294.9" width="1.8" height="1.8" fill="#f02020"/><rect x="92.5" y="293.4" width="1.8" height="1.8" fill="#f02020"/><rect x="99.1" y="292.1" width="1.8" height="1.8" fill="#f02020"/><rect x="104.7" y="291.1" width="1.8" height="1.8" fill="#f02020"/><rect x="109.6" y="290.3" width="1.8" height="1.8" fill="#f02020"/><rect x="113.8" y="289.5" width="1.8" height="1.8" fill="#f02020"/><rect x="117.7" y="288.8" width="1.8" height="1.8" fill="#f02020"/><rect x="121.1" y="288.2" width="1.8" height="1.8" fill="#f02020"/><rect x="124.3" y="287.7" width="1.8" height="1.8" fill="#f02020"/><rect x="127.2" y="287.2" width="1.8" height="1.8" fill="#f02020"/><rect x="129.9" y="286.7" width="1.8" height="1.8" fill="#f02020"/><rect x="132.4" y="286.2" width="1.8" height="1.8" fill="#f02020"/><rect x="134.7" y="285.8" width="1.8" height="1.8" fill="#f02020"/><rect x="136.9" y="285.4" width="1.8" height="1.8" fill="#f02020"/><rect x="139.0" y="285.1" width="1.8" height="1.8" fill="#f02020"/><rect x="141.0" y="284.7" width="1.8" height="1.8" fill="#f02020"/><rect x="142.8" y="284.4" width="1.8" height="1.8" fill="#f02020"/><rect x="144.6" y="284.1" width="1.8" height="1.8" fill="#f02020"/><rect x="146.3" y="283.8" width="1.8" height="1.8" fill="#f02020"/><rect x="147.9" y="283.5" width="1.8" height="1.8" fill="#f02020"/><rect x="149.5" y="283.2" width="1.8" height="1.8" fill="#f02020"/><rect x="150.9" y="282.6" width="1.8" height="1.8" fill="#f02020"/><rect x="152.4" y="281.5" width="1.8" height="1.8" fill="#f02020"/><rect x="153.7" y="280.4" width="1.8" height="1.8" fill="#f02020"/><rect x="155.0" y="277.3" width="1.8" height="1.8" fill="#f02020"/><rect x="156.3" y="273.4" width="1.8" height="1.8" fill="#f02020"/><rect x="157.6" y="269.7" width="1.8" height="1.8" fill="#f02020"/><rect x="158.7" y="266.0" width="1.8" height="1.8" fill="#f02020"/><rect x="159.9" y="262.4" width="1.8" height="1.8" fill="#f02020"/><rect x="161.0" y="259.0" width="1.8" height="1.8" fill="#f02020"/><rect x="162.1" y="255.6" width="1.8" height="1.8" fill="#f02020"/><rect x="163.2" y="252.4" width="1.8" height="1.8" fill="#f02020"/><rect x="164.2" y="251.2" width="1.8" height="1.8" fill="#f02020"/><rect x="165.2" y="250.0" width="1.8" height="1.8" fill="#f02020"/><rect x="166.1" y="248.8" width="1.8" height="1.8" fill="#f02020"/><rect x="167.1" y="247.6" width="1.8" height="1.8" fill="#f02020"/><rect x="168.0" y="246.5" width="1.8" height="1.8" fill="#f02020"/><rect x="168.9" y="245.4" width="1.8" height="1.8" fill="#f02020"/><rect x="169.8" y="244.3" width="1.8" height="1.8" fill="#f02020"/><rect x="170.6" y="243.3" width="1.8" height="1.8" fill="#f02020"/><rect x="171.5" y="242.3" width="1.8" height="1.8" fill="#f02020"/><rect x="172.3" y="241.3" width="1.8" height="1.8" fill="#f02020"/><rect x="173.1" y="240.5" width="1.8" height="1.8" fill="#f02020"/><rect x="173.9" y="239.6" width="1.8" height="1.8" fill="#f02020"/><rect x="174.6" y="238.7" width="1.8" height="1.8" fill="#f02020"/><rect x="175.4" y="237.9" width="1.8" height="1.8" fill="#f02020"/><rect x="176.1" y="237.1" width="1.8" height="1.8" fill="#f02020"/><rect x="176.8" y="236.3" width="1.8" height="1.8" fill="#f02020"/><rect x="177.5" y="235.5" width="1.8" height="1.8" fill="#f02020"/><rect x="178.2" y="234.7" width="1.8" height="1.8" fill="#f02020"/><rect x="178.9" y="234.3" width="1.8" height="1.8" fill="#f02020"/><rect x="179.6" y="234.1" width="1.8" height="1.8" fill="#f02020"/><rect x="180.2" y="233.9" width="1.8" height="1.8" fill="#f02020"/><rect x="180.9" y="233.7" width="1.8" height="1.8" fill="#f02020"/><rect x="181.5" y="233.5" width="1.8" height="1.8" fill="#f02020"/><rect x="182.1" y="233.3" width="1.8" height="1.8" fill="#f02020"/><rect x="182.7" y="233.2" width="1.8" height="1.8" fill="#f02020"/><rect x="183.3" y="233.0" width="1.8" height="1.8" fill="#f02020"/><rect x="183.9" y="232.8" width="1.8" height="1.8" fill="#f02020"/>
<rect x="59.2" y="313.1" width="1.8" height="1.8" fill="#3030e0"/><rect x="74.0" y="310.7" width="1.8" height="1.8" fill="#3030e0"/><rect x="84.4" y="309.1" width="1.8" height="1.8" fill="#3030e0"/><rect x="92.5" y="307.8" width="1.8" height="1.8" fill="#3030e0"/><rect x="99.1" y="306.7" width="1.8" height="1.8" fill="#3030e0"/><rect x="104.7" y="305.8" width="1.8" height="1.8" fill="#3030e0"/><rect x="109.6" y="305.0" width="1.8" height="1.8" fill="#3030e0"/><rect x="113.8" y="304.3" width="1.8" height="1.8" fill="#3030e0"/><rect x="117.7" y="303.6" width="1.8" height="1.8" fill="#3030e0"/><rect x="121.1" y="303.1" width="1.8" height="1.8" fill="#3030e0"/><rect x="124.3" y="302.5" width="1.8" height="1.8" fill="#3030e0"/><rect x="127.2" y="302.0" width="1.8" height="1.8" fill="#3030e0"/><rect x="129.9" y="301.6" width="1.8" height="1.8" fill="#3030e0"/><rect x="132.4" y="301.1" width="1.8" height="1.8" fill="#3030e0"/><rect x="134.7" y="300.7" width="1.8" height="1.8" fill="#3030e0"/><rect x="136.9" y="300.4" width="1.8" height="1.8" fill="#3030e0"/><rect x="139.0" y="300.0" width="1.8" height="1.8" fill="#3030e0"/><rect x="141.0" y="299.7" width="1.8" height="1.8" fill="#3030e0"/><rect x="142.8" y="299.4" width="1.8" height="1.8" fill="#3030e0"/><rect x="144.6" y="299.1" width="1.8" height="1.8" fill="#3030e0"/><rect x="146.3" y="298.8" width="1.8" height="1.8" fill="#3030e0"/><rect x="147.9" y="298.5" width="1.8" height="1.8" fill="#3030e0"/><rect x="149.5" y="298.2" width="1.8" height="1.8" fill="#3030e0"/><rect x="150.9" y="298.0" width="1.8" height="1.8" fill="#3030e0"/><rect x="152.4" y="297.7" width="1.8" height="1.8" fill="#3030e0"/><rect x="153.7" y="297.5" width="1.8" height="1.8" fill="#3030e0"/><rect x="155.0" y="297.3" width="1.8" height="1.8" fill="#3030e0"/><rect x="156.3" y="296.7" width="1.8" height="1.8" fill="#3030e0"/><rect x="157.6" y="294.2" width="1.8" height="1.8" fill="#3030e0"/><rect x="158.7" y="291.8" width="1.8" height="1.8" fill="#3030e0"/><rect x="159.9" y="289.5" width="1.8" height="1.8" fill="#3030e0"/><rect x="161.0" y="287.3" width="1.8" height="1.8" fill="#3030e0"/><rect x="162.1" y="285.1" width="1.8" height="1.8" fill="#3030e0"/><rect x="163.2" y="283.0" width="1.8" height="1.8" fill="#3030e0"/><rect x="164.2" y="280.6" width="1.8" height="1.8" fill="#3030e0"/><rect x="165.2" y="278.2" width="1.8" height="1.8" fill="#3030e0"/><rect x="166.1" y="275.9" width="1.8" height="1.8" fill="#3030e0"/><rect x="167.1" y="273.7" width="1.8" height="1.8" fill="#3030e0"/><rect x="168.0" y="271.5" width="1.8" height="1.8" fill="#3030e0"/><rect x="168.9" y="269.4" width="1.8" height="1.8" fill="#3030e0"/><rect x="169.8" y="267.3" width="1.8" height="1.8" fill="#3030e0"/><rect x="170.6" y="265.3" width="1.8" height="1.8" fill="#3030e0"/><rect x="171.5" y="263.3" width="1.8" height="1.8" fill="#3030e0"/><rect x="172.3" y="261.3" width="1.8" height="1.8" fill="#3030e0"/><rect x="173.1" y="259.9" width="1.8" height="1.8" fill="#3030e0"/><rect x="173.9" y="259.3" width="1.8" height="1.8" fill="#3030e0"/><rect x="174.6" y="258.7" width="1.8" height="1.8" fill="#3030e0"/><rect x="175.4" y="258.1" width="1.8" height="1.8" fill="#3030e0"/><rect x="176.1" y="257.5" width="1.8" height="1.8" fill="#3030e0"/><rect x="176.8" y="257.0" width="1.8" height="1.8" fill="#3030e0"/><rect x="177.5" y="256.4" width="1.8" height="1.8" fill="#3030e0"/><rect x="178.2" y="255.9" width="1.8" height="1.8" fill="#3030e0"/><rect x="178.9" y="255.3" width="1.8" height="1.8" fill="#3030e0"/><rect x="179.6" y="254.8" width="1.8" height="1.8" fill="#3030e0"/><rect x="180.2" y="254.3" width="1.8" height="1.8" fill="#3030e0"/><rect x="180.9" y="253.8" width="1.8" height="1.8" fill="#3030e0"/><rect x="181.5" y="253.3" width="1.8" height="1.8" fill="#3030e0"/><rect x="182.1" y="252.8" width="1.8" height="1.8" fill="#3030e0"/><rect x="182.7" y="252.5" width="1.8" height="1.8" fill="#3030e0"/><rect x="183.3" y="252.3" width="1.8" height="1.8" fill="#3030e0"/><rect x="183.9" y="252.2" width="1.8" height="1.8" fill="#3030e0"/><rect x="184.5" y="252.1" width="1.8" height="1.8" fill="#3030e0"/><rect x="185.1" y="252.0" width="1.8" height="1.8" fill="#3030e0"/><rect x="185.6" y="251.9" width="1.8" height="1.8" fill="#3030e0"/><rect x="186.2" y="251.8" width="1.8" height="1.8" fill="#3030e0"/><rect x="186.7" y="251.6" width="1.8" height="1.8" fill="#3030e0"/><rect x="187.3" y="251.5" width="1.8" height="1.8" fill="#3030e0"/><rect x="187.8" y="251.4" width="1.8" height="1.8" fill="#3030e0"/><rect x="188.3" y="251.3" width="1.8" height="1.8" fill="#3030e0"/>
<rect x="59.2" y="317.9" width="1.8" height="1.8" fill="#20e020"/><rect x="74.0" y="316.1" width="1.8" height="1.8" fill="#20e020"/><rect x="84.4" y="314.7" width="1.8" height="1.8" fill="#20e020"/><rect x="92.5" y="313.7" width="1.8" height="1.8" fill="#20e020"/><rect x="99.1" y="312.9" width="1.8" height="1.8" fill="#20e020"/><rect x="104.7" y="312.2" width="1.8" height="1.8" fill="#20e020"/><rect x="109.6" y="311.5" width="1.8" height="1.8" fill="#20e020"/><rect x="113.8" y="310.9" width="1.8" height="1.8" fill="#20e020"/><rect x="117.7" y="310.4" width="1.8" height="1.8" fill="#20e020"/><rect x="121.1" y="309.9" width="1.8" height="1.8" fill="#20e020"/><rect x="124.3" y="309.5" width="1.8" height="1.8" fill="#20e020"/><rect x="127.2" y="309.1" width="1.8" height="1.8" fill="#20e020"/><rect x="129.9" y="308.7" width="1.8" height="1.8" fill="#20e020"/><rect x="132.4" y="308.4" width="1.8" height="1.8" fill="#20e020"/><rect x="134.7" y="308.1" width="1.8" height="1.8" fill="#20e020"/><rect x="136.9" y="307.8" width="1.8" height="1.8" fill="#20e020"/><rect x="139.0" y="307.5" width="1.8" height="1.8" fill="#20e020"/><rect x="141.0" y="307.2" width="1.8" height="1.8" fill="#20e020"/><rect x="142.8" y="306.9" width="1.8" height="1.8" fill="#20e020"/><rect x="144.6" y="306.7" width="1.8" height="1.8" fill="#20e020"/><rect x="146.3" y="306.5" width="1.8" height="1.8" fill="#20e020"/><rect x="147.9" y="306.2" width="1.8" height="1.8" fill="#20e020"/><rect x="149.5" y="306.0" width="1.8" height="1.8" fill="#20e020"/><rect x="150.9" y="305.8" width="1.8" height="1.8" fill="#20e020"/><rect x="152.4" y="305.6" width="1.8" height="1.8" fill="#20e020"/><rect x="153.7" y="305.4" width="1.8" height="1.8" fill="#20e020"/><rect x="155.0" y="305.2" width="1.8" height="1.8" fill="#20e020"/><rect x="156.3" y="304.7" width="1.8" height="1.8" fill="#20e020"/><rect x="157.6" y="302.4" width="1.8" height="1.8" fill="#20e020"/><rect x="158.7" y="300.2" width="1.8" height="1.8" fill="#20e020"/><rect x="159.9" y="298.1" width="1.8" height="1.8" fill="#20e020"/><rect x="161.0" y="296.0" width="1.8" height="1.8" fill="#20e020"/><rect x="162.1" y="294.0" width="1.8" height="1.8" fill="#20e020"/><rect x="163.2" y="292.1" width="1.8" height="1.8" fill="#20e020"/><rect x="164.2" y="290.2" width="1.8" height="1.8" fill="#20e020"/><rect x="165.2" y="288.4" width="1.8" height="1.8" fill="#20e020"/><rect x="166.1" y="286.6" width="1.8" height="1.8" fill="#20e020"/><rect x="167.1" y="284.3" width="1.8" height="1.8" fill="#20e020"/><rect x="168.0" y="281.8" width="1.8" height="1.8" fill="#20e020"/><rect x="168.9" y="279.4" width="1.8" height="1.8" fill="#20e020"/><rect x="169.8" y="277.1" width="1.8" height="1.8" fill="#20e020"/><rect x="170.6" y="274.8" width="1.8" height="1.8" fill="#20e020"/><rect x="171.5" y="272.5" width="1.8" height="1.8" fill="#20e020"/><rect x="172.3" y="270.4" width="1.8" height="1.8" fill="#20e020"/><rect x="173.1" y="268.2" width="1.8" height="1.8" fill="#20e020"/><rect x="173.9" y="266.1" width="1.8" height="1.8" fill="#20e020"/><rect x="174.6" y="264.1" width="1.8" height="1.8" fill="#20e020"/><rect x="175.4" y="262.1" width="1.8" height="1.8" fill="#20e020"/><rect x="176.1" y="260.1" width="1.8" height="1.8" fill="#20e020"/><rect x="176.8" y="259.1" width="1.8" height="1.8" fill="#20e020"/><rect x="177.5" y="258.1" width="1.8" height="1.8" fill="#20e020"/><rect x="178.2" y="257.1" width="1.8" height="1.8" fill="#20e020"/><rect x="178.9" y="256.2" width="1.8" height="1.8" fill="#20e020"/><rect x="179.6" y="255.2" width="1.8" height="1.8" fill="#20e020"/><rect x="180.2" y="254.3" width="1.8" height="1.8" fill="#20e020"/><rect x="180.9" y="253.4" width="1.8" height="1.8" fill="#20e020"/><rect x="181.5" y="252.5" width="1.8" height="1.8" fill="#20e020"/><rect x="182.1" y="251.6" width="1.8" height="1.8" fill="#20e020"/><rect x="182.7" y="251.0" width="1.8" height="1.8" fill="#20e020"/><rect x="183.3" y="250.9" width="1.8" height="1.8" fill="#20e020"/><rect x="183.9" y="250.8" width="1.8" height="1.8" fill="#20e020"/><rect x="184.5" y="250.6" width="1.8" height="1.8" fill="#20e020"/><rect x="185.1" y="250.5" width="1.8" height="1.8" fill="#20e020"/><rect x="185.6" y="250.4" width="1.8" height="1.8" fill="#20e020"/><rect x="186.2" y="250.3" width="1.8" height="1.8" fill="#20e020"/><rect x="186.7" y="250.1" width="1.8" height="1.8" fill="#20e020"/><rect x="187.3" y="250.0" width="1.8" height="1.8" fill="#20e020"/><rect x="187.8" y="249.9" width="1.8" height="1.8" fill="#20e020"/><rect x="188.3" y="249.8" width="1.8" height="1.8" fill="#20e020"/>
</g>
<rect x="49.3" y="221.5" width="142.0" height="106.2" fill="none" stroke="#222" stroke-width="0.9" />
<circle cx="108.6" cy="225.3" r="1.15" fill="#000"/>
<text x="115.5" y="227.2" font-size="5.1" fill="#222" text-anchor="start" font-weight="normal" font-family='"Liberation Sans", sans-serif' >PAB-0</text>
<circle cx="108.6" cy="230.6" r="1.15" fill="#3030e0"/>
<text x="115.5" y="232.5" font-size="5.1" fill="#222" text-anchor="start" font-weight="normal" font-family='"Liberation Sans", sans-serif' >PAB-0.10</text>
<circle cx="108.6" cy="235.9" r="1.15" fill="#f02020"/>
<text x="115.5" y="237.8" font-size="5.1" fill="#222" text-anchor="start" font-weight="normal" font-family='"Liberation Sans", sans-serif' >PAB-0.15</text>
<circle cx="108.6" cy="241.2" r="1.15" fill="#20e020"/>
<text x="115.5" y="243.1" font-size="5.1" fill="#222" text-anchor="start" font-weight="normal" font-family='"Liberation Sans", sans-serif' >PAB-0.25</text>
<text x="180.3" y="228.7" font-size="4.9" fill="#ff40c8" text-anchor="middle" font-weight="bold" font-family='"Liberation Sans", sans-serif' >Child</text>
<text x="169.1" y="237.0" font-size="4.8" fill="#555" text-anchor="middle" font-weight="normal" font-family='"Liberation Sans", sans-serif' >TFL</text>
<text x="85.2" y="257.6" font-size="4.4" fill="#111" text-anchor="start" font-weight="bold" font-family='"Liberation Sans", sans-serif' >V<tspan font-size="3" dy="1">TEL</tspan><tspan dy="-1">=0.651V</tspan></text>
<text x="85.2" y="262.7" font-size="4.4" fill="#111" text-anchor="start" font-weight="bold" font-family='"Liberation Sans", sans-serif' >n<tspan font-size="3" dy="1">trap</tspan><tspan dy="-1">=2.777×10</tspan><tspan font-size="3" dy="-1.8">16</tspan><tspan dy="1.8"> cm</tspan><tspan font-size="3" dy="-1.8">-3</tspan></text>
<text x="105.5" y="278.6" font-size="4.4" fill="#f02020" text-anchor="start" font-weight="bold" font-family='"Liberation Sans", sans-serif' >V<tspan font-size="3" dy="1">TEL</tspan><tspan dy="-1">=0.543V</tspan></text>
<text x="105.5" y="284.4" font-size="4.4" fill="#f02020" text-anchor="start" font-weight="bold" font-family='"Liberation Sans", sans-serif' >n<tspan font-size="3" dy="1">trap</tspan><tspan dy="-1">=1.389×10</tspan><tspan font-size="3" dy="-1.8">16</tspan><tspan dy="1.8"> cm</tspan><tspan font-size="3" dy="-1.8">-3</tspan></text>
<text x="88.2" y="298.2" font-size="4.4" fill="#3030e0" text-anchor="start" font-weight="bold" font-family='"Liberation Sans", sans-serif' >V<tspan font-size="3" dy="1">TEL</tspan><tspan dy="-1">=0.613V</tspan></text>
<text x="88.2" y="303.9" font-size="4.4" fill="#3030e0" text-anchor="start" font-weight="bold" font-family='"Liberation Sans", sans-serif' >n<tspan font-size="3" dy="1">trap</tspan><tspan dy="-1">=1.566×10</tspan><tspan font-size="3" dy="-1.8">16</tspan><tspan dy="1.8"> cm</tspan><tspan font-size="3" dy="-1.8">-3</tspan></text>
<text x="130.7" y="315.4" font-size="4.4" fill="#20d020" text-anchor="start" font-weight="bold" font-family='"Liberation Sans", sans-serif' >V<tspan font-size="3" dy="1">TEL</tspan><tspan dy="-1">=0.573V</tspan></text>
<text x="130.7" y="320.8" font-size="4.4" fill="#20d020" text-anchor="start" font-weight="bold" font-family='"Liberation Sans", sans-serif' >n<tspan font-size="3" dy="1">trap</tspan><tspan dy="-1">=1.486×10</tspan><tspan font-size="3" dy="-1.8">16</tspan><tspan dy="1.8"> cm</tspan><tspan font-size="3" dy="-1.8">-3</tspan></text>
<text x="203.2" y="225.9" font-size="12.5" fill="#000" text-anchor="start" font-weight="bold" font-family='"Liberation Sans", sans-serif' >i</text>
<line x1="227.2" y1="229.0" x2="227.2" y2="294.5" stroke="#222" stroke-width="0.9" />
<polygon points="225.0,230.0 229.4,230.0 227.2,224.5" fill="#000" stroke="none" stroke-width="1" />
<text x="0.0" y="0.0" font-size="4.8" fill="#222" text-anchor="middle" font-weight="bold" font-family='"Liberation Sans", sans-serif' transform="translate(224.4,264) rotate(-90)">Energy (ev)</text>
<line x1="234.0" y1="265.0" x2="247.8" y2="265.0" stroke="#111" stroke-width="0.9" />
<text x="240.9" y="261.0" font-size="5.2" fill="#222" text-anchor="middle" font-weight="bold" font-family='"Liberation Sans", sans-serif' >ITO</text>
<text x="241.0" y="270.2" font-size="4.9" fill="#222" text-anchor="middle" font-weight="bold" font-family='"Liberation Sans", sans-serif' >-4.7</text>
<line x1="250.3" y1="269.7" x2="264.1" y2="269.7" stroke="#111" stroke-width="0.9" />
<text x="257.2" y="275.4" font-size="4.9" fill="#222" text-anchor="middle" font-weight="bold" font-family='"Liberation Sans", sans-serif' >-4.9</text>
<text x="0.0" y="0.0" font-size="4.6" fill="#222" text-anchor="middle" font-weight="normal" font-family='"Liberation Sans", sans-serif' transform="translate(258.8,252.4) rotate(-90)">PEDOT:PSS</text>
<rect x="268.1" y="240.7" width="16.2" height="37.2" fill="#9a4e1e" stroke="#6a3010" stroke-width="0.4" />
<text x="0.0" y="0.0" font-size="4.3" fill="#222" text-anchor="middle" font-weight="bold" font-family='"Liberation Sans", sans-serif' transform="translate(278,259) rotate(-90)">MAPbI<tspan font-size="3" dy="0.8">3</tspan></text>
<text x="276.2" y="238.6" font-size="4.9" fill="#222" text-anchor="middle" font-weight="bold" font-family='"Liberation Sans", sans-serif' >-3.9</text>
<text x="276.2" y="282.7" font-size="4.9" fill="#222" text-anchor="middle" font-weight="bold" font-family='"Liberation Sans", sans-serif' >-5.4</text>
<path d="M297,226 H331 Q337.5,226 337.5,232 V291 Q337.5,297 331.5,297 H310.5 L305,305.5 L299.5,297 H297.5 Q291.2,297 291.2,291 V232 Q291.2,226 297,226 Z" fill="#fff" stroke="#9a9a9a" stroke-width="0.55"/>
<line x1="305.0" y1="305.5" x2="305.0" y2="309.5" stroke="#111" stroke-width="0.8" />
<rect x="297.9" y="241.2" width="8.5" height="45.3" fill="#f6c000" stroke="none" stroke-width="1" />
<text x="0.0" y="0.0" font-size="4.3" fill="#222" text-anchor="middle" font-weight="bold" font-family='"Liberation Sans", sans-serif' transform="translate(303.6,265) rotate(-90)">C<tspan font-size="3" dy="0.8">60</tspan></text>
<text x="301.5" y="238.9" font-size="4.9" fill="#222" text-anchor="middle" font-weight="bold" font-family='"Liberation Sans", sans-serif' >-3.92</text>
<text x="301.5" y="292.5" font-size="4.9" fill="#222" text-anchor="middle" font-weight="bold" font-family='"Liberation Sans", sans-serif' >-6.12</text>
<rect x="312.0" y="243.0" width="7.8" height="47.3" fill="#f8a880" stroke="none" stroke-width="1" />
<text x="0.0" y="0.0" font-size="4.3" fill="#222" text-anchor="middle" font-weight="bold" font-family='"Liberation Sans", sans-serif' transform="translate(317.6,270) rotate(-90)">C<tspan font-size="3" dy="0.8">60</tspan>-Ta</text>
<text x="315.5" y="240.7" font-size="4.9" fill="#222" text-anchor="middle" font-weight="bold" font-family='"Liberation Sans", sans-serif' >-3.95</text>
<text x="316.0" y="296.0" font-size="4.9" fill="#222" text-anchor="middle" font-weight="bold" font-family='"Liberation Sans", sans-serif' >-6.6</text>
<rect x="324.1" y="243.9" width="7.3" height="37.4" fill="#e05a10" stroke="none" stroke-width="1" />
<text x="0.0" y="0.0" font-size="4.3" fill="#222" text-anchor="middle" font-weight="bold" font-family='"Liberation Sans", sans-serif' transform="translate(329.3,263.5) rotate(-90)">PCBM</text>
<text x="326.7" y="241.6" font-size="4.9" fill="#222" text-anchor="middle" font-weight="bold" font-family='"Liberation Sans", sans-serif' >-4.0</text>
<text x="327.7" y="286.8" font-size="4.9" fill="#222" text-anchor="middle" font-weight="bold" font-family='"Liberation Sans", sans-serif' >-6.0</text>
<rect x="342.7" y="243.9" width="7.0" height="37.4" fill="#e05a10" stroke="none" stroke-width="1" />
<text x="0.0" y="0.0" font-size="4.3" fill="#222" text-anchor="middle" font-weight="bold" font-family='"Liberation Sans", sans-serif' transform="translate(347.8,263.5) rotate(-90)">PCBM</text>
<text x="346.2" y="241.6" font-size="4.9" fill="#222" text-anchor="middle" font-weight="bold" font-family='"Liberation Sans", sans-serif' >-4.0</text>
<text x="346.2" y="286.8" font-size="4.9" fill="#222" text-anchor="middle" font-weight="bold" font-family='"Liberation Sans", sans-serif' >-6.0</text>
<rect x="354.2" y="230.0" width="9.8" height="57.3" fill="#c8dcf2" stroke="#90b0d8" stroke-width="0.4" />
<text x="0.0" y="0.0" font-size="4.3" fill="#333" text-anchor="middle" font-weight="normal" font-family='"Liberation Sans", sans-serif' transform="translate(360.7,261.4) rotate(-90)">Bphen</text>
<text x="358.8" y="227.8" font-size="4.9" fill="#222" text-anchor="middle" font-weight="bold" font-family='"Liberation Sans", sans-serif' >-3.0</text>
<text x="358.8" y="292.8" font-size="4.9" fill="#222" text-anchor="middle" font-weight="bold" font-family='"Liberation Sans", sans-serif' >-6.4</text>
<line x1="365.6" y1="256.7" x2="379.8" y2="256.7" stroke="#111" stroke-width="0.9" />
<text x="372.7" y="253.3" font-size="5.2" fill="#222" text-anchor="middle" font-weight="bold" font-family='"Liberation Sans", sans-serif' >Ag</text>
<text x="372.7" y="262.8" font-size="4.9" fill="#222" text-anchor="middle" font-weight="bold" font-family='"Liberation Sans", sans-serif' >-4.6</text>
<polygon points="294.5,311.8 363.6,311.8 346.4,329.0 277.3,329.0" fill="#a0603a" stroke="none" stroke-width="1" />
<polygon points="277.3,329.0 346.4,329.0 346.4,336.4 277.3,336.4" fill="#8a4a20" stroke="none" stroke-width="1" />
<polygon points="346.4,329.0 363.6,311.8 363.6,319.5 346.4,336.4" fill="#6a3510" stroke="none" stroke-width="1" />
<polyline points="305.0,312.0 307.0,318.0 312.0,322.0 320.0,320.0 330.0,316.0 336.0,313.0" fill="none" stroke="#111" stroke-width="0.8" stroke-linejoin="round" />
<polyline points="288.0,323.0 295.0,325.0 302.0,329.0 303.0,336.0" fill="none" stroke="#111" stroke-width="0.7" stroke-linejoin="round" />
<polyline points="312.0,322.0 306.0,326.0 302.0,329.0" fill="none" stroke="#111" stroke-width="0.7" stroke-linejoin="round" />
<polyline points="320.0,320.0 330.0,322.0 342.0,324.0 345.0,329.0" fill="none" stroke="#111" stroke-width="0.7" stroke-linejoin="round" />
<text x="283.0" y="335.2" font-size="5.2" fill="#f8e000" text-anchor="start" font-weight="bold" font-family='"Liberation Sans", sans-serif' >MAPbI<tspan font-size="3.2" dy="0.8">3</tspan></text>
<text x="306.5" y="335.2" font-size="5.2" fill="#f8e000" text-anchor="start" font-weight="bold" font-family='"Liberation Sans", sans-serif' >C<tspan font-size="3.2" dy="0.8">60</tspan><tspan dy="-0.8"> additives</tspan></text>
<text x="385.6" y="225.6" font-size="12.5" fill="#000" text-anchor="start" font-weight="bold" font-family='"Liberation Sans", sans-serif' >j</text>
<rect x="412.7" y="217.4" width="124.9" height="99.8" fill="none" stroke="#222" stroke-width="0.8" />
<text x="413.3" y="324.0" font-size="6.2" fill="#222" text-anchor="middle" font-weight="normal" font-family='"Liberation Sans", sans-serif' >4000</text>
<line x1="413.3" y1="317.2" x2="413.3" y2="315.2" stroke="#222" stroke-width="0.6" />
<text x="430.5" y="324.0" font-size="6.2" fill="#222" text-anchor="middle" font-weight="normal" font-family='"Liberation Sans", sans-serif' >3500</text>
<line x1="430.5" y1="317.2" x2="430.5" y2="315.2" stroke="#222" stroke-width="0.6" />
<text x="447.8" y="324.0" font-size="6.2" fill="#222" text-anchor="middle" font-weight="normal" font-family='"Liberation Sans", sans-serif' >3000</text>
<line x1="447.8" y1="317.2" x2="447.8" y2="315.2" stroke="#222" stroke-width="0.6" />
<text x="465.0" y="324.0" font-size="6.2" fill="#222" text-anchor="middle" font-weight="normal" font-family='"Liberation Sans", sans-serif' >2500</text>
<line x1="465.0" y1="317.2" x2="465.0" y2="315.2" stroke="#222" stroke-width="0.6" />
<text x="482.3" y="324.0" font-size="6.2" fill="#222" text-anchor="middle" font-weight="normal" font-family='"Liberation Sans", sans-serif' >2000</text>
<line x1="482.3" y1="317.2" x2="482.3" y2="315.2" stroke="#222" stroke-width="0.6" />
<text x="499.5" y="324.0" font-size="6.2" fill="#222" text-anchor="middle" font-weight="normal" font-family='"Liberation Sans", sans-serif' >1500</text>
<line x1="499.5" y1="317.2" x2="499.5" y2="315.2" stroke="#222" stroke-width="0.6" />
<text x="516.8" y="324.0" font-size="6.2" fill="#222" text-anchor="middle" font-weight="normal" font-family='"Liberation Sans", sans-serif' >1000</text>
<line x1="516.8" y1="317.2" x2="516.8" y2="315.2" stroke="#222" stroke-width="0.6" />
<text x="534.0" y="324.0" font-size="6.2" fill="#222" text-anchor="middle" font-weight="normal" font-family='"Liberation Sans", sans-serif' >500</text>
<line x1="534.0" y1="317.2" x2="534.0" y2="315.2" stroke="#222" stroke-width="0.6" />
<text x="475.0" y="335.5" font-size="6.8" fill="#222" text-anchor="middle" font-weight="bold" font-family='"Liberation Sans", sans-serif' >Wavenumber (cm<tspan font-size="4" dy="-2.5">-1</tspan><tspan dy="2.5">)</tspan></text>
<text x="0.0" y="0.0" font-size="6.1" fill="#222" text-anchor="middle" font-weight="bold" font-family='"Liberation Sans", sans-serif' transform="translate(403.2,275) rotate(-90)">Transmittance (a.u.)</text>
<line x1="415.7" y1="221.4" x2="427.8" y2="221.4" stroke="#111" stroke-width="0.9" />
<text x="429.7" y="223.6" font-size="5.7" fill="#222" text-anchor="start" font-weight="normal" font-family='"Liberation Sans", sans-serif' >PC<tspan font-size="3.4" dy="1.2">61</tspan><tspan dy="-1.2">B-TEG</tspan></text>
<line x1="415.7" y1="229.8" x2="427.8" y2="229.8" stroke="#4060c8" stroke-width="1.2" />
<text x="429.7" y="232.0" font-size="5.7" fill="#222" text-anchor="start" font-weight="normal" font-family='"Liberation Sans", sans-serif' >PC<tspan font-size="3.4" dy="1.2">61</tspan><tspan dy="-1.2">B-TEG + PbI</tspan><tspan font-size="3.4" dy="1.2">2</tspan></text>
<line x1="415.7" y1="238.2" x2="427.8" y2="238.2" stroke="#f03030" stroke-width="1.2" />
<text x="429.7" y="240.4" font-size="5.7" fill="#222" text-anchor="start" font-weight="normal" font-family='"Liberation Sans", sans-serif' >PbI<tspan font-size="3.4" dy="1.2">2</tspan></text>
<polyline points="413.3,290.4 413.6,290.6 413.9,290.3 414.1,289.6 414.4,290.6 414.7,290.4 415.0,290.0 415.2,290.5 415.5,290.4 415.8,290.3 416.1,290.2 416.3,290.5 416.6,289.9 416.9,290.2 417.2,290.1 417.4,290.6 417.7,290.4 418.0,290.3 418.3,290.2 418.5,290.5 418.8,290.7 419.1,290.7 419.4,291.5 419.6,291.4 419.9,289.8 420.2,290.2 420.5,290.9 420.7,290.8 421.0,291.0 421.3,290.9 421.6,291.7 421.9,290.1 422.1,290.4 422.4,291.4 422.7,290.7 423.0,290.7 423.2,290.1 423.5,289.6 423.8,290.4 424.1,290.3 424.3,289.7 424.6,290.0 424.9,290.3 425.2,289.9 425.4,290.4 425.7,290.5 426.0,290.5 426.3,290.3 426.5,290.9 426.8,291.1 427.1,291.0 427.4,290.6 427.6,291.4 427.9,291.0 428.2,291.7 428.5,291.0 428.7,292.1 429.0,291.8 429.3,291.4 429.6,292.0 429.9,292.4 430.1,292.6 430.4,292.2 430.7,292.3 431.0,293.0 431.2,292.8 431.5,293.2 431.8,293.5 432.1,292.5 432.3,293.3 432.6,293.7 432.9,293.0 433.2,292.7 433.4,293.3 433.7,293.0 434.0,293.1 434.3,292.4 434.5,291.8 434.8,292.2 435.1,291.9 435.4,292.3 435.6,291.8 435.9,290.8 436.2,290.9 436.5,291.7 436.8,291.4 437.0,290.7 437.3,290.9 437.6,291.0 437.9,290.9 438.1,291.0 438.4,290.6 438.7,290.4 439.0,290.3 439.2,290.9 439.5,289.3 439.8,290.2 440.1,290.3 440.3,289.6 440.6,290.4 440.9,289.9 441.2,290.6 441.4,290.2 441.7,290.5 442.0,290.8 442.3,290.4 442.5,289.8 442.8,289.5 443.1,291.0 443.4,290.2 443.6,289.9 443.9,290.3 444.2,290.1 444.5,290.6 444.8,290.2 445.0,290.2 445.3,289.9 445.6,290.4 445.9,289.7 446.1,290.5 446.4,290.9 446.7,289.5 447.0,289.1 447.2,290.5 447.5,291.3 447.8,289.7 448.1,289.6 448.3,290.5 448.6,289.8 448.9,290.0 449.2,290.2 449.4,290.9 449.7,291.4 450.0,293.5 450.3,295.2 450.5,295.8 450.8,295.2 451.1,292.9 451.4,291.6 451.6,290.3 451.9,290.3 452.2,292.5 452.5,293.0 452.8,293.0 453.0,292.0 453.3,290.5 453.6,290.2 453.9,290.4 454.1,290.3 454.4,289.7 454.7,290.6 455.0,289.9 455.2,289.7 455.5,289.8 455.8,290.0 456.1,290.9 456.3,289.7 456.6,290.3 456.9,289.2 457.2,290.2 457.4,290.6 457.7,290.1 458.0,289.9 458.3,290.3 458.5,290.5 458.8,290.5 459.1,291.1 459.4,290.3 459.6,289.9 459.9,290.1 460.2,290.2 460.5,290.2 460.8,290.2 461.0,290.3 461.3,289.4 461.6,290.6 461.9,289.9 462.1,289.7 462.4,290.5 462.7,290.8 463.0,290.4 463.2,290.3 463.5,289.8 463.8,291.5 464.1,290.6 464.3,289.7 464.6,289.8 464.9,290.2 465.2,289.5 465.4,290.3 465.7,290.0 466.0,290.8 466.3,290.6 466.5,289.0 466.8,290.2 467.1,289.5 467.4,290.7 467.6,290.3 467.9,290.4 468.2,289.7 468.5,291.0 468.8,291.1 469.0,289.7 469.3,290.4 469.6,289.9 469.9,290.2 470.1,289.6 470.4,291.0 470.7,289.8 471.0,290.1 471.2,290.4 471.5,289.9 471.8,290.1 472.1,289.9 472.3,290.1 472.6,289.7 472.9,290.0 473.2,290.1 473.4,290.0 473.7,290.2 474.0,290.1 474.3,290.5 474.5,290.1 474.8,290.1 475.1,289.9 475.4,290.0 475.7,289.6 475.9,290.4 476.2,289.7 476.5,289.9 476.8,290.4 477.0,290.4 477.3,290.0 477.6,289.3 477.9,290.4 478.1,290.3 478.4,289.6 478.7,290.5 479.0,289.9 479.2,289.7 479.5,290.2 479.8,290.1 480.1,290.3 480.3,289.5 480.6,291.0 480.9,289.9 481.2,289.5 481.4,290.5 481.7,290.0 482.0,290.3 482.3,290.0 482.5,290.2 482.8,290.3 483.1,289.9 483.4,290.5 483.7,290.0 483.9,289.8 484.2,290.2 484.5,290.4 484.8,290.1 485.0,289.8 485.3,290.5 485.6,289.4 485.9,289.7 486.1,290.2 486.4,289.6 486.7,290.2 487.0,290.2 487.2,290.6 487.5,289.8 487.8,289.9 488.1,290.3 488.3,289.1 488.6,291.6 488.9,289.9 489.2,289.9 489.4,290.6 489.7,290.2 490.0,289.4 490.3,290.5 490.5,290.7 490.8,290.9 491.1,292.3 491.4,292.7 491.7,290.7 491.9,290.6 492.2,290.3 492.5,289.9 492.8,289.6 493.0,290.1 493.3,289.8 493.6,290.7 493.9,290.3 494.1,290.6 494.4,290.3 494.7,290.3 495.0,289.8 495.2,290.5 495.5,291.2 495.8,291.1 496.1,291.9 496.3,291.2 496.6,290.1 496.9,289.9 497.2,290.3 497.4,290.1 497.7,290.8 498.0,290.2 498.3,290.3 498.5,290.6 498.8,290.1 499.1,290.8 499.4,289.9 499.7,289.8 499.9,290.0 500.2,290.2 500.5,289.7 500.8,290.8 501.0,290.7 501.3,292.3 501.6,291.1 501.9,290.3 502.1,289.9 502.4,290.0 502.7,290.1 503.0,289.7 503.2,289.8 503.5,290.1 503.8,290.0 504.1,290.6 504.3,290.7 504.6,290.2 504.9,290.4 505.2,289.6 505.4,290.5 505.7,290.2 506.0,290.4 506.3,290.9 506.5,289.2 506.8,290.4 507.1,289.9 507.4,291.1 507.7,290.8 507.9,291.8 508.2,292.3 508.5,292.0 508.8,291.1 509.0,290.2 509.3,290.1 509.6,290.6 509.9,290.2 510.1,289.5 510.4,290.6 510.7,290.4 511.0,290.6 511.2,290.1 511.5,290.7 511.8,289.9 512.1,290.8 512.3,290.4 512.6,291.1 512.9,291.5 513.2,291.0 513.4,291.6 513.7,291.9 514.0,292.7 514.3,292.7 514.6,292.0 514.8,292.9 515.1,293.0 515.4,293.6 515.7,291.7 515.9,292.0 516.2,292.6 516.5,291.1 516.8,290.9 517.0,291.4 517.3,291.4 517.6,290.4 517.9,290.8 518.1,290.5 518.4,291.1 518.7,290.3 519.0,290.7 519.2,289.8 519.5,290.1 519.8,290.2 520.1,290.7 520.3,290.5 520.6,289.9 520.9,290.5 521.2,290.5 521.4,290.1 521.7,290.1 522.0,290.1 522.3,289.4 522.6,290.3 522.8,290.3 523.1,289.8 523.4,290.5 523.7,289.6 523.9,290.0 524.2,290.1 524.5,291.4 524.8,290.1 525.0,291.6 525.3,292.1 525.6,291.7 525.9,291.7 526.1,290.2 526.4,289.3 526.7,290.6 527.0,289.7 527.2,290.1 527.5,289.7 527.8,290.7 528.1,290.6 528.3,289.9 528.6,290.6 528.9,290.3 529.2,290.1 529.4,290.2 529.7,290.1 530.0,290.5 530.3,290.3 530.6,290.0 530.8,290.7 531.1,289.9 531.4,290.3 531.7,290.4 531.9,290.9 532.2,290.0 532.5,291.0 532.8,290.5 533.0,291.7 533.3,292.9 533.6,292.0 533.9,290.5 534.1,289.7 534.4,289.7 534.7,290.0 535.0,289.9 535.2,290.7 535.5,290.8 535.8,290.6 536.1,290.4 536.3,290.0 536.6,290.2" fill="none" stroke="#111" stroke-width="1.1" stroke-linejoin="round" />
<polyline points="413.3,300.3 413.6,300.2 414.0,300.3 414.3,300.0 414.7,300.5 415.0,300.4 415.4,300.3 415.7,300.4 416.1,300.3 416.4,300.2 416.7,300.4 417.1,300.3 417.4,300.3 417.8,300.2 418.1,300.4 418.5,300.3 418.8,300.4 419.2,300.2 419.5,300.3 419.9,300.2 420.2,300.4 420.5,300.3 420.9,300.3 421.2,300.3 421.6,300.2 421.9,300.4 422.3,300.5 422.6,300.1 423.0,300.1 423.3,300.1 423.6,300.4 424.0,300.3 424.3,300.4 424.7,300.4 425.0,300.3 425.4,300.3 425.7,300.3 426.1,300.4 426.4,300.2 426.7,300.3 427.1,300.4 427.4,300.8 427.8,300.8 428.1,301.1 428.5,301.6 428.8,301.9 429.2,301.6 429.5,301.4 429.9,300.6 430.2,300.7 430.5,300.5 430.9,300.2 431.2,300.3 431.6,300.4 431.9,300.3 432.3,300.4 432.6,300.6 433.0,300.3 433.3,300.3 433.6,300.2 434.0,300.4 434.3,300.3 434.7,300.3 435.0,300.3 435.4,300.4 435.7,300.2 436.1,300.1 436.4,300.0 436.8,300.4 437.1,300.3 437.4,300.5 437.8,300.3 438.1,300.2 438.5,300.4 438.8,300.3 439.2,300.1 439.5,300.2 439.9,300.5 440.2,300.3 440.5,300.3 440.9,300.3 441.2,300.2 441.6,300.4 441.9,300.3 442.3,300.2 442.6,300.3 443.0,300.2 443.3,300.3 443.6,300.4 444.0,300.2 444.3,300.5 444.7,300.2 445.0,300.3 445.4,300.2 445.7,300.3 446.1,300.3 446.4,300.2 446.8,300.2 447.1,300.2 447.4,300.2 447.8,300.1 448.1,300.3 448.5,300.3 448.8,300.4 449.2,300.4 449.5,300.6 449.9,300.3 450.2,300.2 450.5,300.5 450.9,300.2 451.2,300.4 451.6,300.2 451.9,300.3 452.3,300.1 452.6,300.4 453.0,300.3 453.3,300.2 453.6,300.5 454.0,300.4 454.3,300.3 454.7,300.2 455.0,300.3 455.4,300.3 455.7,300.4 456.1,300.4 456.4,300.2 456.8,300.2 457.1,300.2 457.4,300.1 457.8,300.2 458.1,300.3 458.5,300.4 458.8,300.5 459.2,300.2 459.5,300.4 459.9,300.2 460.2,300.5 460.5,300.3 460.9,300.4 461.2,300.2 461.6,300.2 461.9,300.3 462.3,300.3 462.6,300.3 463.0,300.1 463.3,300.4 463.6,300.2 464.0,300.5 464.3,300.3 464.7,300.4 465.0,300.1 465.4,300.4 465.7,300.2 466.1,300.2 466.4,300.3 466.8,300.3 467.1,300.3 467.4,300.4 467.8,300.4 468.1,300.3 468.5,300.1 468.8,300.2 469.2,300.3 469.5,300.0 469.9,300.4 470.2,300.3 470.5,300.3 470.9,300.4 471.2,300.4 471.6,300.3 471.9,300.2 472.3,300.3 472.6,300.3 473.0,300.2 473.3,300.4 473.7,300.4 474.0,300.1 474.3,300.3 474.7,300.1 475.0,300.4 475.4,300.4 475.7,300.2 476.1,300.2 476.4,300.3 476.8,300.3 477.1,300.5 477.4,300.4 477.8,300.3 478.1,300.4 478.5,300.1 478.8,300.3 479.2,300.4 479.5,300.3 479.9,300.2 480.2,300.4 480.5,300.5 480.9,300.3 481.2,300.2 481.6,300.5 481.9,300.1 482.3,300.4 482.6,300.2 483.0,300.4 483.3,300.2 483.7,300.5 484.0,300.3 484.3,300.1 484.7,300.1 485.0,300.3 485.4,300.5 485.7,300.3 486.1,300.3 486.4,300.3 486.8,300.4 487.1,300.3 487.4,300.3 487.8,300.2 488.1,300.4 488.5,300.5 488.8,300.1 489.2,300.6 489.5,300.4 489.9,300.2 490.2,300.1 490.5,300.4 490.9,300.4 491.2,300.2 491.6,300.1 491.9,300.4 492.3,300.2 492.6,300.2 493.0,300.6 493.3,300.6 493.7,300.4 494.0,300.2 494.3,300.4 494.7,300.0 495.0,300.3 495.4,300.2 495.7,300.1 496.1,300.1 496.4,300.5 496.8,302.2 497.1,305.3 497.4,302.2 497.8,300.3 498.1,300.2 498.5,300.1 498.8,300.3 499.2,300.4 499.5,300.3 499.9,300.4 500.2,300.2 500.5,300.2 500.9,300.2 501.2,300.2 501.6,300.5 501.9,300.4 502.3,300.2 502.6,300.2 503.0,300.3 503.3,300.1 503.7,300.4 504.0,300.1 504.3,300.3 504.7,300.2 505.0,300.2 505.4,300.1 505.7,300.1 506.1,300.2 506.4,300.2 506.8,300.3 507.1,300.3 507.4,300.5 507.8,300.4 508.1,300.3 508.5,300.4 508.8,300.2 509.2,300.5 509.5,300.4 509.9,300.1 510.2,300.4 510.5,300.4 510.9,300.0 511.2,300.2 511.6,300.2 511.9,300.1 512.3,300.2 512.6,300.2 513.0,300.4 513.3,300.3 513.7,300.6 514.0,300.3 514.3,300.4 514.7,300.3 515.0,300.3 515.4,300.2 515.7,300.1 516.1,300.2 516.4,300.4 516.8,300.5 517.1,300.4 517.4,300.4 517.8,300.2 518.1,300.5 518.5,300.5 518.8,300.2 519.2,300.3 519.5,300.2 519.9,300.5 520.2,300.3 520.6,300.3 520.9,300.3 521.2,300.4 521.6,300.3 521.9,300.2 522.3,300.1 522.6,300.1 523.0,300.4 523.3,300.6 523.7,300.1 524.0,300.3 524.3,300.3 524.7,300.2 525.0,300.3 525.4,300.2 525.7,300.5 526.1,300.3 526.4,300.6 526.8,301.0 527.1,301.0 527.4,300.7 527.8,300.5 528.1,300.5 528.5,300.3 528.8,300.3 529.2,300.2 529.5,300.3 529.9,300.4 530.2,300.3 530.6,300.5 530.9,300.3 531.2,300.2 531.6,300.1 531.9,300.4 532.3,300.3 532.6,300.4 533.0,300.4 533.3,300.5 533.7,300.5 534.0,300.3 534.3,300.3 534.7,300.4 535.0,300.2 535.4,301.1 535.7,303.4 536.1,301.0 536.4,300.3" fill="none" stroke="#f03030" stroke-width="1.1" stroke-linejoin="round" />
<polyline points="413.3,304.7 413.6,303.8 414.0,304.4 414.3,304.2 414.7,304.2 415.0,304.3 415.4,303.9 415.7,304.3 416.1,304.1 416.4,304.9 416.7,304.3 417.1,304.2 417.4,304.2 417.8,304.2 418.1,304.1 418.5,304.2 418.8,304.4 419.2,304.3 419.5,304.5 419.9,304.3 420.2,304.3 420.5,304.6 420.9,304.4 421.2,304.2 421.6,304.3 421.9,304.4 422.3,304.6 422.6,304.3 423.0,304.3 423.3,304.5 423.6,304.1 424.0,304.2 424.3,304.5 424.7,304.4 425.0,304.3 425.4,304.5 425.7,304.1 426.1,305.4 426.4,306.2 426.7,307.4 427.1,308.3 427.4,307.8 427.8,306.3 428.1,305.1 428.5,305.0 428.8,305.4 429.2,306.9 429.5,308.3 429.9,308.8 430.2,308.3 430.5,306.6 430.9,305.2 431.2,304.8 431.6,304.5 431.9,304.3 432.3,304.2 432.6,304.3 433.0,303.9 433.3,304.4 433.6,304.4 434.0,304.0 434.3,304.3 434.7,304.1 435.0,304.4 435.4,303.9 435.7,304.1 436.1,304.4 436.4,304.5 436.8,303.9 437.1,304.2 437.4,304.4 437.8,304.2 438.1,304.6 438.5,304.1 438.8,304.4 439.2,304.1 439.5,304.6 439.9,304.3 440.2,304.2 440.5,304.0 440.9,304.6 441.2,304.4 441.6,304.4 441.9,304.5 442.3,304.4 442.6,304.2 443.0,304.2 443.3,304.2 443.6,304.5 444.0,304.0 444.3,304.2 444.7,304.2 445.0,304.3 445.4,304.4 445.7,304.1 446.1,304.0 446.4,304.3 446.8,304.5 447.1,304.4 447.4,304.3 447.8,304.2 448.1,304.4 448.5,304.3 448.8,304.5 449.2,304.3 449.5,304.6 449.9,304.7 450.2,305.1 450.5,305.3 450.9,305.9 451.2,305.8 451.6,305.7 451.9,304.9 452.3,304.9 452.6,304.6 453.0,304.6 453.3,304.0 453.6,304.6 454.0,304.5 454.3,304.1 454.7,304.1 455.0,304.2 455.4,304.3 455.7,304.4 456.1,304.7 456.4,304.3 456.8,304.4 457.1,304.3 457.4,304.6 457.8,304.4 458.1,304.5 458.5,304.1 458.8,304.3 459.2,304.2 459.5,304.6 459.9,304.4 460.2,304.2 460.5,304.2 460.9,304.4 461.2,304.2 461.6,304.1 461.9,304.4 462.3,304.7 462.6,304.3 463.0,304.2 463.3,304.1 463.6,304.1 464.0,304.4 464.3,304.5 464.7,304.3 465.0,304.4 465.4,304.3 465.7,304.3 466.1,304.0 466.4,304.2 466.8,304.3 467.1,304.2 467.4,304.2 467.8,304.2 468.1,304.2 468.5,304.5 468.8,304.2 469.2,304.3 469.5,304.4 469.9,304.4 470.2,304.6 470.5,303.9 470.9,304.5 471.2,304.2 471.6,304.3 471.9,304.5 472.3,304.5 472.6,304.5 473.0,304.3 473.3,304.6 473.7,304.2 474.0,304.3 474.3,304.4 474.7,304.2 475.0,304.7 475.4,304.5 475.7,304.7 476.1,304.3 476.4,304.2 476.8,304.3 477.1,304.4 477.4,304.2 477.8,304.4 478.1,304.3 478.5,304.6 478.8,304.2 479.2,304.5 479.5,304.2 479.9,304.1 480.2,304.2 480.5,304.1 480.9,304.3 481.2,304.5 481.6,304.3 481.9,304.4 482.3,304.6 482.6,304.3 483.0,304.3 483.3,304.3 483.7,304.0 484.0,304.4 484.3,304.0 484.7,304.4 485.0,304.3 485.4,304.5 485.7,304.3 486.1,304.2 486.4,304.4 486.8,304.2 487.1,304.3 487.4,304.3 487.8,304.3 488.1,304.3 488.5,304.2 488.8,304.3 489.2,303.9 489.5,304.3 489.9,304.1 490.2,304.5 490.5,304.5 490.9,303.9 491.2,304.3 491.6,304.3 491.9,304.1 492.3,304.4 492.6,304.2 493.0,304.0 493.3,304.3 493.7,304.3 494.0,304.3 494.3,304.1 494.7,304.5 495.0,304.8 495.4,304.9 495.7,305.2 496.1,305.1 496.4,305.1 496.8,309.0 497.1,312.9 497.4,308.4 497.8,304.7 498.1,304.3 498.5,304.7 498.8,304.3 499.2,304.3 499.5,304.4 499.9,304.3 500.2,304.7 500.5,304.2 500.9,304.4 501.2,304.3 501.6,304.4 501.9,304.1 502.3,304.6 502.6,304.3 503.0,304.3 503.3,304.1 503.7,304.3 504.0,304.7 504.3,305.1 504.7,305.2 505.0,305.1 505.4,304.7 505.7,304.4 506.1,304.5 506.4,304.4 506.8,304.3 507.1,304.4 507.4,304.5 507.8,304.3 508.1,304.2 508.5,304.4 508.8,304.6 509.2,304.3 509.5,304.3 509.9,304.3 510.2,304.5 510.5,304.0 510.9,304.4 511.2,304.6 511.6,304.3 511.9,304.9 512.3,304.9 512.6,304.8 513.0,305.1 513.3,304.8 513.7,304.9 514.0,305.3 514.3,304.6 514.7,304.9 515.0,304.5 515.4,304.6 515.7,304.3 516.1,303.9 516.4,304.2 516.8,304.3 517.1,304.1 517.4,304.1 517.8,304.4 518.1,304.2 518.5,304.0 518.8,304.2 519.2,304.5 519.5,304.2 519.9,304.5 520.2,304.6 520.6,304.3 520.9,304.1 521.2,304.1 521.6,304.3 521.9,304.5 522.3,304.3 522.6,304.4 523.0,304.2 523.3,304.4 523.7,304.2 524.0,304.2 524.3,304.1 524.7,304.0 525.0,304.2 525.4,304.1 525.7,304.1 526.1,304.4 526.4,304.3 526.8,304.8 527.1,304.5 527.4,304.2 527.8,304.4 528.1,304.4 528.5,304.2 528.8,304.5 529.2,304.2 529.5,303.7 529.9,304.4 530.2,304.2 530.6,304.6 530.9,304.2 531.2,304.1 531.6,304.6 531.9,304.1 532.3,304.3 532.6,304.6 533.0,304.3 533.3,304.3 533.7,304.3 534.0,304.5 534.3,304.3 534.7,306.6 535.0,310.4 535.4,306.9 535.7,304.3 536.1,304.1 536.4,304.4" fill="none" stroke="#2050c0" stroke-width="1.3" stroke-linejoin="round" />
<circle cx="430.7" cy="270.9" r="10.8" fill="#fbf0f0" stroke="#9a5050" stroke-width="0.7"/>
<path d="M420.4,271.6L420.9,269.2 M420.9,269.2L422.4,265.3 M420.9,269.2L422.3,271.5 M421.5,275.5L422.6,275.4 M422.4,265.3L423.3,263.9 M422.4,265.3L425.1,263.8 M422.3,271.5L422.6,275.4 M422.3,271.5L425.0,270.0 M422.6,275.4L425.7,277.8 M425.1,263.8L427.8,261.4 M425.1,263.8L426.5,266.1 M426.7,261.5L427.8,261.4 M426.6,280.3L427.8,280.3 M425.0,270.0L426.5,266.1 M425.0,270.0L428.2,272.4 M425.7,277.8L427.8,280.3 M425.7,277.8L428.5,276.3 M427.8,261.4L431.9,261.4 M426.5,266.1L430.5,266.1 M427.8,280.3L431.8,280.3 M428.2,272.4L428.5,276.3 M428.2,272.4L431.6,270.0 M428.5,276.3L432.3,277.8 M431.9,261.4L433.2,263.8 M431.9,261.4L434.8,261.5 M430.5,266.1L431.6,270.0 M430.5,266.1L433.2,263.8 M431.8,280.3L432.3,277.8 M431.8,280.3L434.7,280.3 M431.6,270.0L435.3,271.5 M432.3,277.8L435.6,275.4 M433.2,263.8L436.9,265.3 M434.8,261.5L437.9,263.9 M434.7,280.3L438.1,277.9 M435.3,271.5L435.6,275.4 M435.3,271.5L438.0,269.2 M435.6,275.4L438.5,275.5 M436.9,265.3L437.9,263.9 M436.9,265.3L438.0,269.2 M437.9,263.9L439.9,266.3 M438.1,277.9L438.5,275.5 M438.0,269.2L440.0,271.6 M439.9,266.3L441.0,270.2 M438.5,275.5L440.0,271.6 M440.0,271.6L441.0,270.2" stroke="#d8a8a8" stroke-width="0.35" fill="none"/>
<path d="M420.4,271.6L421.4,270.2 M420.4,271.6L421.5,275.5 M421.4,270.2L422.9,266.3 M421.4,270.2L423.4,272.6 M422.9,266.3L423.3,263.9 M422.9,266.3L425.8,266.4 M421.5,275.5L423.5,277.9 M423.4,272.6L424.5,276.5 M423.4,272.6L426.1,270.3 M423.3,263.9L426.7,261.5 M423.5,277.9L424.5,276.5 M423.5,277.9L426.6,280.3 M424.5,276.5L428.2,278.0 M425.8,266.4L426.1,270.3 M425.8,266.4L429.1,264.0 M426.1,270.3L429.8,271.8 M426.7,261.5L429.6,261.5 M426.6,280.3L429.5,280.4 M428.2,278.0L430.9,275.7 M428.2,278.0L429.5,280.4 M429.1,264.0L429.6,261.5 M429.1,264.0L432.9,265.5 M429.8,271.8L430.9,275.7 M429.8,271.8L433.2,269.4 M429.6,261.5L433.6,261.5 M430.9,275.7L434.9,275.7 M429.5,280.4L433.6,280.4 M432.9,265.5L433.2,269.4 M432.9,265.5L435.7,264.0 M433.2,269.4L436.4,271.8 M433.6,261.5L435.7,264.0 M433.6,261.5L434.8,261.5 M434.9,275.7L436.4,271.8 M434.9,275.7L436.3,278.0 M433.6,280.4L434.7,280.3 M433.6,280.4L436.3,278.0 M435.7,264.0L438.8,266.4 M436.4,271.8L439.1,270.3 M436.3,278.0L439.0,276.5 M438.8,266.4L439.1,270.3 M438.8,266.4L439.9,266.3 M439.1,270.3L440.5,272.6 M438.1,277.9L439.0,276.5 M439.0,276.5L440.5,272.6 M440.5,272.6L441.0,270.2" stroke="#4a3434" stroke-width="0.6" fill="none"/>
<polygon points="427.2,254.4 425.7,257.0 422.7,257.0 421.2,254.4 422.7,251.8 425.7,251.8" fill="none" stroke="#555" stroke-width="0.6" />
<polyline points="427.2,255.5 430.0,259.5 430.7,260.5" fill="none" stroke="#555" stroke-width="0.6" stroke-linejoin="round" />
<polyline points="428.5,255.7 431.1,258.3 433.7,255.7 436.3,258.3 438.9,255.7 441.5,258.3 444.1,255.7 446.7,258.3 449.3,255.7 451.9,258.3 454.5,255.7 457.1,258.3 459.7,255.7 462.3,258.3 464.9,255.7 467.5,258.3 470.1,255.7 472.7,258.3 475.3,255.7 477.9,258.3" fill="none" stroke="#888" stroke-width="0.6" stroke-linejoin="round" />
<circle cx="444" cy="256" r="0.8" fill="#f06060"/>
<circle cx="456" cy="256" r="0.8" fill="#f06060"/>
<circle cx="466" cy="256" r="0.8" fill="#f06060"/>
<circle cx="474" cy="256" r="0.8" fill="#f06060"/>
<line x1="444.0" y1="258.0" x2="444.0" y2="262.0" stroke="#f06060" stroke-width="0.7" />
<rect x="482.7" y="232.5" width="14.3" height="42.9" fill="#c4dcee" stroke="none" stroke-width="1" />
<rect x="510.7" y="236.2" width="21.8" height="39.2" fill="#c4dcee" stroke="none" stroke-width="1" />
<line x1="488.0" y1="250.0" x2="488.0" y2="275.4" stroke="#8aa8c8" stroke-width="0.4" />
<line x1="493.0" y1="250.0" x2="493.0" y2="275.4" stroke="#8aa8c8" stroke-width="0.4" />
<line x1="514.0" y1="252.0" x2="514.0" y2="275.4" stroke="#8aa8c8" stroke-width="0.4" />
<line x1="529.5" y1="252.0" x2="529.5" y2="275.4" stroke="#8aa8c8" stroke-width="0.4" />
<line x1="476.5" y1="275.0" x2="505.4" y2="275.0" stroke="#555" stroke-width="0.5" />
<line x1="509.0" y1="275.0" x2="534.0" y2="275.0" stroke="#555" stroke-width="0.5" />
<text x="491.7" y="281.9" font-size="5.3" fill="#222" text-anchor="middle" font-weight="normal" font-family='"Liberation Sans", sans-serif' >1750 1700</text>
<text x="521.3" y="281.9" font-size="5.3" fill="#222" text-anchor="middle" font-weight="normal" font-family='"Liberation Sans", sans-serif' >12501200</text>
<text x="488.7" y="235.8" font-size="3.4" fill="#223" text-anchor="middle" font-weight="normal" font-family='"Liberation Sans", sans-serif' >C=O</text>
<text x="523.2" y="271.5" font-size="3.4" fill="#223" text-anchor="middle" font-weight="normal" font-family='"Liberation Sans", sans-serif' >C-O</text>
<polyline points="476.5,238.3 477.0,238.3 477.5,238.6 478.0,239.0 478.5,239.6 479.0,240.5 479.5,241.5 480.0,242.8 480.5,244.1 481.0,245.3 481.5,246.5 482.0,247.8 482.5,249.2 483.0,250.7 483.5,252.4 484.0,254.0 484.5,255.6 485.0,257.1 485.5,258.6 486.0,259.9 486.5,261.0 487.0,261.8 487.5,262.4 488.0,262.7 488.5,262.9 489.0,262.6 489.5,262.0 490.0,261.0 490.5,259.8 491.0,258.5 491.5,257.0 492.0,255.4 492.5,253.7 493.0,252.1 493.5,250.6 494.0,249.0 494.5,247.5 495.0,246.2 495.5,245.2 496.0,244.4 496.5,243.9 497.0,243.6 497.5,243.5 498.0,243.5 498.5,243.4 499.0,243.2 499.5,242.9 500.0,242.7 500.5,242.7 501.0,242.9 501.5,243.5 502.0,244.1 502.5,244.9 503.0,245.7 503.5,246.4 504.0,246.8 504.5,247.0 505.0,247.0" fill="none" stroke="#222" stroke-width="0.9" stroke-linejoin="round" />
<polyline points="476.5,247.0 480.0,246.5 484.0,247.0 488.0,246.0 492.0,246.8 496.0,246.0 500.0,246.5 505.0,246.0" fill="none" stroke="#f03030" stroke-width="1.0" stroke-linejoin="round" />
<polyline points="476.5,248.9 477.0,248.8 477.5,248.7 478.0,248.6 478.5,248.4 479.0,248.4 479.5,248.4 480.0,248.6 480.5,248.8 481.0,249.1 481.5,249.5 482.0,250.0 482.5,250.5 483.0,251.0 483.5,251.5 484.0,252.0 484.5,252.6 485.0,253.3 485.5,254.0 486.0,254.7 486.5,255.5 487.0,256.2 487.5,256.9 488.0,257.5 488.5,258.0 489.0,258.4 489.5,258.8 490.0,259.0 490.5,259.2 491.0,259.3 491.5,259.1 492.0,258.6 492.5,258.0 493.0,257.1 493.5,256.0 494.0,254.9 494.5,254.0 495.0,253.3 495.5,252.8 496.0,252.5 496.5,252.5 497.0,252.6 497.5,252.8 498.0,252.9 498.5,252.9 499.0,253.0 499.5,253.0 500.0,253.1 500.5,253.2 501.0,253.4 501.5,253.7 502.0,254.1 502.5,254.5 503.0,254.9 503.5,255.3 504.0,255.6" fill="none" stroke="#3050c0" stroke-width="0.9" stroke-linejoin="round" />
<line x1="510.0" y1="236.0" x2="533.0" y2="231.0" stroke="#f03030" stroke-width="1.0" />
<polyline points="510.0,254.4 510.5,254.7 511.0,255.1 511.5,255.5 512.0,255.8 512.5,255.9 513.0,255.8 513.5,255.5 514.0,255.1 514.5,254.4 515.0,253.5 515.5,252.6 516.0,251.7 516.5,250.8 517.0,249.8 517.5,248.7 518.0,247.6 518.5,246.5 519.0,245.4 519.5,244.5 520.0,243.7 520.5,243.0 521.0,242.4 521.5,241.9 522.0,241.5 522.5,241.1 523.0,240.9 523.5,240.7 524.0,240.7 524.5,240.9 525.0,241.1 525.5,241.5 526.0,242.2 526.5,243.0 527.0,244.0 527.5,245.2 528.0,246.5 528.5,248.0 529.0,249.2 529.5,250.0 530.0,250.3 530.5,250.1 531.0,249.8 531.5,249.1 532.0,248.3" fill="none" stroke="#222" stroke-width="0.9" stroke-linejoin="round" />
<polyline points="510.0,255.9 510.5,256.4 511.0,257.0 511.5,257.5 512.0,257.9 512.5,258.2 513.0,258.3 513.5,258.2 514.0,258.0 514.5,257.8 515.0,257.4 515.5,256.8 516.0,256.1 516.5,255.3 517.0,254.4 517.5,253.2 518.0,252.0 518.5,250.7 519.0,249.6 519.5,248.5 520.0,247.5 520.5,246.6 521.0,245.8 521.5,245.1 522.0,244.5 522.5,243.9 523.0,243.4 523.5,243.2 524.0,243.1 524.5,243.2 525.0,243.5 525.5,244.0 526.0,244.8 526.5,245.8 527.0,246.9 527.5,248.1 528.0,249.5 528.5,251.0 529.0,252.2 529.5,252.9 530.0,253.1 530.5,252.8 531.0,252.3 531.5,251.5 532.0,250.5" fill="none" stroke="#3050c0" stroke-width="0.9" stroke-linejoin="round" />
<polygon points="472.8,264.2 478.8,264.2 478.8,262.8 482.0,265.0 478.8,267.2 478.8,265.8 472.8,265.8" fill="#f02020" stroke="none" stroke-width="1" />
<polygon points="500.8,258.7 506.8,258.7 506.8,257.3 510.0,259.5 506.8,261.7 506.8,260.3 500.8,260.3" fill="#f02020" stroke="none" stroke-width="1" />
</svg></body></html>
